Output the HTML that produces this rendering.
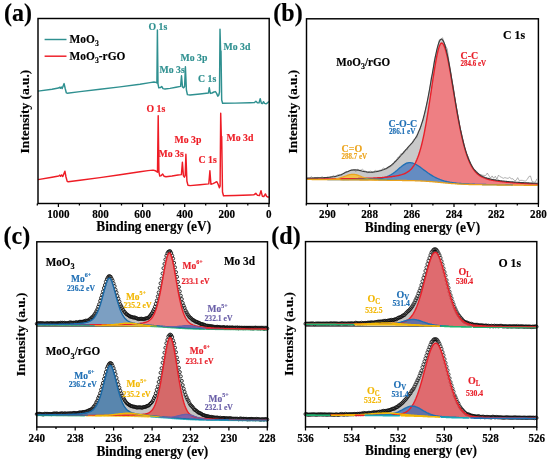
<!DOCTYPE html>
<html><head><meta charset="utf-8"><title>XPS spectra</title>
<style>
html,body{margin:0;padding:0;background:#fff}
svg{display:block}
svg text{font-family:"Liberation Serif", serif;font-weight:bold;stroke-width:0.15px}
.mk{fill:none;stroke:none;marker-start:url(#c);marker-mid:url(#c);marker-end:url(#c)}
.mk2{fill:none;stroke:none;marker-start:url(#c2);marker-mid:url(#c2);marker-end:url(#c2)}
</style></head><body>
<svg width="550" height="463" viewBox="0 0 550 463">
<defs><marker id="c" markerWidth="6" markerHeight="6" refX="3" refY="3" markerUnits="userSpaceOnUse" overflow="visible"><circle cx="3" cy="3" r="1.55" fill="none" stroke="#111" stroke-width="0.85"/></marker><marker id="c2" markerWidth="6" markerHeight="6" refX="3" refY="3" markerUnits="userSpaceOnUse" overflow="visible"><circle cx="3" cy="3" r="1.6" fill="none" stroke="#000" stroke-width="0.7"/></marker></defs>
<rect width="550" height="463" fill="#fff"/>
<polyline points="38.0,91.1 52.0,89.3 58.5,88.0 59.5,87.2 60.3,88.3 61.2,87.0 62.2,88.6 64.1,83.6 65.2,88.5 66.3,92.8 67.2,93.2 80.0,91.6 100.0,89.3 120.0,86.9 140.0,84.2 150.0,82.6 154.0,82.0 156.0,82.4 156.9,83.0 157.4,30.0 158.0,84.0 158.8,87.8 160.5,87.6 161.7,86.4 163.0,88.6 165.0,89.0 170.0,88.4 176.0,87.3 180.6,86.4 181.5,75.8 182.5,87.0 183.6,87.8 184.6,86.5 185.4,66.7 186.4,90.0 187.4,94.6 190.0,95.0 200.0,94.0 208.4,93.0 209.3,87.8 210.3,93.4 212.0,93.0 214.0,92.0 215.4,91.6 216.6,93.4 217.8,96.2 218.8,95.0 219.5,92.0 220.0,29.3 220.6,51.0 221.0,51.0 221.7,100.0 222.6,103.2 235.0,103.1 250.0,102.7 254.5,102.5 255.9,101.2 257.4,102.8 259.0,102.9 260.2,98.7 261.4,103.2 262.5,103.6 263.5,101.7 264.6,103.4 266.0,103.8 267.5,102.8 269.0,101.5" fill="none" stroke="#2f9090" stroke-width="1.45" stroke-linejoin="round"/>
<polyline points="38.0,179.6 52.0,177.2 58.7,176.0 59.8,175.2 60.6,176.3 61.6,174.9 62.8,176.5 64.9,171.2 66.0,177.0 67.2,181.4 68.2,181.8 80.0,180.2 100.0,177.6 120.0,174.7 140.0,171.7 148.0,170.6 153.0,170.1 155.5,170.8 157.5,172.2 158.2,115.8 158.9,172.0 159.8,176.0 161.3,175.6 162.7,174.0 164.0,176.2 166.0,176.8 172.0,176.0 178.0,175.0 181.4,174.6 182.4,162.2 183.4,175.6 184.4,177.2 185.2,175.5 185.9,154.3 186.9,181.0 187.9,185.2 190.0,185.6 200.0,184.8 208.8,183.9 209.9,170.7 210.9,184.3 213.0,183.6 215.5,182.3 216.9,181.8 218.2,184.5 219.4,187.8 220.1,186.0 220.7,113.2 221.3,136.4 221.7,136.4 222.5,192.0 223.5,195.8 235.0,195.5 250.0,195.0 253.8,194.8 255.8,193.3 257.5,195.4 259.5,195.5 261.0,190.7 262.3,196.2 263.8,196.6 265.4,193.9 266.6,196.4 268.0,197.2 269.0,196.8" fill="none" stroke="#ee1c25" stroke-width="1.45" stroke-linejoin="round"/>
<rect x="38.0" y="18.5" width="231.2" height="185.0" fill="none" stroke="#000" stroke-width="1.45"/>
<path d="M58.4 203.5v3.5M100.5 203.5v3.5M142.6 203.5v3.5M184.7 203.5v3.5M226.8 203.5v3.5M268.9 203.5v3.5M37.3 203.5v2.0M79.4 203.5v2.0M121.5 203.5v2.0M163.6 203.5v2.0M205.7 203.5v2.0M247.8 203.5v2.0" stroke="#000" stroke-width="1.25" fill="none"/>
<text transform="translate(58.4 218.0) scale(1 1.08)" font-size="11.1" fill="#000" stroke="#000" text-anchor="middle" >1000</text>
<text transform="translate(100.5 218.0) scale(1 1.08)" font-size="11.1" fill="#000" stroke="#000" text-anchor="middle" >800</text>
<text transform="translate(142.6 218.0) scale(1 1.08)" font-size="11.1" fill="#000" stroke="#000" text-anchor="middle" >600</text>
<text transform="translate(184.7 218.0) scale(1 1.08)" font-size="11.1" fill="#000" stroke="#000" text-anchor="middle" >400</text>
<text transform="translate(226.8 218.0) scale(1 1.08)" font-size="11.1" fill="#000" stroke="#000" text-anchor="middle" >200</text>
<text transform="translate(268.9 218.0) scale(1 1.08)" font-size="11.1" fill="#000" stroke="#000" text-anchor="middle" >0</text>
<text transform="translate(28.5 111.6) rotate(-90) scale(1.155 1)" font-size="11.6" stroke="#000" text-anchor="middle">Intensity (a.u.)</text>
<text transform="translate(153.7 231.4) scale(1 1.08)" font-size="13.35" fill="#000" stroke="#000" text-anchor="middle" >Binding energy (eV)</text>
<text transform="translate(4.0 21.2) scale(1 1.08)" font-size="24" fill="#000" stroke="#000" text-anchor="start" >(a)</text>
<path d="M44.6 39.5h21.9" stroke="#2f9090" stroke-width="1.45"/>
<path d="M44.6 56.2h21.9" stroke="#ee1c25" stroke-width="1.45"/>
<text transform="translate(69.6 42.8) scale(1 1.08)" font-size="11.4" fill="#000" stroke="#000" text-anchor="start" >MoO<tspan dy="3.3" font-size="7.8">3</tspan><tspan dy="-3.3" font-size="0.1">&#8203;</tspan></text>
<text transform="translate(69.6 59.5) scale(1 1.08)" font-size="11.4" fill="#000" stroke="#000" text-anchor="start" >MoO<tspan dy="3.3" font-size="7.8">3</tspan><tspan dy="-3.3" font-size="0.1">&#8203;</tspan>-rGO</text>
<text transform="translate(148.5 29.5) scale(1 1.08)" font-size="9.8" fill="#2f9090" stroke="#2f9090" text-anchor="start" >O 1s</text>
<text transform="translate(223.5 50.0) scale(1 1.08)" font-size="9.8" fill="#2f9090" stroke="#2f9090" text-anchor="start" >Mo 3d</text>
<text transform="translate(180.5 61.0) scale(1 1.08)" font-size="9.8" fill="#2f9090" stroke="#2f9090" text-anchor="start" >Mo 3p</text>
<text transform="translate(159.5 72.5) scale(1 1.08)" font-size="9.8" fill="#2f9090" stroke="#2f9090" text-anchor="start" >Mo 3s</text>
<text transform="translate(198.0 82.0) scale(1 1.08)" font-size="9.8" fill="#2f9090" stroke="#2f9090" text-anchor="start" >C 1s</text>
<text transform="translate(146.5 111.5) scale(1 1.08)" font-size="9.8" fill="#ee1c25" stroke="#ee1c25" text-anchor="start" >O 1s</text>
<text transform="translate(226.5 141.0) scale(1 1.08)" font-size="9.8" fill="#ee1c25" stroke="#ee1c25" text-anchor="start" >Mo 3d</text>
<text transform="translate(174.5 142.5) scale(1 1.08)" font-size="9.8" fill="#ee1c25" stroke="#ee1c25" text-anchor="start" >Mo 3p</text>
<text transform="translate(158.5 156.5) scale(1 1.08)" font-size="9.8" fill="#ee1c25" stroke="#ee1c25" text-anchor="start" >Mo 3s</text>
<text transform="translate(198.5 163.0) scale(1 1.08)" font-size="9.8" fill="#ee1c25" stroke="#ee1c25" text-anchor="start" >C 1s</text>
<polygon points="306.5,178.1 307.3,178.1 308.1,178.0 308.9,178.0 309.7,178.0 310.5,178.0 311.3,178.0 312.1,178.0 312.9,178.0 313.7,178.0 314.5,177.9 315.3,177.9 316.1,177.9 316.9,177.9 317.7,177.9 318.5,177.8 319.3,177.8 320.1,177.8 320.9,177.8 321.7,177.7 322.5,177.7 323.3,177.7 324.1,177.6 324.9,177.6 325.7,177.5 326.5,177.5 327.3,177.4 328.1,177.4 328.9,177.3 329.7,177.2 330.5,177.1 331.3,177.0 332.1,176.9 332.9,176.8 333.7,176.7 334.5,176.6 335.3,176.4 336.1,176.2 336.9,176.0 337.7,175.8 338.5,175.5 339.3,175.3 340.1,175.0 340.9,174.7 341.7,174.3 342.5,174.0 343.3,173.6 344.1,173.2 344.9,172.8 345.7,172.5 346.5,172.1 347.3,171.7 348.1,171.4 348.9,171.0 349.7,170.7 350.5,170.5 351.3,170.3 352.1,170.1 352.9,170.0 353.7,169.9 354.5,169.8 355.3,169.9 356.1,169.9 356.9,170.0 357.7,170.1 358.5,170.3 359.3,170.5 360.1,170.6 360.9,170.8 361.7,171.0 362.5,171.2 363.3,171.4 364.1,171.5 364.9,171.7 365.7,171.8 366.5,171.9 367.3,172.0 368.1,172.1 368.9,172.1 369.7,172.2 370.5,172.2 371.3,172.1 372.1,172.1 372.9,172.1 373.7,172.0 374.5,171.9 375.3,171.8 376.1,171.7 376.9,171.5 377.7,171.4 378.5,171.2 379.3,171.0 380.1,170.8 380.9,170.6 381.7,170.3 382.5,170.0 383.3,169.7 384.1,169.4 384.9,169.0 385.7,168.7 386.5,168.3 387.3,167.8 388.1,167.3 388.9,166.8 389.7,166.3 390.5,165.7 391.3,165.1 392.1,164.4 392.9,163.8 393.7,163.1 394.5,162.3 395.3,161.5 396.1,160.7 396.9,159.9 397.7,159.1 398.5,158.2 399.3,157.3 400.1,156.4 400.9,155.5 401.7,154.5 402.5,153.6 403.3,152.7 404.1,151.7 404.9,150.8 405.7,149.9 406.5,149.0 407.3,148.1 408.1,147.2 408.9,146.4 409.7,145.5 410.5,144.6 411.3,143.7 412.1,142.8 412.9,141.8 413.7,140.7 414.5,139.5 415.3,138.3 416.1,136.9 416.9,135.5 417.7,133.9 418.5,132.1 419.3,130.3 420.1,128.2 420.9,126.0 421.7,123.6 422.5,121.0 423.3,118.2 424.1,115.2 424.9,112.0 425.7,108.5 426.5,104.9 427.3,101.1 428.1,97.0 428.9,92.8 429.7,88.5 430.5,84.0 431.3,79.4 432.1,74.8 432.9,70.2 433.7,65.7 434.5,61.2 435.3,57.0 436.1,53.1 436.9,49.4 437.7,46.3 438.5,43.6 439.3,41.5 440.1,40.0 440.9,39.3 441.7,39.2 442.5,39.9 443.3,41.1 444.1,42.8 444.9,45.0 445.7,47.8 446.5,50.9 447.3,54.5 448.1,58.4 448.9,62.6 449.7,67.1 450.5,71.7 451.3,76.5 452.1,81.3 452.9,86.2 453.7,91.1 454.5,96.0 455.3,100.9 456.1,105.6 456.9,110.3 457.7,114.8 458.5,119.2 459.3,123.4 460.1,127.5 460.9,131.4 461.7,135.0 462.5,138.5 463.3,141.8 464.1,145.0 464.9,147.9 465.7,150.6 466.5,153.1 467.3,155.5 468.1,157.7 468.9,159.7 469.7,161.5 470.5,163.2 471.3,164.8 472.1,166.2 472.9,167.5 473.7,168.7 474.5,169.8 475.3,170.7 476.1,171.6 476.9,172.4 477.7,173.2 478.5,173.8 479.3,174.4 480.1,175.0 480.9,175.5 481.7,175.9 482.5,176.3 483.3,176.7 484.1,177.0 484.9,177.4 485.7,177.7 486.5,177.9 487.3,178.2 488.1,178.4 488.9,178.6 489.7,178.8 490.5,179.0 491.3,179.2 492.1,179.4 492.9,179.5 493.7,179.7 494.5,179.8 495.3,179.9 496.1,180.1 496.9,180.2 497.7,180.3 498.5,180.4 499.3,180.5 500.1,180.7 500.9,180.8 501.7,180.9 502.5,181.0 503.3,181.0 504.1,181.1 504.9,181.2 505.7,181.3 506.5,181.4 507.3,181.5 508.1,181.5 508.9,181.6 509.7,181.7 510.5,181.8 511.3,181.8 512.1,181.9 512.9,181.9 513.7,182.0 514.5,182.1 515.3,182.1 516.1,182.2 516.9,182.2 517.7,182.3 518.5,182.4 519.3,182.4 520.1,182.5 520.9,182.5 521.7,182.6 522.5,182.6 523.3,182.6 524.1,182.7 524.9,182.7 525.7,182.8 526.5,182.8 527.3,182.9 528.1,182.9 528.9,182.9 529.7,183.0 530.5,183.0 531.3,183.1 532.1,183.1 532.9,183.1 533.7,183.2 534.5,183.2 535.3,183.2 536.1,183.3 536.9,183.3 537.7,183.3 537.7,185.4 536.9,185.4 536.1,185.4 535.3,185.4 534.5,185.4 533.7,185.4 532.9,185.3 532.1,185.3 531.3,185.3 530.5,185.3 529.7,185.3 528.9,185.3 528.1,185.3 527.3,185.3 526.5,185.3 525.7,185.3 524.9,185.3 524.1,185.3 523.3,185.2 522.5,185.2 521.7,185.2 520.9,185.2 520.1,185.2 519.3,185.2 518.5,185.2 517.7,185.2 516.9,185.2 516.1,185.2 515.3,185.2 514.5,185.2 513.7,185.1 512.9,185.1 512.1,185.1 511.3,185.1 510.5,185.1 509.7,185.1 508.9,185.1 508.1,185.1 507.3,185.1 506.5,185.1 505.7,185.1 504.9,185.0 504.1,185.0 503.3,185.0 502.5,185.0 501.7,185.0 500.9,185.0 500.1,185.0 499.3,185.0 498.5,185.0 497.7,185.0 496.9,185.0 496.1,184.9 495.3,184.9 494.5,184.9 493.7,184.9 492.9,184.9 492.1,184.9 491.3,184.9 490.5,184.9 489.7,184.9 488.9,184.9 488.1,184.8 487.3,184.8 486.5,184.8 485.7,184.8 484.9,184.8 484.1,184.8 483.3,184.8 482.5,184.8 481.7,184.7 480.9,184.7 480.1,184.7 479.3,184.7 478.5,184.7 477.7,184.7 476.9,184.7 476.1,184.6 475.3,184.6 474.5,184.6 473.7,184.6 472.9,184.6 472.1,184.5 471.3,184.5 470.5,184.5 469.7,184.5 468.9,184.5 468.1,184.4 467.3,184.4 466.5,184.4 465.7,184.3 464.9,184.3 464.1,184.3 463.3,184.2 462.5,184.2 461.7,184.2 460.9,184.1 460.1,184.1 459.3,184.1 458.5,184.0 457.7,184.0 456.9,183.9 456.1,183.9 455.3,183.8 454.5,183.7 453.7,183.7 452.9,183.6 452.1,183.6 451.3,183.5 450.5,183.4 449.7,183.4 448.9,183.3 448.1,183.2 447.3,183.1 446.5,183.1 445.7,183.0 444.9,182.9 444.1,182.8 443.3,182.8 442.5,182.7 441.7,182.6 440.9,182.5 440.1,182.4 439.3,182.4 438.5,182.3 437.7,182.2 436.9,182.1 436.1,182.0 435.3,182.0 434.5,181.9 433.7,181.8 432.9,181.8 432.1,181.7 431.3,181.6 430.5,181.6 429.7,181.5 428.9,181.4 428.1,181.4 427.3,181.3 426.5,181.3 425.7,181.2 424.9,181.2 424.1,181.1 423.3,181.1 422.5,181.1 421.7,181.0 420.9,181.0 420.1,180.9 419.3,180.9 418.5,180.9 417.7,180.8 416.9,180.8 416.1,180.8 415.3,180.8 414.5,180.7 413.7,180.7 412.9,180.7 412.1,180.7 411.3,180.6 410.5,180.6 409.7,180.6 408.9,180.6 408.1,180.6 407.3,180.6 406.5,180.5 405.7,180.5 404.9,180.5 404.1,180.5 403.3,180.5 402.5,180.5 401.7,180.4 400.9,180.4 400.1,180.4 399.3,180.4 398.5,180.4 397.7,180.4 396.9,180.4 396.1,180.4 395.3,180.4 394.5,180.3 393.7,180.3 392.9,180.3 392.1,180.3 391.3,180.3 390.5,180.3 389.7,180.3 388.9,180.3 388.1,180.3 387.3,180.3 386.5,180.2 385.7,180.2 384.9,180.2 384.1,180.2 383.3,180.2 382.5,180.2 381.7,180.2 380.9,180.2 380.1,180.2 379.3,180.2 378.5,180.2 377.7,180.1 376.9,180.1 376.1,180.1 375.3,180.1 374.5,180.1 373.7,180.1 372.9,180.1 372.1,180.1 371.3,180.1 370.5,180.1 369.7,180.1 368.9,180.0 368.1,180.0 367.3,180.0 366.5,180.0 365.7,180.0 364.9,180.0 364.1,180.0 363.3,180.0 362.5,180.0 361.7,180.0 360.9,180.0 360.1,180.0 359.3,179.9 358.5,179.9 357.7,179.9 356.9,179.9 356.1,179.9 355.3,179.9 354.5,179.9 353.7,179.9 352.9,179.9 352.1,179.9 351.3,179.9 350.5,179.9 349.7,179.8 348.9,179.8 348.1,179.8 347.3,179.8 346.5,179.8 345.7,179.8 344.9,179.8 344.1,179.8 343.3,179.8 342.5,179.8 341.7,179.8 340.9,179.8 340.1,179.7 339.3,179.7 338.5,179.7 337.7,179.7 336.9,179.7 336.1,179.7 335.3,179.7 334.5,179.7 333.7,179.7 332.9,179.7 332.1,179.7 331.3,179.7 330.5,179.6 329.7,179.6 328.9,179.6 328.1,179.6 327.3,179.6 326.5,179.6 325.7,179.6 324.9,179.6 324.1,179.6 323.3,179.6 322.5,179.6 321.7,179.6 320.9,179.5 320.1,179.5 319.3,179.5 318.5,179.5 317.7,179.5 316.9,179.5 316.1,179.5 315.3,179.5 314.5,179.5 313.7,179.5 312.9,179.5 312.1,179.5 311.3,179.4 310.5,179.4 309.7,179.4 308.9,179.4 308.1,179.4 307.3,179.4 306.5,179.4" fill="#c9c9c9" stroke="none"/>
<polyline points="306.5,179.4 308.1,178.4 309.7,178.1 311.3,176.6 312.9,177.8 314.5,177.7 316.1,177.8 317.7,177.4 319.3,177.8 320.9,177.4 322.5,176.7 324.1,178.3 325.7,178.2 327.3,178.7 328.9,177.3 330.5,176.8 332.1,176.5 333.7,175.5 335.3,177.1 336.9,175.2 338.5,174.6 340.1,174.8 341.7,175.5 343.3,173.8 344.9,172.0 346.5,171.5 348.1,171.9 349.7,170.6 351.3,169.6 352.9,169.8 354.5,170.4 356.1,171.5 357.7,169.1 359.3,170.0 360.9,170.2 362.5,169.3 364.1,170.8 365.7,171.0 367.3,172.9 368.9,172.0 370.5,170.9 372.1,172.6 373.7,171.7 375.3,170.4 376.9,171.0 378.5,170.7 380.1,170.1 381.7,170.3 383.3,167.9 384.9,168.8 386.5,169.1 388.1,168.0 389.7,167.2 391.3,166.1 392.9,165.1 394.5,161.3 396.1,161.5 397.7,157.4 399.3,156.7 400.9,153.6 402.5,154.6 404.1,153.0 405.7,149.7 407.3,149.9 408.9,145.7 410.5,144.8 412.1,142.9 413.7,139.5 415.3,138.7 416.9,137.6 418.5,130.9 420.1,129.3 421.7,123.4 423.3,120.5 424.9,112.6 426.5,105.9 428.1,98.0 429.7,88.8 431.3,77.1 432.9,72.6 434.5,58.8 436.1,53.5 437.7,47.5 439.3,39.8 440.9,39.6 442.5,37.7 444.1,42.7 445.7,46.1 447.3,49.0 448.9,60.9 450.5,70.7 452.1,80.5 453.7,89.6 455.3,101.4 456.9,109.5 458.5,119.1 460.1,128.3 461.7,134.1 463.3,141.5 464.9,150.1 466.5,154.0 468.1,156.4 469.7,161.4 471.3,165.3 472.9,168.6 474.5,169.9 476.1,171.1 477.7,172.3 479.3,174.5 480.9,174.6 482.5,175.2 484.1,175.4 485.7,175.5 487.3,173.0 488.9,175.7 490.5,178.1 492.1,175.9 493.7,178.3 495.3,176.2 496.9,179.3 498.5,175.1 500.1,176.7 501.7,177.4 503.3,178.3 504.9,177.6 506.5,178.1 508.1,178.4 509.7,177.1 511.3,179.0 512.9,178.7 514.5,180.6 516.1,180.4 517.7,177.6 519.3,180.7 520.9,180.3 522.5,180.4 524.1,181.0 525.7,180.9 527.3,179.4 528.9,176.5 530.5,176.0 532.1,181.5 533.7,182.0 535.3,182.3 536.9,178.8" fill="none" stroke="#7d7d7d" stroke-width="0.6"/>
<polygon points="306.5,178.9 307.3,178.9 308.1,178.9 308.9,178.9 309.7,178.9 310.5,178.9 311.3,178.9 312.1,178.9 312.9,178.9 313.7,178.9 314.5,178.9 315.3,178.9 316.1,178.9 316.9,178.9 317.7,178.9 318.5,178.9 319.3,178.9 320.1,178.9 320.9,178.9 321.7,178.9 322.5,178.9 323.3,178.9 324.1,178.9 324.9,178.9 325.7,178.9 326.5,178.9 327.3,178.9 328.1,178.9 328.9,178.9 329.7,178.9 330.5,178.9 331.3,178.9 332.1,178.9 332.9,178.8 333.7,178.8 334.5,178.8 335.3,178.8 336.1,178.8 336.9,178.8 337.7,178.8 338.5,178.8 339.3,178.8 340.1,178.8 340.9,178.8 341.7,178.8 342.5,178.8 343.3,178.8 344.1,178.8 344.9,178.8 345.7,178.7 346.5,178.7 347.3,178.7 348.1,178.7 348.9,178.7 349.7,178.7 350.5,178.7 351.3,178.7 352.1,178.7 352.9,178.6 353.7,178.6 354.5,178.6 355.3,178.6 356.1,178.6 356.9,178.6 357.7,178.6 358.5,178.5 359.3,178.5 360.1,178.5 360.9,178.5 361.7,178.5 362.5,178.4 363.3,178.4 364.1,178.4 364.9,178.4 365.7,178.3 366.5,178.3 367.3,178.3 368.1,178.3 368.9,178.2 369.7,178.2 370.5,178.2 371.3,178.1 372.1,178.1 372.9,178.1 373.7,178.0 374.5,178.0 375.3,178.0 376.1,177.9 376.9,177.9 377.7,177.8 378.5,177.8 379.3,177.7 380.1,177.7 380.9,177.6 381.7,177.6 382.5,177.5 383.3,177.4 384.1,177.4 384.9,177.3 385.7,177.2 386.5,177.2 387.3,177.1 388.1,177.0 388.9,176.9 389.7,176.8 390.5,176.7 391.3,176.7 392.1,176.5 392.9,176.4 393.7,176.3 394.5,176.2 395.3,176.1 396.1,175.9 396.9,175.8 397.7,175.6 398.5,175.5 399.3,175.3 400.1,175.1 400.9,174.9 401.7,174.7 402.5,174.4 403.3,174.1 404.1,173.8 404.9,173.5 405.7,173.1 406.5,172.7 407.3,172.2 408.1,171.7 408.9,171.1 409.7,170.5 410.5,169.7 411.3,168.9 412.1,168.0 412.9,166.9 413.7,165.8 414.5,164.5 415.3,163.0 416.1,161.4 416.9,159.6 417.7,157.6 418.5,155.4 419.3,153.1 420.1,150.4 420.9,147.6 421.7,144.5 422.5,141.2 423.3,137.6 424.1,133.8 424.9,129.7 425.7,125.4 426.5,120.9 427.3,116.2 428.1,111.3 428.9,106.2 429.7,101.0 430.5,95.6 431.3,90.3 432.1,84.9 432.9,79.5 433.7,74.3 434.5,69.2 435.3,64.3 436.1,59.8 436.9,55.7 437.7,52.0 438.5,48.9 439.3,46.4 440.1,44.5 440.9,43.4 441.7,43.1 442.5,43.4 443.3,44.4 444.1,45.9 444.9,47.9 445.7,50.5 446.5,53.5 447.3,56.9 448.1,60.7 448.9,64.8 449.7,69.1 450.5,73.6 451.3,78.3 452.1,83.1 452.9,87.9 453.7,92.8 454.5,97.6 455.3,102.4 456.1,107.1 456.9,111.7 457.7,116.2 458.5,120.5 459.3,124.7 460.1,128.8 460.9,132.6 461.7,136.3 462.5,139.7 463.3,143.0 464.1,146.1 464.9,149.0 465.7,151.7 466.5,154.2 467.3,156.6 468.1,158.7 468.9,160.7 469.7,162.6 470.5,164.3 471.3,165.8 472.1,167.2 472.9,168.5 473.7,169.7 474.5,170.7 475.3,171.7 476.1,172.6 476.9,173.4 477.7,174.1 478.5,174.8 479.3,175.4 480.1,175.9 480.9,176.4 481.7,176.8 482.5,177.2 483.3,177.6 484.1,177.9 484.9,178.2 485.7,178.5 486.5,178.8 487.3,179.0 488.1,179.3 488.9,179.5 489.7,179.7 490.5,179.9 491.3,180.0 492.1,180.2 492.9,180.3 493.7,180.5 494.5,180.6 495.3,180.8 496.1,180.9 496.9,181.0 497.7,181.1 498.5,181.2 499.3,181.3 500.1,181.5 500.9,181.6 501.7,181.6 502.5,181.7 503.3,181.8 504.1,181.9 504.9,182.0 505.7,182.1 506.5,182.2 507.3,182.2 508.1,182.3 508.9,182.4 509.7,182.4 510.5,182.5 511.3,182.6 512.1,182.6 512.9,182.7 513.7,182.8 514.5,182.8 515.3,182.9 516.1,182.9 516.9,183.0 517.7,183.0 518.5,183.1 519.3,183.1 520.1,183.2 520.9,183.2 521.7,183.3 522.5,183.3 523.3,183.4 524.1,183.4 524.9,183.5 525.7,183.5 526.5,183.5 527.3,183.6 528.1,183.6 528.9,183.7 529.7,183.7 530.5,183.7 531.3,183.8 532.1,183.8 532.9,183.8 533.7,183.9 534.5,183.9 535.3,183.9 536.1,184.0 536.9,184.0 537.7,184.0 537.7,185.4 536.9,185.4 536.1,185.4 535.3,185.4 534.5,185.4 533.7,185.4 532.9,185.3 532.1,185.3 531.3,185.3 530.5,185.3 529.7,185.3 528.9,185.3 528.1,185.3 527.3,185.3 526.5,185.3 525.7,185.3 524.9,185.3 524.1,185.3 523.3,185.2 522.5,185.2 521.7,185.2 520.9,185.2 520.1,185.2 519.3,185.2 518.5,185.2 517.7,185.2 516.9,185.2 516.1,185.2 515.3,185.2 514.5,185.2 513.7,185.1 512.9,185.1 512.1,185.1 511.3,185.1 510.5,185.1 509.7,185.1 508.9,185.1 508.1,185.1 507.3,185.1 506.5,185.1 505.7,185.1 504.9,185.0 504.1,185.0 503.3,185.0 502.5,185.0 501.7,185.0 500.9,185.0 500.1,185.0 499.3,185.0 498.5,185.0 497.7,185.0 496.9,185.0 496.1,184.9 495.3,184.9 494.5,184.9 493.7,184.9 492.9,184.9 492.1,184.9 491.3,184.9 490.5,184.9 489.7,184.9 488.9,184.9 488.1,184.8 487.3,184.8 486.5,184.8 485.7,184.8 484.9,184.8 484.1,184.8 483.3,184.8 482.5,184.8 481.7,184.7 480.9,184.7 480.1,184.7 479.3,184.7 478.5,184.7 477.7,184.7 476.9,184.7 476.1,184.6 475.3,184.6 474.5,184.6 473.7,184.6 472.9,184.6 472.1,184.5 471.3,184.5 470.5,184.5 469.7,184.5 468.9,184.5 468.1,184.4 467.3,184.4 466.5,184.4 465.7,184.3 464.9,184.3 464.1,184.3 463.3,184.2 462.5,184.2 461.7,184.2 460.9,184.1 460.1,184.1 459.3,184.1 458.5,184.0 457.7,184.0 456.9,183.9 456.1,183.9 455.3,183.8 454.5,183.7 453.7,183.7 452.9,183.6 452.1,183.6 451.3,183.5 450.5,183.4 449.7,183.4 448.9,183.3 448.1,183.2 447.3,183.1 446.5,183.1 445.7,183.0 444.9,182.9 444.1,182.8 443.3,182.8 442.5,182.7 441.7,182.6 440.9,182.5 440.1,182.4 439.3,182.4 438.5,182.3 437.7,182.2 436.9,182.1 436.1,182.0 435.3,182.0 434.5,181.9 433.7,181.8 432.9,181.8 432.1,181.7 431.3,181.6 430.5,181.6 429.7,181.5 428.9,181.4 428.1,181.4 427.3,181.3 426.5,181.3 425.7,181.2 424.9,181.2 424.1,181.1 423.3,181.1 422.5,181.1 421.7,181.0 420.9,181.0 420.1,180.9 419.3,180.9 418.5,180.9 417.7,180.8 416.9,180.8 416.1,180.8 415.3,180.8 414.5,180.7 413.7,180.7 412.9,180.7 412.1,180.7 411.3,180.6 410.5,180.6 409.7,180.6 408.9,180.6 408.1,180.6 407.3,180.6 406.5,180.5 405.7,180.5 404.9,180.5 404.1,180.5 403.3,180.5 402.5,180.5 401.7,180.4 400.9,180.4 400.1,180.4 399.3,180.4 398.5,180.4 397.7,180.4 396.9,180.4 396.1,180.4 395.3,180.4 394.5,180.3 393.7,180.3 392.9,180.3 392.1,180.3 391.3,180.3 390.5,180.3 389.7,180.3 388.9,180.3 388.1,180.3 387.3,180.3 386.5,180.2 385.7,180.2 384.9,180.2 384.1,180.2 383.3,180.2 382.5,180.2 381.7,180.2 380.9,180.2 380.1,180.2 379.3,180.2 378.5,180.2 377.7,180.1 376.9,180.1 376.1,180.1 375.3,180.1 374.5,180.1 373.7,180.1 372.9,180.1 372.1,180.1 371.3,180.1 370.5,180.1 369.7,180.1 368.9,180.0 368.1,180.0 367.3,180.0 366.5,180.0 365.7,180.0 364.9,180.0 364.1,180.0 363.3,180.0 362.5,180.0 361.7,180.0 360.9,180.0 360.1,180.0 359.3,179.9 358.5,179.9 357.7,179.9 356.9,179.9 356.1,179.9 355.3,179.9 354.5,179.9 353.7,179.9 352.9,179.9 352.1,179.9 351.3,179.9 350.5,179.9 349.7,179.8 348.9,179.8 348.1,179.8 347.3,179.8 346.5,179.8 345.7,179.8 344.9,179.8 344.1,179.8 343.3,179.8 342.5,179.8 341.7,179.8 340.9,179.8 340.1,179.7 339.3,179.7 338.5,179.7 337.7,179.7 336.9,179.7 336.1,179.7 335.3,179.7 334.5,179.7 333.7,179.7 332.9,179.7 332.1,179.7 331.3,179.7 330.5,179.6 329.7,179.6 328.9,179.6 328.1,179.6 327.3,179.6 326.5,179.6 325.7,179.6 324.9,179.6 324.1,179.6 323.3,179.6 322.5,179.6 321.7,179.6 320.9,179.5 320.1,179.5 319.3,179.5 318.5,179.5 317.7,179.5 316.9,179.5 316.1,179.5 315.3,179.5 314.5,179.5 313.7,179.5 312.9,179.5 312.1,179.5 311.3,179.4 310.5,179.4 309.7,179.4 308.9,179.4 308.1,179.4 307.3,179.4 306.5,179.4" fill="#ee7f83" stroke="none"/>
<polygon points="327.3,179.5 328.1,179.5 328.9,179.5 329.7,179.5 330.5,179.5 331.3,179.5 332.1,179.5 332.9,179.5 333.7,179.5 334.5,179.5 335.3,179.5 336.1,179.5 336.9,179.5 337.7,179.5 338.5,179.5 339.3,179.5 340.1,179.5 340.9,179.5 341.7,179.5 342.5,179.5 343.3,179.6 344.1,179.6 344.9,179.6 345.7,179.6 346.5,179.6 347.3,179.6 348.1,179.6 348.9,179.6 349.7,179.6 350.5,179.6 351.3,179.6 352.1,179.6 352.9,179.6 353.7,179.6 354.5,179.6 355.3,179.6 356.1,179.6 356.9,179.6 357.7,179.6 358.5,179.6 359.3,179.6 360.1,179.6 360.9,179.6 361.7,179.5 362.5,179.5 363.3,179.5 364.1,179.5 364.9,179.5 365.7,179.5 366.5,179.5 367.3,179.5 368.1,179.5 368.9,179.4 369.7,179.4 370.5,179.4 371.3,179.4 372.1,179.3 372.9,179.3 373.7,179.3 374.5,179.2 375.3,179.2 376.1,179.1 376.9,179.0 377.7,178.9 378.5,178.8 379.3,178.7 380.1,178.6 380.9,178.5 381.7,178.3 382.5,178.1 383.3,177.9 384.1,177.7 384.9,177.5 385.7,177.2 386.5,176.9 387.3,176.6 388.1,176.2 388.9,175.9 389.7,175.4 390.5,175.0 391.3,174.5 392.1,174.0 392.9,173.5 393.7,172.9 394.5,172.3 395.3,171.7 396.1,171.0 396.9,170.4 397.7,169.7 398.5,169.0 399.3,168.3 400.1,167.6 400.9,167.0 401.7,166.3 402.5,165.7 403.3,165.1 404.1,164.6 404.9,164.1 405.7,163.6 406.5,163.2 407.3,163.0 408.1,162.8 408.9,162.6 409.7,162.6 410.5,162.7 411.3,162.8 412.1,162.9 412.9,163.2 413.7,163.4 414.5,163.8 415.3,164.1 416.1,164.5 416.9,165.0 417.7,165.5 418.5,166.0 419.3,166.5 420.1,167.1 420.9,167.7 421.7,168.3 422.5,168.9 423.3,169.5 424.1,170.1 424.9,170.6 425.7,171.2 426.5,171.8 427.3,172.4 428.1,173.0 428.9,173.5 429.7,174.1 430.5,174.6 431.3,175.1 432.1,175.6 432.9,176.1 433.7,176.5 434.5,177.0 435.3,177.4 436.1,177.8 436.9,178.2 437.7,178.5 438.5,178.9 439.3,179.2 440.1,179.5 440.9,179.8 441.7,180.1 442.5,180.4 443.3,180.6 444.1,180.9 444.9,181.1 445.7,181.3 446.5,181.5 447.3,181.7 448.1,181.8 448.9,182.0 449.7,182.2 450.5,182.3 451.3,182.4 452.1,182.6 452.9,182.7 453.7,182.8 454.5,182.9 455.3,183.0 456.1,183.1 456.9,183.2 457.7,183.3 458.5,183.3 459.3,183.4 460.1,183.5 460.9,183.5 461.7,183.6 462.5,183.7 463.3,183.7 464.1,183.8 464.9,183.8 465.7,183.9 466.5,183.9 467.3,183.9 468.1,184.0 468.9,184.0 469.7,184.1 470.5,184.1 471.3,184.1 472.1,184.2 472.9,184.2 473.7,184.2 474.5,184.2 475.3,184.3 476.1,184.3 476.9,184.3 477.7,184.3 478.5,184.4 479.3,184.4 480.1,184.4 480.9,184.4 481.7,184.4 482.5,184.5 483.3,184.5 484.1,184.5 484.9,184.5 485.7,184.5 486.5,184.6 487.3,184.6 488.1,184.6 488.9,184.6 489.7,184.6 490.5,184.6 491.3,184.6 492.1,184.7 492.9,184.7 493.7,184.7 494.5,184.7 495.3,184.7 496.1,184.7 496.9,184.7 497.7,184.8 498.5,184.8 499.3,184.8 500.1,184.8 500.9,184.8 501.7,184.8 502.5,184.8 503.3,184.8 504.1,184.9 504.9,184.9 505.7,184.9 506.5,184.9 507.3,184.9 508.1,184.9 508.9,184.9 509.7,184.9 510.5,184.9 511.3,185.0 512.1,185.0 512.9,185.0 512.9,185.1 512.1,185.1 511.3,185.1 510.5,185.1 509.7,185.1 508.9,185.1 508.1,185.1 507.3,185.1 506.5,185.1 505.7,185.1 504.9,185.0 504.1,185.0 503.3,185.0 502.5,185.0 501.7,185.0 500.9,185.0 500.1,185.0 499.3,185.0 498.5,185.0 497.7,185.0 496.9,185.0 496.1,184.9 495.3,184.9 494.5,184.9 493.7,184.9 492.9,184.9 492.1,184.9 491.3,184.9 490.5,184.9 489.7,184.9 488.9,184.9 488.1,184.8 487.3,184.8 486.5,184.8 485.7,184.8 484.9,184.8 484.1,184.8 483.3,184.8 482.5,184.8 481.7,184.7 480.9,184.7 480.1,184.7 479.3,184.7 478.5,184.7 477.7,184.7 476.9,184.7 476.1,184.6 475.3,184.6 474.5,184.6 473.7,184.6 472.9,184.6 472.1,184.5 471.3,184.5 470.5,184.5 469.7,184.5 468.9,184.5 468.1,184.4 467.3,184.4 466.5,184.4 465.7,184.3 464.9,184.3 464.1,184.3 463.3,184.2 462.5,184.2 461.7,184.2 460.9,184.1 460.1,184.1 459.3,184.1 458.5,184.0 457.7,184.0 456.9,183.9 456.1,183.9 455.3,183.8 454.5,183.7 453.7,183.7 452.9,183.6 452.1,183.6 451.3,183.5 450.5,183.4 449.7,183.4 448.9,183.3 448.1,183.2 447.3,183.1 446.5,183.1 445.7,183.0 444.9,182.9 444.1,182.8 443.3,182.8 442.5,182.7 441.7,182.6 440.9,182.5 440.1,182.4 439.3,182.4 438.5,182.3 437.7,182.2 436.9,182.1 436.1,182.0 435.3,182.0 434.5,181.9 433.7,181.8 432.9,181.8 432.1,181.7 431.3,181.6 430.5,181.6 429.7,181.5 428.9,181.4 428.1,181.4 427.3,181.3 426.5,181.3 425.7,181.2 424.9,181.2 424.1,181.1 423.3,181.1 422.5,181.1 421.7,181.0 420.9,181.0 420.1,180.9 419.3,180.9 418.5,180.9 417.7,180.8 416.9,180.8 416.1,180.8 415.3,180.8 414.5,180.7 413.7,180.7 412.9,180.7 412.1,180.7 411.3,180.6 410.5,180.6 409.7,180.6 408.9,180.6 408.1,180.6 407.3,180.6 406.5,180.5 405.7,180.5 404.9,180.5 404.1,180.5 403.3,180.5 402.5,180.5 401.7,180.4 400.9,180.4 400.1,180.4 399.3,180.4 398.5,180.4 397.7,180.4 396.9,180.4 396.1,180.4 395.3,180.4 394.5,180.3 393.7,180.3 392.9,180.3 392.1,180.3 391.3,180.3 390.5,180.3 389.7,180.3 388.9,180.3 388.1,180.3 387.3,180.3 386.5,180.2 385.7,180.2 384.9,180.2 384.1,180.2 383.3,180.2 382.5,180.2 381.7,180.2 380.9,180.2 380.1,180.2 379.3,180.2 378.5,180.2 377.7,180.1 376.9,180.1 376.1,180.1 375.3,180.1 374.5,180.1 373.7,180.1 372.9,180.1 372.1,180.1 371.3,180.1 370.5,180.1 369.7,180.1 368.9,180.0 368.1,180.0 367.3,180.0 366.5,180.0 365.7,180.0 364.9,180.0 364.1,180.0 363.3,180.0 362.5,180.0 361.7,180.0 360.9,180.0 360.1,180.0 359.3,179.9 358.5,179.9 357.7,179.9 356.9,179.9 356.1,179.9 355.3,179.9 354.5,179.9 353.7,179.9 352.9,179.9 352.1,179.9 351.3,179.9 350.5,179.9 349.7,179.8 348.9,179.8 348.1,179.8 347.3,179.8 346.5,179.8 345.7,179.8 344.9,179.8 344.1,179.8 343.3,179.8 342.5,179.8 341.7,179.8 340.9,179.8 340.1,179.7 339.3,179.7 338.5,179.7 337.7,179.7 336.9,179.7 336.1,179.7 335.3,179.7 334.5,179.7 333.7,179.7 332.9,179.7 332.1,179.7 331.3,179.7 330.5,179.6 329.7,179.6 328.9,179.6 328.1,179.6 327.3,179.6" fill="#648cc2" stroke="none"/>
<polygon points="328.9,179.5 329.7,179.4 330.5,179.4 331.3,179.4 332.1,179.3 332.9,179.3 333.7,179.2 334.5,179.1 335.3,179.0 336.1,178.9 336.9,178.7 337.7,178.6 338.5,178.4 339.3,178.2 340.1,177.9 340.9,177.7 341.7,177.4 342.5,177.2 343.3,176.9 344.1,176.6 344.9,176.3 345.7,176.0 346.5,175.7 347.3,175.4 348.1,175.1 348.9,174.9 349.7,174.7 350.5,174.5 351.3,174.4 352.1,174.3 352.9,174.3 353.7,174.3 354.5,174.4 355.3,174.5 356.1,174.7 356.9,174.9 357.7,175.1 358.5,175.4 359.3,175.7 360.1,176.0 360.9,176.3 361.7,176.7 362.5,177.0 363.3,177.3 364.1,177.6 364.9,177.9 365.7,178.2 366.5,178.4 367.3,178.6 368.1,178.8 368.9,179.0 369.7,179.2 370.5,179.3 371.3,179.5 372.1,179.6 372.9,179.7 373.7,179.7 374.5,179.8 375.3,179.9 376.1,179.9 376.9,180.0 377.7,180.0 377.7,180.1 376.9,180.1 376.1,180.1 375.3,180.1 374.5,180.1 373.7,180.1 372.9,180.1 372.1,180.1 371.3,180.1 370.5,180.1 369.7,180.1 368.9,180.0 368.1,180.0 367.3,180.0 366.5,180.0 365.7,180.0 364.9,180.0 364.1,180.0 363.3,180.0 362.5,180.0 361.7,180.0 360.9,180.0 360.1,180.0 359.3,179.9 358.5,179.9 357.7,179.9 356.9,179.9 356.1,179.9 355.3,179.9 354.5,179.9 353.7,179.9 352.9,179.9 352.1,179.9 351.3,179.9 350.5,179.9 349.7,179.8 348.9,179.8 348.1,179.8 347.3,179.8 346.5,179.8 345.7,179.8 344.9,179.8 344.1,179.8 343.3,179.8 342.5,179.8 341.7,179.8 340.9,179.8 340.1,179.7 339.3,179.7 338.5,179.7 337.7,179.7 336.9,179.7 336.1,179.7 335.3,179.7 334.5,179.7 333.7,179.7 332.9,179.7 332.1,179.7 331.3,179.7 330.5,179.6 329.7,179.6 328.9,179.6" fill="#f3c04a" stroke="none"/>
<polygon points="342.5,179.7 343.3,179.7 344.1,179.7 344.9,179.6 345.7,179.6 346.5,179.6 347.3,179.6 348.1,179.6 348.9,179.6 349.7,179.5 350.5,179.5 351.3,179.5 352.1,179.5 352.9,179.4 353.7,179.4 354.5,179.4 355.3,179.3 356.1,179.3 356.9,179.2 357.7,179.2 358.5,179.2 359.3,179.1 360.1,179.1 360.9,179.1 361.7,179.0 362.5,179.0 363.3,179.0 364.1,178.9 364.9,178.9 365.7,178.9 366.5,178.9 367.3,178.9 368.1,178.8 368.9,178.9 369.7,178.9 370.5,178.9 371.3,178.9 372.1,178.9 372.9,178.9 373.7,179.0 374.5,179.0 375.3,179.1 376.1,179.1 376.9,179.1 377.7,179.2 378.5,179.2 379.3,179.3 380.1,179.4 380.9,179.4 381.7,179.5 382.5,179.5 383.3,179.6 384.1,179.6 384.9,179.7 385.7,179.7 386.5,179.8 387.3,179.8 388.1,179.9 388.9,179.9 389.7,180.0 390.5,180.0 391.3,180.1 392.1,180.1 392.9,180.1 393.7,180.2 394.5,180.2 395.3,180.2 396.1,180.2 396.9,180.3 396.9,180.4 396.1,180.4 395.3,180.4 394.5,180.3 393.7,180.3 392.9,180.3 392.1,180.3 391.3,180.3 390.5,180.3 389.7,180.3 388.9,180.3 388.1,180.3 387.3,180.3 386.5,180.2 385.7,180.2 384.9,180.2 384.1,180.2 383.3,180.2 382.5,180.2 381.7,180.2 380.9,180.2 380.1,180.2 379.3,180.2 378.5,180.2 377.7,180.1 376.9,180.1 376.1,180.1 375.3,180.1 374.5,180.1 373.7,180.1 372.9,180.1 372.1,180.1 371.3,180.1 370.5,180.1 369.7,180.1 368.9,180.0 368.1,180.0 367.3,180.0 366.5,180.0 365.7,180.0 364.9,180.0 364.1,180.0 363.3,180.0 362.5,180.0 361.7,180.0 360.9,180.0 360.1,180.0 359.3,179.9 358.5,179.9 357.7,179.9 356.9,179.9 356.1,179.9 355.3,179.9 354.5,179.9 353.7,179.9 352.9,179.9 352.1,179.9 351.3,179.9 350.5,179.9 349.7,179.8 348.9,179.8 348.1,179.8 347.3,179.8 346.5,179.8 345.7,179.8 344.9,179.8 344.1,179.8 343.3,179.8 342.5,179.8" fill="#3aa39a" stroke="none"/>
<polyline points="327.3,179.5 328.1,179.5 328.9,179.5 329.7,179.5 330.5,179.5 331.3,179.5 332.1,179.5 332.9,179.5 333.7,179.5 334.5,179.5 335.3,179.5 336.1,179.5 336.9,179.5 337.7,179.5 338.5,179.5 339.3,179.5 340.1,179.5 340.9,179.5 341.7,179.5 342.5,179.5 343.3,179.6 344.1,179.6 344.9,179.6 345.7,179.6 346.5,179.6 347.3,179.6 348.1,179.6 348.9,179.6 349.7,179.6 350.5,179.6 351.3,179.6 352.1,179.6 352.9,179.6 353.7,179.6 354.5,179.6 355.3,179.6 356.1,179.6 356.9,179.6 357.7,179.6 358.5,179.6 359.3,179.6 360.1,179.6 360.9,179.6 361.7,179.5 362.5,179.5 363.3,179.5 364.1,179.5 364.9,179.5 365.7,179.5 366.5,179.5 367.3,179.5 368.1,179.5 368.9,179.4 369.7,179.4 370.5,179.4 371.3,179.4 372.1,179.3 372.9,179.3 373.7,179.3 374.5,179.2 375.3,179.2 376.1,179.1 376.9,179.0 377.7,178.9 378.5,178.8 379.3,178.7 380.1,178.6 380.9,178.5 381.7,178.3 382.5,178.1 383.3,177.9 384.1,177.7 384.9,177.5 385.7,177.2 386.5,176.9 387.3,176.6 388.1,176.2 388.9,175.9 389.7,175.4 390.5,175.0 391.3,174.5 392.1,174.0 392.9,173.5 393.7,172.9 394.5,172.3 395.3,171.7 396.1,171.0 396.9,170.4 397.7,169.7 398.5,169.0 399.3,168.3 400.1,167.6 400.9,167.0 401.7,166.3 402.5,165.7 403.3,165.1 404.1,164.6 404.9,164.1 405.7,163.6 406.5,163.2 407.3,163.0 408.1,162.8 408.9,162.6 409.7,162.6 410.5,162.7 411.3,162.8 412.1,162.9 412.9,163.2 413.7,163.4 414.5,163.8 415.3,164.1 416.1,164.5 416.9,165.0 417.7,165.5 418.5,166.0 419.3,166.5 420.1,167.1 420.9,167.7 421.7,168.3 422.5,168.9 423.3,169.5 424.1,170.1 424.9,170.6 425.7,171.2 426.5,171.8 427.3,172.4 428.1,173.0 428.9,173.5 429.7,174.1 430.5,174.6 431.3,175.1 432.1,175.6 432.9,176.1 433.7,176.5 434.5,177.0 435.3,177.4 436.1,177.8 436.9,178.2 437.7,178.5 438.5,178.9 439.3,179.2 440.1,179.5 440.9,179.8 441.7,180.1 442.5,180.4 443.3,180.6 444.1,180.9 444.9,181.1 445.7,181.3 446.5,181.5 447.3,181.7 448.1,181.8 448.9,182.0 449.7,182.2 450.5,182.3 451.3,182.4 452.1,182.6 452.9,182.7 453.7,182.8 454.5,182.9 455.3,183.0 456.1,183.1 456.9,183.2 457.7,183.3 458.5,183.3 459.3,183.4 460.1,183.5 460.9,183.5 461.7,183.6 462.5,183.7 463.3,183.7 464.1,183.8 464.9,183.8 465.7,183.9 466.5,183.9 467.3,183.9 468.1,184.0 468.9,184.0 469.7,184.1 470.5,184.1 471.3,184.1 472.1,184.2 472.9,184.2 473.7,184.2 474.5,184.2 475.3,184.3 476.1,184.3 476.9,184.3 477.7,184.3 478.5,184.4 479.3,184.4 480.1,184.4 480.9,184.4 481.7,184.4 482.5,184.5 483.3,184.5 484.1,184.5 484.9,184.5 485.7,184.5 486.5,184.6 487.3,184.6 488.1,184.6 488.9,184.6 489.7,184.6 490.5,184.6 491.3,184.6 492.1,184.7 492.9,184.7 493.7,184.7 494.5,184.7 495.3,184.7 496.1,184.7 496.9,184.7 497.7,184.8 498.5,184.8 499.3,184.8 500.1,184.8 500.9,184.8 501.7,184.8 502.5,184.8 503.3,184.8 504.1,184.9 504.9,184.9 505.7,184.9 506.5,184.9 507.3,184.9 508.1,184.9 508.9,184.9 509.7,184.9 510.5,184.9 511.3,185.0 512.1,185.0 512.9,185.0" fill="none" stroke="#1f6fb5" stroke-width="1.3"/>
<polyline points="306.5,178.9 307.3,178.9 308.1,178.9 308.9,178.9 309.7,178.9 310.5,178.9 311.3,178.9 312.1,178.9 312.9,178.9 313.7,178.9 314.5,178.9 315.3,178.9 316.1,178.9 316.9,178.9 317.7,178.9 318.5,178.9 319.3,178.9 320.1,178.9 320.9,178.9 321.7,178.9 322.5,178.9 323.3,178.9 324.1,178.9 324.9,178.9 325.7,178.9 326.5,178.9 327.3,178.9 328.1,178.9 328.9,178.9 329.7,178.9 330.5,178.9 331.3,178.9 332.1,178.9 332.9,178.8 333.7,178.8 334.5,178.8 335.3,178.8 336.1,178.8 336.9,178.8 337.7,178.8 338.5,178.8 339.3,178.8 340.1,178.8 340.9,178.8 341.7,178.8 342.5,178.8 343.3,178.8 344.1,178.8 344.9,178.8 345.7,178.7 346.5,178.7 347.3,178.7 348.1,178.7 348.9,178.7 349.7,178.7 350.5,178.7 351.3,178.7 352.1,178.7 352.9,178.6 353.7,178.6 354.5,178.6 355.3,178.6 356.1,178.6 356.9,178.6 357.7,178.6 358.5,178.5 359.3,178.5 360.1,178.5 360.9,178.5 361.7,178.5 362.5,178.4 363.3,178.4 364.1,178.4 364.9,178.4 365.7,178.3 366.5,178.3 367.3,178.3 368.1,178.3 368.9,178.2 369.7,178.2 370.5,178.2 371.3,178.1 372.1,178.1 372.9,178.1 373.7,178.0 374.5,178.0 375.3,178.0 376.1,177.9 376.9,177.9 377.7,177.8 378.5,177.8 379.3,177.7 380.1,177.7 380.9,177.6 381.7,177.6 382.5,177.5 383.3,177.4 384.1,177.4 384.9,177.3 385.7,177.2 386.5,177.2 387.3,177.1 388.1,177.0 388.9,176.9 389.7,176.8 390.5,176.7 391.3,176.7 392.1,176.5 392.9,176.4 393.7,176.3 394.5,176.2 395.3,176.1 396.1,175.9 396.9,175.8 397.7,175.6 398.5,175.5 399.3,175.3 400.1,175.1 400.9,174.9 401.7,174.7 402.5,174.4 403.3,174.1 404.1,173.8 404.9,173.5 405.7,173.1 406.5,172.7 407.3,172.2 408.1,171.7 408.9,171.1 409.7,170.5 410.5,169.7 411.3,168.9 412.1,168.0 412.9,166.9 413.7,165.8 414.5,164.5 415.3,163.0 416.1,161.4 416.9,159.6 417.7,157.6 418.5,155.4 419.3,153.1 420.1,150.4 420.9,147.6 421.7,144.5 422.5,141.2 423.3,137.6 424.1,133.8 424.9,129.7 425.7,125.4 426.5,120.9 427.3,116.2 428.1,111.3 428.9,106.2 429.7,101.0 430.5,95.6 431.3,90.3 432.1,84.9 432.9,79.5 433.7,74.3 434.5,69.2 435.3,64.3 436.1,59.8 436.9,55.7 437.7,52.0 438.5,48.9 439.3,46.4 440.1,44.5 440.9,43.4 441.7,43.1 442.5,43.4 443.3,44.4 444.1,45.9 444.9,47.9 445.7,50.5 446.5,53.5 447.3,56.9 448.1,60.7 448.9,64.8 449.7,69.1 450.5,73.6 451.3,78.3 452.1,83.1 452.9,87.9 453.7,92.8 454.5,97.6 455.3,102.4 456.1,107.1 456.9,111.7 457.7,116.2 458.5,120.5 459.3,124.7 460.1,128.8 460.9,132.6 461.7,136.3 462.5,139.7 463.3,143.0 464.1,146.1 464.9,149.0 465.7,151.7 466.5,154.2 467.3,156.6 468.1,158.7 468.9,160.7 469.7,162.6 470.5,164.3 471.3,165.8 472.1,167.2 472.9,168.5 473.7,169.7 474.5,170.7 475.3,171.7 476.1,172.6 476.9,173.4 477.7,174.1 478.5,174.8 479.3,175.4 480.1,175.9 480.9,176.4 481.7,176.8 482.5,177.2 483.3,177.6 484.1,177.9 484.9,178.2 485.7,178.5 486.5,178.8 487.3,179.0 488.1,179.3 488.9,179.5 489.7,179.7 490.5,179.9 491.3,180.0 492.1,180.2 492.9,180.3 493.7,180.5 494.5,180.6 495.3,180.8 496.1,180.9 496.9,181.0 497.7,181.1 498.5,181.2 499.3,181.3 500.1,181.5 500.9,181.6 501.7,181.6 502.5,181.7 503.3,181.8 504.1,181.9 504.9,182.0 505.7,182.1 506.5,182.2 507.3,182.2 508.1,182.3 508.9,182.4 509.7,182.4 510.5,182.5 511.3,182.6 512.1,182.6 512.9,182.7 513.7,182.8 514.5,182.8 515.3,182.9 516.1,182.9 516.9,183.0 517.7,183.0 518.5,183.1 519.3,183.1 520.1,183.2 520.9,183.2 521.7,183.3 522.5,183.3 523.3,183.4 524.1,183.4 524.9,183.5 525.7,183.5 526.5,183.5 527.3,183.6 528.1,183.6 528.9,183.7 529.7,183.7 530.5,183.7 531.3,183.8 532.1,183.8 532.9,183.8 533.7,183.9 534.5,183.9 535.3,183.9 536.1,184.0 536.9,184.0 537.7,184.0" fill="none" stroke="#e8202a" stroke-width="1.4"/>
<polyline points="328.9,179.5 329.7,179.4 330.5,179.4 331.3,179.4 332.1,179.3 332.9,179.3 333.7,179.2 334.5,179.1 335.3,179.0 336.1,178.9 336.9,178.7 337.7,178.6 338.5,178.4 339.3,178.2 340.1,177.9 340.9,177.7 341.7,177.4 342.5,177.2 343.3,176.9 344.1,176.6 344.9,176.3 345.7,176.0 346.5,175.7 347.3,175.4 348.1,175.1 348.9,174.9 349.7,174.7 350.5,174.5 351.3,174.4 352.1,174.3 352.9,174.3 353.7,174.3 354.5,174.4 355.3,174.5 356.1,174.7 356.9,174.9 357.7,175.1 358.5,175.4 359.3,175.7 360.1,176.0 360.9,176.3 361.7,176.7 362.5,177.0 363.3,177.3 364.1,177.6 364.9,177.9 365.7,178.2 366.5,178.4 367.3,178.6 368.1,178.8 368.9,179.0 369.7,179.2 370.5,179.3 371.3,179.5 372.1,179.6 372.9,179.7 373.7,179.7 374.5,179.8 375.3,179.9 376.1,179.9 376.9,180.0 377.7,180.0" fill="none" stroke="#eda51e" stroke-width="1.2"/>
<polyline points="342.5,179.7 343.3,179.7 344.1,179.7 344.9,179.6 345.7,179.6 346.5,179.6 347.3,179.6 348.1,179.6 348.9,179.6 349.7,179.5 350.5,179.5 351.3,179.5 352.1,179.5 352.9,179.4 353.7,179.4 354.5,179.4 355.3,179.3 356.1,179.3 356.9,179.2 357.7,179.2 358.5,179.2 359.3,179.1 360.1,179.1 360.9,179.1 361.7,179.0 362.5,179.0 363.3,179.0 364.1,178.9 364.9,178.9 365.7,178.9 366.5,178.9 367.3,178.9 368.1,178.8 368.9,178.9 369.7,178.9 370.5,178.9 371.3,178.9 372.1,178.9 372.9,178.9 373.7,179.0 374.5,179.0 375.3,179.1 376.1,179.1 376.9,179.1 377.7,179.2 378.5,179.2 379.3,179.3 380.1,179.4 380.9,179.4 381.7,179.5 382.5,179.5 383.3,179.6 384.1,179.6 384.9,179.7 385.7,179.7 386.5,179.8 387.3,179.8 388.1,179.9 388.9,179.9 389.7,180.0 390.5,180.0 391.3,180.1 392.1,180.1 392.9,180.1 393.7,180.2 394.5,180.2 395.3,180.2 396.1,180.2 396.9,180.3" fill="none" stroke="#1f9a94" stroke-width="1.0"/>
<polyline points="306.5,179.4 307.3,179.4 308.1,179.4 308.9,179.4 309.7,179.4 310.5,179.4 311.3,179.4 312.1,179.5 312.9,179.5 313.7,179.5 314.5,179.5 315.3,179.5 316.1,179.5 316.9,179.5 317.7,179.5 318.5,179.5 319.3,179.5 320.1,179.5 320.9,179.5 321.7,179.6 322.5,179.6 323.3,179.6 324.1,179.6 324.9,179.6 325.7,179.6 326.5,179.6 327.3,179.6 328.1,179.6 328.9,179.6 329.7,179.6 330.5,179.6 331.3,179.7 332.1,179.7 332.9,179.7 333.7,179.7 334.5,179.7 335.3,179.7 336.1,179.7 336.9,179.7 337.7,179.7 338.5,179.7 339.3,179.7 340.1,179.7 340.9,179.8 341.7,179.8 342.5,179.8 343.3,179.8 344.1,179.8 344.9,179.8 345.7,179.8 346.5,179.8 347.3,179.8 348.1,179.8 348.9,179.8 349.7,179.8 350.5,179.9 351.3,179.9 352.1,179.9 352.9,179.9 353.7,179.9 354.5,179.9 355.3,179.9 356.1,179.9 356.9,179.9 357.7,179.9 358.5,179.9 359.3,179.9 360.1,180.0 360.9,180.0 361.7,180.0 362.5,180.0 363.3,180.0 364.1,180.0 364.9,180.0 365.7,180.0 366.5,180.0 367.3,180.0 368.1,180.0 368.9,180.0 369.7,180.1 370.5,180.1 371.3,180.1 372.1,180.1 372.9,180.1 373.7,180.1 374.5,180.1 375.3,180.1 376.1,180.1 376.9,180.1 377.7,180.1 378.5,180.2 379.3,180.2 380.1,180.2 380.9,180.2 381.7,180.2 382.5,180.2 383.3,180.2 384.1,180.2 384.9,180.2 385.7,180.2 386.5,180.2 387.3,180.3 388.1,180.3 388.9,180.3 389.7,180.3 390.5,180.3 391.3,180.3 392.1,180.3 392.9,180.3 393.7,180.3 394.5,180.3 395.3,180.4 396.1,180.4 396.9,180.4 397.7,180.4 398.5,180.4 399.3,180.4 400.1,180.4 400.9,180.4 401.7,180.4 402.5,180.5 403.3,180.5 404.1,180.5 404.9,180.5 405.7,180.5 406.5,180.5 407.3,180.6 408.1,180.6 408.9,180.6 409.7,180.6 410.5,180.6 411.3,180.6 412.1,180.7 412.9,180.7 413.7,180.7 414.5,180.7 415.3,180.8 416.1,180.8 416.9,180.8 417.7,180.8 418.5,180.9 419.3,180.9 420.1,180.9 420.9,181.0 421.7,181.0 422.5,181.1 423.3,181.1 424.1,181.1 424.9,181.2 425.7,181.2 426.5,181.3 427.3,181.3 428.1,181.4 428.9,181.4 429.7,181.5 430.5,181.6 431.3,181.6 432.1,181.7 432.9,181.8 433.7,181.8 434.5,181.9 435.3,182.0 436.1,182.0 436.9,182.1 437.7,182.2 438.5,182.3 439.3,182.4 440.1,182.4 440.9,182.5 441.7,182.6 442.5,182.7 443.3,182.8 444.1,182.8 444.9,182.9 445.7,183.0 446.5,183.1 447.3,183.1 448.1,183.2 448.9,183.3 449.7,183.4 450.5,183.4 451.3,183.5 452.1,183.6 452.9,183.6 453.7,183.7 454.5,183.7 455.3,183.8 456.1,183.9 456.9,183.9 457.7,184.0 458.5,184.0 459.3,184.1 460.1,184.1 460.9,184.1 461.7,184.2 462.5,184.2 463.3,184.2 464.1,184.3 464.9,184.3 465.7,184.3 466.5,184.4 467.3,184.4 468.1,184.4 468.9,184.5 469.7,184.5 470.5,184.5 471.3,184.5 472.1,184.5 472.9,184.6 473.7,184.6 474.5,184.6 475.3,184.6 476.1,184.6 476.9,184.7 477.7,184.7 478.5,184.7 479.3,184.7 480.1,184.7 480.9,184.7 481.7,184.7 482.5,184.8 483.3,184.8 484.1,184.8 484.9,184.8 485.7,184.8 486.5,184.8 487.3,184.8 488.1,184.8 488.9,184.9 489.7,184.9 490.5,184.9 491.3,184.9 492.1,184.9 492.9,184.9 493.7,184.9 494.5,184.9 495.3,184.9 496.1,184.9 496.9,185.0 497.7,185.0 498.5,185.0 499.3,185.0 500.1,185.0 500.9,185.0 501.7,185.0 502.5,185.0 503.3,185.0 504.1,185.0 504.9,185.0 505.7,185.1 506.5,185.1 507.3,185.1 508.1,185.1 508.9,185.1 509.7,185.1 510.5,185.1 511.3,185.1 512.1,185.1 512.9,185.1 513.7,185.1 514.5,185.2 515.3,185.2 516.1,185.2 516.9,185.2 517.7,185.2 518.5,185.2 519.3,185.2 520.1,185.2 520.9,185.2 521.7,185.2 522.5,185.2 523.3,185.2 524.1,185.3 524.9,185.3 525.7,185.3 526.5,185.3 527.3,185.3 528.1,185.3 528.9,185.3 529.7,185.3 530.5,185.3 531.3,185.3 532.1,185.3 532.9,185.3 533.7,185.4 534.5,185.4 535.3,185.4 536.1,185.4 536.9,185.4 537.7,185.4" fill="none" stroke="#e9a21c" stroke-width="1.3"/>
<polyline points="306.5,178.1 307.3,178.1 308.1,178.0 308.9,178.0 309.7,178.0 310.5,178.0 311.3,178.0 312.1,178.0 312.9,178.0 313.7,178.0 314.5,177.9 315.3,177.9 316.1,177.9 316.9,177.9 317.7,177.9 318.5,177.8 319.3,177.8 320.1,177.8 320.9,177.8 321.7,177.7 322.5,177.7 323.3,177.7 324.1,177.6 324.9,177.6 325.7,177.5 326.5,177.5 327.3,177.4 328.1,177.4 328.9,177.3 329.7,177.2 330.5,177.1 331.3,177.0 332.1,176.9 332.9,176.8 333.7,176.7 334.5,176.6 335.3,176.4 336.1,176.2 336.9,176.0 337.7,175.8 338.5,175.5 339.3,175.3 340.1,175.0 340.9,174.7 341.7,174.3 342.5,174.0 343.3,173.6 344.1,173.2 344.9,172.8 345.7,172.5 346.5,172.1 347.3,171.7 348.1,171.4 348.9,171.0 349.7,170.7 350.5,170.5 351.3,170.3 352.1,170.1 352.9,170.0 353.7,169.9 354.5,169.8 355.3,169.9 356.1,169.9 356.9,170.0 357.7,170.1 358.5,170.3 359.3,170.5 360.1,170.6 360.9,170.8 361.7,171.0 362.5,171.2 363.3,171.4 364.1,171.5 364.9,171.7 365.7,171.8 366.5,171.9 367.3,172.0 368.1,172.1 368.9,172.1 369.7,172.2 370.5,172.2 371.3,172.1 372.1,172.1 372.9,172.1 373.7,172.0 374.5,171.9 375.3,171.8 376.1,171.7 376.9,171.5 377.7,171.4 378.5,171.2 379.3,171.0 380.1,170.8 380.9,170.6 381.7,170.3 382.5,170.0 383.3,169.7 384.1,169.4 384.9,169.0 385.7,168.7 386.5,168.3 387.3,167.8 388.1,167.3 388.9,166.8 389.7,166.3 390.5,165.7 391.3,165.1 392.1,164.4 392.9,163.8 393.7,163.1 394.5,162.3 395.3,161.5 396.1,160.7 396.9,159.9 397.7,159.1 398.5,158.2 399.3,157.3 400.1,156.4 400.9,155.5 401.7,154.5 402.5,153.6 403.3,152.7 404.1,151.7 404.9,150.8 405.7,149.9 406.5,149.0 407.3,148.1 408.1,147.2 408.9,146.4 409.7,145.5 410.5,144.6 411.3,143.7 412.1,142.8 412.9,141.8 413.7,140.7 414.5,139.5 415.3,138.3 416.1,136.9 416.9,135.5 417.7,133.9 418.5,132.1 419.3,130.3 420.1,128.2 420.9,126.0 421.7,123.6 422.5,121.0 423.3,118.2 424.1,115.2 424.9,112.0 425.7,108.5 426.5,104.9 427.3,101.1 428.1,97.0 428.9,92.8 429.7,88.5 430.5,84.0 431.3,79.4 432.1,74.8 432.9,70.2 433.7,65.7 434.5,61.2 435.3,57.0 436.1,53.1 436.9,49.4 437.7,46.3 438.5,43.6 439.3,41.5 440.1,40.0 440.9,39.3 441.7,39.2 442.5,39.9 443.3,41.1 444.1,42.8 444.9,45.0 445.7,47.8 446.5,50.9 447.3,54.5 448.1,58.4 448.9,62.6 449.7,67.1 450.5,71.7 451.3,76.5 452.1,81.3 452.9,86.2 453.7,91.1 454.5,96.0 455.3,100.9 456.1,105.6 456.9,110.3 457.7,114.8 458.5,119.2 459.3,123.4 460.1,127.5 460.9,131.4 461.7,135.0 462.5,138.5 463.3,141.8 464.1,145.0 464.9,147.9 465.7,150.6 466.5,153.1 467.3,155.5 468.1,157.7 468.9,159.7 469.7,161.5 470.5,163.2 471.3,164.8 472.1,166.2 472.9,167.5 473.7,168.7 474.5,169.8 475.3,170.7 476.1,171.6 476.9,172.4 477.7,173.2 478.5,173.8 479.3,174.4 480.1,175.0 480.9,175.5 481.7,175.9 482.5,176.3 483.3,176.7 484.1,177.0 484.9,177.4 485.7,177.7 486.5,177.9 487.3,178.2 488.1,178.4 488.9,178.6 489.7,178.8 490.5,179.0 491.3,179.2 492.1,179.4 492.9,179.5 493.7,179.7 494.5,179.8 495.3,179.9 496.1,180.1 496.9,180.2 497.7,180.3 498.5,180.4 499.3,180.5 500.1,180.7 500.9,180.8 501.7,180.9 502.5,181.0 503.3,181.0 504.1,181.1 504.9,181.2 505.7,181.3 506.5,181.4 507.3,181.5 508.1,181.5 508.9,181.6 509.7,181.7 510.5,181.8 511.3,181.8 512.1,181.9 512.9,181.9 513.7,182.0 514.5,182.1 515.3,182.1 516.1,182.2 516.9,182.2 517.7,182.3 518.5,182.4 519.3,182.4 520.1,182.5 520.9,182.5 521.7,182.6 522.5,182.6 523.3,182.6 524.1,182.7 524.9,182.7 525.7,182.8 526.5,182.8 527.3,182.9 528.1,182.9 528.9,182.9 529.7,183.0 530.5,183.0 531.3,183.1 532.1,183.1 532.9,183.1 533.7,183.2 534.5,183.2 535.3,183.2 536.1,183.3 536.9,183.3 537.7,183.3" fill="none" stroke="#3a3a3a" stroke-width="1.1"/>
<rect x="306.5" y="18.8" width="231.9" height="184.8" fill="none" stroke="#000" stroke-width="1.45"/>
<path d="M327.4 203.6v3.5M369.6 203.6v3.5M411.8 203.6v3.5M454.0 203.6v3.5M496.2 203.6v3.5M538.4 203.6v3.5M306.3 203.6v2.0M348.5 203.6v2.0M390.7 203.6v2.0M432.9 203.6v2.0M475.1 203.6v2.0M517.3 203.6v2.0" stroke="#000" stroke-width="1.25" fill="none"/>
<text transform="translate(327.4 217.5) scale(1 1.08)" font-size="11.1" fill="#000" stroke="#000" text-anchor="middle" >290</text>
<text transform="translate(369.6 217.5) scale(1 1.08)" font-size="11.1" fill="#000" stroke="#000" text-anchor="middle" >288</text>
<text transform="translate(411.8 217.5) scale(1 1.08)" font-size="11.1" fill="#000" stroke="#000" text-anchor="middle" >286</text>
<text transform="translate(454.0 217.5) scale(1 1.08)" font-size="11.1" fill="#000" stroke="#000" text-anchor="middle" >284</text>
<text transform="translate(496.2 217.5) scale(1 1.08)" font-size="11.1" fill="#000" stroke="#000" text-anchor="middle" >282</text>
<text transform="translate(538.4 217.5) scale(1 1.08)" font-size="11.1" fill="#000" stroke="#000" text-anchor="middle" >280</text>
<text transform="translate(296.6 111.6) rotate(-90) scale(1.155 1)" font-size="11.6" stroke="#000" text-anchor="middle">Intensity (a.u.)</text>
<text transform="translate(422.5 231.5) scale(1 1.08)" font-size="13.4" fill="#000" stroke="#000" text-anchor="middle" >Binding energy (eV)</text>
<text transform="translate(273.3 21.2) scale(1 1.08)" font-size="24" fill="#000" stroke="#000" text-anchor="start" >(b)</text>
<text transform="translate(503.0 38.8) scale(1 1.08)" font-size="11.9" fill="#000" stroke="#000" text-anchor="start" >C 1s</text>
<text transform="translate(336.3 65.8) scale(1 1.08)" font-size="11.1" fill="#000" stroke="#000" text-anchor="start" >MoO<tspan dy="3.0" font-size="8.0">3</tspan><tspan dy="-3.0" font-size="0.1">&#8203;</tspan>/rGO</text>
<text transform="translate(460.5 58.5) scale(1 1.08)" font-size="10" fill="#e8202a" stroke="#e8202a" text-anchor="start" >C-C</text>
<text transform="translate(460.5 65.5) scale(1 1.08)" font-size="7.0" fill="#e8202a" stroke="#e8202a" text-anchor="start" >284.6 eV</text>
<text transform="translate(388.5 126.5) scale(1 1.08)" font-size="10" fill="#1f6fb5" stroke="#1f6fb5" text-anchor="start" >C-O-C</text>
<text transform="translate(389.0 133.5) scale(1 1.08)" font-size="7.2" fill="#1f6fb5" stroke="#1f6fb5" text-anchor="start" >286.1 eV</text>
<text transform="translate(341.5 151.5) scale(1 1.08)" font-size="10" fill="#eda51e" stroke="#eda51e" text-anchor="start" >C=O</text>
<text transform="translate(341.5 158.5) scale(1 1.08)" font-size="7.0" fill="#eda51e" stroke="#eda51e" text-anchor="start" >288.7 eV</text>
<path d="M36.8 326.3H267.5" stroke="#222" stroke-width="0.8"/>
<polygon points="36.8,323.5 37.6,323.4 38.4,323.4 39.2,323.4 40.0,323.4 40.8,323.4 41.6,323.4 42.4,323.4 43.2,323.4 44.0,323.4 44.8,323.4 45.6,323.4 46.4,323.4 47.2,323.4 48.0,323.4 48.8,323.4 49.6,323.4 50.4,323.4 51.2,323.3 52.0,323.3 52.8,323.3 53.6,323.3 54.4,323.3 55.2,323.3 56.0,323.3 56.8,323.3 57.6,323.3 58.4,323.2 59.2,323.2 60.0,323.2 60.8,323.2 61.6,323.2 62.4,323.1 63.2,323.1 64.0,323.1 64.8,323.1 65.6,323.0 66.4,323.0 67.2,323.0 68.0,323.0 68.8,322.9 69.6,322.9 70.4,322.8 71.2,322.8 72.0,322.8 72.8,322.7 73.6,322.7 74.4,322.6 75.2,322.6 76.0,322.5 76.8,322.4 77.6,322.4 78.4,322.3 79.2,322.2 80.0,322.1 80.8,322.0 81.6,321.9 82.4,321.8 83.2,321.6 84.0,321.5 84.8,321.3 85.6,321.1 86.4,320.9 87.2,320.6 88.0,320.3 88.8,319.9 89.6,319.5 90.4,319.0 91.2,318.4 92.0,317.6 92.8,316.8 93.6,315.8 94.4,314.7 95.2,313.4 96.0,311.9 96.8,310.3 97.6,308.4 98.4,306.4 99.2,304.1 100.0,301.7 100.8,299.2 101.6,296.5 102.4,293.6 103.2,290.8 104.0,288.0 104.8,285.2 105.6,282.7 106.4,280.4 107.2,278.5 108.0,277.1 108.8,276.3 109.6,276.1 110.4,276.5 111.2,277.5 112.0,279.0 112.8,280.9 113.6,283.2 114.4,285.7 115.2,288.4 116.0,291.1 116.8,293.7 117.6,296.3 118.4,298.8 119.2,301.2 120.0,303.3 120.8,305.3 121.6,307.1 122.4,308.7 123.2,310.1 124.0,311.3 124.8,312.4 125.6,313.3 126.4,314.1 127.2,314.8 128.0,315.3 128.8,315.8 129.6,316.2 130.4,316.6 131.2,316.9 132.0,317.2 132.8,317.4 133.6,317.6 134.4,317.8 135.2,318.0 136.0,318.2 136.8,318.4 137.6,318.5 138.4,318.6 139.2,318.7 140.0,318.8 140.8,318.9 141.6,318.9 142.4,319.0 143.2,319.0 144.0,318.9 144.8,318.8 145.6,318.6 146.4,318.3 147.2,318.0 148.0,317.6 148.8,317.0 149.6,316.3 150.4,315.4 151.2,314.4 152.0,313.1 152.8,311.7 153.6,309.9 154.4,308.0 155.2,305.7 156.0,303.2 156.8,300.4 157.6,297.3 158.4,293.9 159.2,290.3 160.0,286.5 160.8,282.5 161.6,278.4 162.4,274.3 163.2,270.2 164.0,266.2 164.8,262.5 165.6,259.1 166.4,256.1 167.2,253.7 168.0,252.0 168.8,251.0 169.6,250.8 170.4,251.4 171.2,252.8 172.0,254.9 172.8,257.6 173.6,260.7 174.4,264.3 175.2,268.2 176.0,272.2 176.8,276.3 177.6,280.4 178.4,284.4 179.2,288.2 180.0,291.9 180.8,295.3 181.6,298.5 182.4,301.5 183.2,304.1 184.0,306.5 184.8,308.6 185.6,310.5 186.4,312.1 187.2,313.6 188.0,314.8 188.8,315.9 189.6,316.9 190.4,317.7 191.2,318.5 192.0,319.1 192.8,319.7 193.6,320.3 194.4,320.8 195.2,321.2 196.0,321.7 196.8,322.1 197.6,322.4 198.4,322.8 199.2,323.2 200.0,323.5 200.8,323.8 201.6,324.1 202.4,324.4 203.2,324.6 204.0,324.9 204.8,325.1 205.6,325.3 206.4,325.5 207.2,325.7 208.0,325.9 208.8,326.0 209.6,326.2 210.4,326.3 211.2,326.4 212.0,326.5 212.8,326.6 213.6,326.7 214.4,326.8 215.2,326.9 216.0,326.9 216.8,327.0 217.6,327.1 218.4,327.1 219.2,327.2 220.0,327.2 220.8,327.3 221.6,327.3 222.4,327.4 223.2,327.4 224.0,327.4 224.8,327.5 225.6,327.5 226.4,327.5 227.2,327.6 228.0,327.6 228.8,327.6 229.6,327.6 230.4,327.7 231.2,327.7 232.0,327.7 232.8,327.7 233.6,327.8 234.4,327.8 235.2,327.8 236.0,327.8 236.8,327.9 237.6,327.9 238.4,327.9 239.2,327.9 240.0,327.9 240.8,327.9 241.6,328.0 242.4,328.0 243.2,328.0 244.0,328.0 244.8,328.0 245.6,328.0 246.4,328.1 247.2,328.1 248.0,328.1 248.8,328.1 249.6,328.1 250.4,328.1 251.2,328.2 252.0,328.2 252.8,328.2 253.6,328.2 254.4,328.2 255.2,328.2 256.0,328.2 256.8,328.2 257.6,328.3 258.4,328.3 259.2,328.3 260.0,328.3 260.8,328.3 261.6,328.3 262.4,328.3 263.2,328.3 264.0,328.3 264.8,328.4 265.6,328.4 266.4,328.4 267.2,328.4 267.2,329.6 266.4,329.6 265.6,329.6 264.8,329.6 264.0,329.6 263.2,329.6 262.4,329.6 261.6,329.6 260.8,329.5 260.0,329.5 259.2,329.5 258.4,329.5 257.6,329.5 256.8,329.5 256.0,329.5 255.2,329.5 254.4,329.5 253.6,329.5 252.8,329.5 252.0,329.5 251.2,329.5 250.4,329.5 249.6,329.5 248.8,329.5 248.0,329.5 247.2,329.4 246.4,329.4 245.6,329.4 244.8,329.4 244.0,329.4 243.2,329.4 242.4,329.4 241.6,329.4 240.8,329.4 240.0,329.4 239.2,329.4 238.4,329.4 237.6,329.4 236.8,329.4 236.0,329.4 235.2,329.4 234.4,329.3 233.6,329.3 232.8,329.3 232.0,329.3 231.2,329.3 230.4,329.3 229.6,329.3 228.8,329.3 228.0,329.3 227.2,329.3 226.4,329.3 225.6,329.3 224.8,329.3 224.0,329.3 223.2,329.2 222.4,329.2 221.6,329.2 220.8,329.2 220.0,329.2 219.2,329.2 218.4,329.2 217.6,329.2 216.8,329.2 216.0,329.2 215.2,329.2 214.4,329.1 213.6,329.1 212.8,329.1 212.0,329.1 211.2,329.1 210.4,329.1 209.6,329.1 208.8,329.1 208.0,329.0 207.2,329.0 206.4,329.0 205.6,329.0 204.8,329.0 204.0,329.0 203.2,329.0 202.4,328.9 201.6,328.9 200.8,328.9 200.0,328.9 199.2,328.9 198.4,328.8 197.6,328.8 196.8,328.8 196.0,328.8 195.2,328.7 194.4,328.7 193.6,328.7 192.8,328.7 192.0,328.6 191.2,328.6 190.4,328.6 189.6,328.5 188.8,328.5 188.0,328.5 187.2,328.4 186.4,328.4 185.6,328.4 184.8,328.3 184.0,328.3 183.2,328.2 182.4,328.2 181.6,328.1 180.8,328.1 180.0,328.1 179.2,328.0 178.4,328.0 177.6,327.9 176.8,327.8 176.0,327.8 175.2,327.7 174.4,327.7 173.6,327.6 172.8,327.6 172.0,327.5 171.2,327.5 170.4,327.4 169.6,327.3 168.8,327.3 168.0,327.2 167.2,327.2 166.4,327.1 165.6,327.1 164.8,327.0 164.0,326.9 163.2,326.9 162.4,326.8 161.6,326.8 160.8,326.7 160.0,326.7 159.2,326.6 158.4,326.6 157.6,326.5 156.8,326.5 156.0,326.4 155.2,326.4 154.4,326.4 153.6,326.3 152.8,326.3 152.0,326.2 151.2,326.2 150.4,326.2 149.6,326.1 148.8,326.1 148.0,326.1 147.2,326.0 146.4,326.0 145.6,326.0 144.8,325.9 144.0,325.9 143.2,325.9 142.4,325.9 141.6,325.8 140.8,325.8 140.0,325.8 139.2,325.8 138.4,325.8 137.6,325.7 136.8,325.7 136.0,325.7 135.2,325.7 134.4,325.7 133.6,325.7 132.8,325.6 132.0,325.6 131.2,325.6 130.4,325.6 129.6,325.6 128.8,325.6 128.0,325.6 127.2,325.5 126.4,325.5 125.6,325.5 124.8,325.5 124.0,325.5 123.2,325.5 122.4,325.5 121.6,325.5 120.8,325.5 120.0,325.5 119.2,325.4 118.4,325.4 117.6,325.4 116.8,325.4 116.0,325.4 115.2,325.4 114.4,325.4 113.6,325.4 112.8,325.4 112.0,325.4 111.2,325.4 110.4,325.4 109.6,325.4 108.8,325.3 108.0,325.3 107.2,325.3 106.4,325.3 105.6,325.3 104.8,325.3 104.0,325.3 103.2,325.3 102.4,325.3 101.6,325.3 100.8,325.3 100.0,325.3 99.2,325.3 98.4,325.3 97.6,325.3 96.8,325.2 96.0,325.2 95.2,325.2 94.4,325.2 93.6,325.2 92.8,325.2 92.0,325.2 91.2,325.2 90.4,325.2 89.6,325.2 88.8,325.2 88.0,325.2 87.2,325.2 86.4,325.2 85.6,325.2 84.8,325.2 84.0,325.1 83.2,325.1 82.4,325.1 81.6,325.1 80.8,325.1 80.0,325.1 79.2,325.1 78.4,325.1 77.6,325.1 76.8,325.1 76.0,325.1 75.2,325.1 74.4,325.1 73.6,325.1 72.8,325.1 72.0,325.1 71.2,325.1 70.4,325.0 69.6,325.0 68.8,325.0 68.0,325.0 67.2,325.0 66.4,325.0 65.6,325.0 64.8,325.0 64.0,325.0 63.2,325.0 62.4,325.0 61.6,325.0 60.8,325.0 60.0,325.0 59.2,325.0 58.4,325.0 57.6,325.0 56.8,324.9 56.0,324.9 55.2,324.9 54.4,324.9 53.6,324.9 52.8,324.9 52.0,324.9 51.2,324.9 50.4,324.9 49.6,324.9 48.8,324.9 48.0,324.9 47.2,324.9 46.4,324.9 45.6,324.9 44.8,324.9 44.0,324.9 43.2,324.8 42.4,324.8 41.6,324.8 40.8,324.8 40.0,324.8 39.2,324.8 38.4,324.8 37.6,324.8 36.8,324.8" fill="#c4c4c4" stroke="none"/>
<polyline class="mk" points="36.8,323.8 37.8,323.2 38.7,323.3 39.7,323.2 40.6,323.2 41.6,323.1 42.6,323.5 43.5,323.2 44.5,323.7 45.4,323.6 46.4,323.2 47.4,323.2 48.3,323.3 49.3,323.7 50.2,323.2 51.2,323.1 52.2,323.3 53.1,323.4 54.1,323.2 55.0,323.6 56.0,323.3 57.0,323.4 57.9,323.1 58.9,323.2 59.8,323.2 60.8,322.7 61.8,323.2 62.7,322.8 63.7,323.1 64.6,322.8 65.6,323.4 66.6,323.1 67.5,323.1 68.5,323.1 69.4,322.6 70.4,322.4 71.4,322.7 72.3,322.9 73.3,322.7 74.2,322.8 75.2,322.7 76.2,322.2 77.1,322.5 78.1,322.7 79.0,322.1 80.0,321.7 81.0,321.9 81.9,321.8 82.9,321.8 83.8,321.3 84.8,321.3 85.8,320.6 86.7,320.9 87.7,320.7 88.6,320.3 89.6,319.2 90.6,318.9 91.5,317.5 92.5,317.2 93.4,316.0 94.4,314.5 95.4,313.2 96.3,311.3 97.3,309.4 98.2,306.8 99.2,304.2 100.2,300.8 101.1,297.8 102.1,294.7 103.0,291.4 104.0,288.0 105.0,285.0 105.9,281.6 106.9,279.2 107.8,277.5 108.8,276.2 109.8,276.3 110.7,276.8 111.7,278.7 112.6,280.5 113.6,283.4 114.6,286.2 115.5,289.7 116.5,292.4 117.4,295.9 118.4,298.7 119.4,301.6 120.3,304.4 121.3,306.2 122.2,308.1 123.2,309.9 124.2,311.6 125.1,312.4 126.1,313.8 127.0,314.4 128.0,315.1 129.0,315.8 129.9,316.5 130.9,316.7 131.8,317.0 132.8,317.4 133.8,317.6 134.7,317.4 135.7,318.0 136.6,318.3 137.6,318.7 138.6,319.1 139.5,318.9 140.5,318.9 141.4,318.7 142.4,319.0 143.4,319.1 144.3,319.1 145.3,318.5 146.2,318.4 147.2,318.2 148.2,317.8 149.1,316.8 150.1,315.7 151.0,314.4 152.0,313.1 153.0,311.2 153.9,309.3 154.9,306.8 155.8,303.8 156.8,300.6 157.8,296.5 158.7,292.5 159.7,287.9 160.6,283.3 161.6,278.7 162.6,273.5 163.5,268.2 164.5,263.9 165.4,259.6 166.4,255.8 167.4,253.2 168.3,251.8 169.3,251.3 170.2,251.2 171.2,253.0 172.2,255.7 173.1,258.6 174.1,262.9 175.0,267.4 176.0,272.2 177.0,276.8 177.9,281.9 178.9,286.9 179.8,291.4 180.8,295.7 181.8,299.1 182.7,302.9 183.7,305.7 184.6,307.9 185.6,310.6 186.6,312.3 187.5,314.2 188.5,315.5 189.4,316.9 190.4,317.8 191.4,318.5 192.3,319.6 193.3,320.1 194.2,320.6 195.2,321.5 196.2,321.7 197.1,322.1 198.1,322.6 199.0,322.8 200.0,323.4 201.0,324.2 201.9,324.0 202.9,324.5 203.8,324.6 204.8,325.0 205.8,325.7 206.7,325.8 207.7,325.7 208.6,326.0 209.6,326.0 210.6,326.2 211.5,326.3 212.5,326.4 213.4,326.8 214.4,326.9 215.4,327.0 216.3,326.9 217.3,326.8 218.2,327.1 219.2,327.0 220.2,327.4 221.1,327.4 222.1,327.5 223.0,327.3 224.0,327.1 225.0,327.7 225.9,327.8 226.9,327.3 227.8,327.6 228.8,327.9 229.8,327.4 230.7,328.0 231.7,327.6 232.6,327.5 233.6,328.0 234.6,327.9 235.5,327.7 236.5,328.0 237.4,327.5 238.4,328.3 239.4,327.8 240.3,328.0 241.3,327.9 242.2,328.1 243.2,328.2 244.2,327.9 245.1,328.2 246.1,328.0 247.0,327.9 248.0,328.0 249.0,327.9 249.9,328.0 250.9,328.3 251.8,328.1 252.8,328.4 253.8,328.3 254.7,328.0 255.7,327.8 256.6,328.1 257.6,328.3 258.6,328.3 259.5,328.1 260.5,328.5 261.4,328.0 262.4,328.1 263.4,328.4 264.3,328.8 265.3,328.4 266.2,328.2 267.2,328.5"/>
<polygon points="36.8,324.7 37.6,324.7 38.4,324.7 39.2,324.7 40.0,324.7 40.8,324.7 41.6,324.7 42.4,324.7 43.2,324.7 44.0,324.7 44.8,324.7 45.6,324.7 46.4,324.7 47.2,324.7 48.0,324.7 48.8,324.7 49.6,324.7 50.4,324.7 51.2,324.7 52.0,324.8 52.8,324.8 53.6,324.8 54.4,324.8 55.2,324.8 56.0,324.8 56.8,324.8 57.6,324.8 58.4,324.8 59.2,324.8 60.0,324.8 60.8,324.8 61.6,324.8 62.4,324.8 63.2,324.8 64.0,324.8 64.8,324.8 65.6,324.8 66.4,324.8 67.2,324.8 68.0,324.8 68.8,324.8 69.6,324.8 70.4,324.8 71.2,324.8 72.0,324.8 72.8,324.8 73.6,324.8 74.4,324.8 75.2,324.8 76.0,324.8 76.8,324.8 77.6,324.8 78.4,324.8 79.2,324.8 80.0,324.8 80.8,324.8 81.6,324.8 82.4,324.8 83.2,324.8 84.0,324.8 84.8,324.8 85.6,324.8 86.4,324.8 87.2,324.8 88.0,324.8 88.8,324.8 89.6,324.8 90.4,324.8 91.2,324.8 92.0,324.8 92.8,324.8 93.6,324.8 94.4,324.8 95.2,324.8 96.0,324.8 96.8,324.8 97.6,324.8 98.4,324.8 99.2,324.8 100.0,324.8 100.8,324.8 101.6,324.8 102.4,324.8 103.2,324.8 104.0,324.8 104.8,324.8 105.6,324.8 106.4,324.8 107.2,324.8 108.0,324.8 108.8,324.8 109.6,324.7 110.4,324.7 111.2,324.7 112.0,324.7 112.8,324.7 113.6,324.7 114.4,324.7 115.2,324.7 116.0,324.7 116.8,324.6 117.6,324.6 118.4,324.6 119.2,324.6 120.0,324.6 120.8,324.6 121.6,324.5 122.4,324.5 123.2,324.5 124.0,324.5 124.8,324.4 125.6,324.4 126.4,324.4 127.2,324.4 128.0,324.3 128.8,324.3 129.6,324.3 130.4,324.2 131.2,324.2 132.0,324.1 132.8,324.1 133.6,324.0 134.4,324.0 135.2,323.9 136.0,323.9 136.8,323.8 137.6,323.7 138.4,323.6 139.2,323.5 140.0,323.4 140.8,323.3 141.6,323.2 142.4,323.1 143.2,322.9 144.0,322.7 144.8,322.5 145.6,322.3 146.4,322.0 147.2,321.7 148.0,321.3 148.8,320.8 149.6,320.3 150.4,319.6 151.2,318.8 152.0,317.8 152.8,316.6 153.6,315.2 154.4,313.6 155.2,311.6 156.0,309.4 156.8,306.9 157.6,304.1 158.4,300.9 159.2,297.4 160.0,293.6 160.8,289.5 161.6,285.2 162.4,280.7 163.2,276.1 164.0,271.6 164.8,267.2 165.6,263.1 166.4,259.5 167.2,256.5 168.0,254.3 168.8,253.1 169.6,252.9 170.4,253.7 171.2,255.5 172.0,258.3 172.8,261.7 173.6,265.7 174.4,270.1 175.2,274.6 176.0,279.3 176.8,284.0 177.6,288.5 178.4,292.8 179.2,296.9 180.0,300.6 180.8,304.1 181.6,307.2 182.4,310.0 183.2,312.4 184.0,314.5 184.8,316.4 185.6,318.0 186.4,319.4 187.2,320.5 188.0,321.5 188.8,322.3 189.6,323.0 190.4,323.6 191.2,324.1 192.0,324.5 192.8,324.9 193.6,325.2 194.4,325.4 195.2,325.7 196.0,325.9 196.8,326.1 197.6,326.3 198.4,326.4 199.2,326.6 200.0,326.7 200.8,326.8 201.6,326.9 202.4,327.0 203.2,327.1 204.0,327.2 204.8,327.3 205.6,327.4 206.4,327.5 207.2,327.6 208.0,327.6 208.8,327.7 209.6,327.8 210.4,327.8 211.2,327.9 212.0,327.9 212.8,328.0 213.6,328.0 214.4,328.1 215.2,328.1 216.0,328.2 216.8,328.2 217.6,328.3 218.4,328.3 219.2,328.3 220.0,328.4 220.8,328.4 221.6,328.4 222.4,328.5 223.2,328.5 224.0,328.5 224.8,328.6 225.6,328.6 226.4,328.6 227.2,328.6 228.0,328.7 228.8,328.7 229.6,328.7 230.4,328.7 231.2,328.8 232.0,328.8 232.8,328.8 233.6,328.8 234.4,328.8 235.2,328.9 236.0,328.9 236.8,328.9 237.6,328.9 238.4,328.9 239.2,328.9 240.0,329.0 240.8,329.0 241.6,329.0 242.4,329.0 243.2,329.0 244.0,329.0 244.8,329.0 245.6,329.1 246.4,329.1 247.2,329.1 248.0,329.1 248.8,329.1 249.6,329.1 250.4,329.1 251.2,329.2 252.0,329.2 252.8,329.2 253.6,329.2 254.4,329.2 255.2,329.2 256.0,329.2 256.8,329.2 257.6,329.2 258.4,329.3 259.2,329.3 260.0,329.3 260.8,329.3 261.6,329.3 262.4,329.3 263.2,329.3 264.0,329.3 264.8,329.3 265.6,329.3 266.4,329.4 267.2,329.4 267.2,329.6 266.4,329.6 265.6,329.6 264.8,329.6 264.0,329.6 263.2,329.6 262.4,329.6 261.6,329.6 260.8,329.5 260.0,329.5 259.2,329.5 258.4,329.5 257.6,329.5 256.8,329.5 256.0,329.5 255.2,329.5 254.4,329.5 253.6,329.5 252.8,329.5 252.0,329.5 251.2,329.5 250.4,329.5 249.6,329.5 248.8,329.5 248.0,329.5 247.2,329.4 246.4,329.4 245.6,329.4 244.8,329.4 244.0,329.4 243.2,329.4 242.4,329.4 241.6,329.4 240.8,329.4 240.0,329.4 239.2,329.4 238.4,329.4 237.6,329.4 236.8,329.4 236.0,329.4 235.2,329.4 234.4,329.3 233.6,329.3 232.8,329.3 232.0,329.3 231.2,329.3 230.4,329.3 229.6,329.3 228.8,329.3 228.0,329.3 227.2,329.3 226.4,329.3 225.6,329.3 224.8,329.3 224.0,329.3 223.2,329.2 222.4,329.2 221.6,329.2 220.8,329.2 220.0,329.2 219.2,329.2 218.4,329.2 217.6,329.2 216.8,329.2 216.0,329.2 215.2,329.2 214.4,329.1 213.6,329.1 212.8,329.1 212.0,329.1 211.2,329.1 210.4,329.1 209.6,329.1 208.8,329.1 208.0,329.0 207.2,329.0 206.4,329.0 205.6,329.0 204.8,329.0 204.0,329.0 203.2,329.0 202.4,328.9 201.6,328.9 200.8,328.9 200.0,328.9 199.2,328.9 198.4,328.8 197.6,328.8 196.8,328.8 196.0,328.8 195.2,328.7 194.4,328.7 193.6,328.7 192.8,328.7 192.0,328.6 191.2,328.6 190.4,328.6 189.6,328.5 188.8,328.5 188.0,328.5 187.2,328.4 186.4,328.4 185.6,328.4 184.8,328.3 184.0,328.3 183.2,328.2 182.4,328.2 181.6,328.1 180.8,328.1 180.0,328.1 179.2,328.0 178.4,328.0 177.6,327.9 176.8,327.8 176.0,327.8 175.2,327.7 174.4,327.7 173.6,327.6 172.8,327.6 172.0,327.5 171.2,327.5 170.4,327.4 169.6,327.3 168.8,327.3 168.0,327.2 167.2,327.2 166.4,327.1 165.6,327.1 164.8,327.0 164.0,326.9 163.2,326.9 162.4,326.8 161.6,326.8 160.8,326.7 160.0,326.7 159.2,326.6 158.4,326.6 157.6,326.5 156.8,326.5 156.0,326.4 155.2,326.4 154.4,326.4 153.6,326.3 152.8,326.3 152.0,326.2 151.2,326.2 150.4,326.2 149.6,326.1 148.8,326.1 148.0,326.1 147.2,326.0 146.4,326.0 145.6,326.0 144.8,325.9 144.0,325.9 143.2,325.9 142.4,325.9 141.6,325.8 140.8,325.8 140.0,325.8 139.2,325.8 138.4,325.8 137.6,325.7 136.8,325.7 136.0,325.7 135.2,325.7 134.4,325.7 133.6,325.7 132.8,325.6 132.0,325.6 131.2,325.6 130.4,325.6 129.6,325.6 128.8,325.6 128.0,325.6 127.2,325.5 126.4,325.5 125.6,325.5 124.8,325.5 124.0,325.5 123.2,325.5 122.4,325.5 121.6,325.5 120.8,325.5 120.0,325.5 119.2,325.4 118.4,325.4 117.6,325.4 116.8,325.4 116.0,325.4 115.2,325.4 114.4,325.4 113.6,325.4 112.8,325.4 112.0,325.4 111.2,325.4 110.4,325.4 109.6,325.4 108.8,325.3 108.0,325.3 107.2,325.3 106.4,325.3 105.6,325.3 104.8,325.3 104.0,325.3 103.2,325.3 102.4,325.3 101.6,325.3 100.8,325.3 100.0,325.3 99.2,325.3 98.4,325.3 97.6,325.3 96.8,325.2 96.0,325.2 95.2,325.2 94.4,325.2 93.6,325.2 92.8,325.2 92.0,325.2 91.2,325.2 90.4,325.2 89.6,325.2 88.8,325.2 88.0,325.2 87.2,325.2 86.4,325.2 85.6,325.2 84.8,325.2 84.0,325.1 83.2,325.1 82.4,325.1 81.6,325.1 80.8,325.1 80.0,325.1 79.2,325.1 78.4,325.1 77.6,325.1 76.8,325.1 76.0,325.1 75.2,325.1 74.4,325.1 73.6,325.1 72.8,325.1 72.0,325.1 71.2,325.1 70.4,325.0 69.6,325.0 68.8,325.0 68.0,325.0 67.2,325.0 66.4,325.0 65.6,325.0 64.8,325.0 64.0,325.0 63.2,325.0 62.4,325.0 61.6,325.0 60.8,325.0 60.0,325.0 59.2,325.0 58.4,325.0 57.6,325.0 56.8,324.9 56.0,324.9 55.2,324.9 54.4,324.9 53.6,324.9 52.8,324.9 52.0,324.9 51.2,324.9 50.4,324.9 49.6,324.9 48.8,324.9 48.0,324.9 47.2,324.9 46.4,324.9 45.6,324.9 44.8,324.9 44.0,324.9 43.2,324.8 42.4,324.8 41.6,324.8 40.8,324.8 40.0,324.8 39.2,324.8 38.4,324.8 37.6,324.8 36.8,324.8" fill="#f27272" fill-opacity="0.8" stroke="none"/>
<polygon points="36.8,324.5 37.6,324.5 38.4,324.5 39.2,324.5 40.0,324.5 40.8,324.5 41.6,324.5 42.4,324.5 43.2,324.5 44.0,324.5 44.8,324.5 45.6,324.5 46.4,324.5 47.2,324.5 48.0,324.5 48.8,324.5 49.6,324.5 50.4,324.5 51.2,324.4 52.0,324.4 52.8,324.4 53.6,324.4 54.4,324.4 55.2,324.4 56.0,324.4 56.8,324.4 57.6,324.4 58.4,324.4 59.2,324.3 60.0,324.3 60.8,324.3 61.6,324.3 62.4,324.3 63.2,324.3 64.0,324.3 64.8,324.2 65.6,324.2 66.4,324.2 67.2,324.2 68.0,324.1 68.8,324.1 69.6,324.1 70.4,324.0 71.2,324.0 72.0,324.0 72.8,323.9 73.6,323.9 74.4,323.8 75.2,323.8 76.0,323.7 76.8,323.7 77.6,323.6 78.4,323.6 79.2,323.5 80.0,323.4 80.8,323.3 81.6,323.2 82.4,323.1 83.2,323.0 84.0,322.9 84.8,322.7 85.6,322.6 86.4,322.4 87.2,322.2 88.0,321.9 88.8,321.6 89.6,321.3 90.4,320.9 91.2,320.4 92.0,319.9 92.8,319.2 93.6,318.4 94.4,317.5 95.2,316.4 96.0,315.1 96.8,313.6 97.6,311.9 98.4,310.0 99.2,307.9 100.0,305.5 100.8,303.0 101.6,300.2 102.4,297.3 103.2,294.3 104.0,291.3 104.8,288.3 105.6,285.5 106.4,282.9 107.2,280.8 108.0,279.2 108.8,278.3 109.6,278.1 110.4,278.6 111.2,279.9 112.0,281.8 112.8,284.2 113.6,286.9 114.4,289.9 115.2,292.9 116.0,296.0 116.8,298.9 117.6,301.8 118.4,304.4 119.2,306.9 120.0,309.2 120.8,311.2 121.6,313.0 122.4,314.6 123.2,316.0 124.0,317.2 124.8,318.2 125.6,319.1 126.4,319.9 127.2,320.5 128.0,321.0 128.8,321.5 129.6,321.9 130.4,322.2 131.2,322.5 132.0,322.8 132.8,323.0 133.6,323.2 134.4,323.3 135.2,323.5 136.0,323.6 136.8,323.8 137.6,323.9 138.4,324.0 139.2,324.1 140.0,324.2 140.8,324.3 141.6,324.4 142.4,324.5 143.2,324.6 144.0,324.7 144.8,324.7 145.6,324.8 146.4,324.9 147.2,325.0 148.0,325.0 148.8,325.1 149.6,325.2 150.4,325.3 151.2,325.3 152.0,325.4 152.8,325.5 153.6,325.5 154.4,325.6 155.2,325.7 156.0,325.7 156.8,325.8 157.6,325.9 158.4,325.9 159.2,326.0 160.0,326.1 160.8,326.1 161.6,326.2 162.4,326.3 163.2,326.4 164.0,326.4 164.8,326.5 165.6,326.6 166.4,326.6 167.2,326.7 168.0,326.8 168.8,326.8 169.6,326.9 170.4,327.0 171.2,327.0 172.0,327.1 172.8,327.2 173.6,327.3 174.4,327.3 175.2,327.4 176.0,327.4 176.8,327.5 177.6,327.6 178.4,327.6 179.2,327.7 180.0,327.7 180.8,327.8 181.6,327.8 182.4,327.9 183.2,327.9 184.0,328.0 184.8,328.0 185.6,328.1 186.4,328.1 187.2,328.2 188.0,328.2 188.8,328.3 189.6,328.3 190.4,328.3 191.2,328.4 192.0,328.4 192.8,328.4 193.6,328.5 194.4,328.5 195.2,328.5 196.0,328.6 196.8,328.6 197.6,328.6 198.4,328.6 199.2,328.7 200.0,328.7 200.8,328.7 201.6,328.7 202.4,328.8 203.2,328.8 204.0,328.8 204.8,328.8 205.6,328.8 206.4,328.9 207.2,328.9 208.0,328.9 208.8,328.9 209.6,328.9 210.4,328.9 211.2,328.9 212.0,329.0 212.8,329.0 213.6,329.0 214.4,329.0 215.2,329.0 216.0,329.0 216.8,329.0 217.6,329.0 218.4,329.1 219.2,329.1 220.0,329.1 220.8,329.1 221.6,329.1 222.4,329.1 223.2,329.1 224.0,329.1 224.0,329.3 223.2,329.2 222.4,329.2 221.6,329.2 220.8,329.2 220.0,329.2 219.2,329.2 218.4,329.2 217.6,329.2 216.8,329.2 216.0,329.2 215.2,329.2 214.4,329.1 213.6,329.1 212.8,329.1 212.0,329.1 211.2,329.1 210.4,329.1 209.6,329.1 208.8,329.1 208.0,329.0 207.2,329.0 206.4,329.0 205.6,329.0 204.8,329.0 204.0,329.0 203.2,329.0 202.4,328.9 201.6,328.9 200.8,328.9 200.0,328.9 199.2,328.9 198.4,328.8 197.6,328.8 196.8,328.8 196.0,328.8 195.2,328.7 194.4,328.7 193.6,328.7 192.8,328.7 192.0,328.6 191.2,328.6 190.4,328.6 189.6,328.5 188.8,328.5 188.0,328.5 187.2,328.4 186.4,328.4 185.6,328.4 184.8,328.3 184.0,328.3 183.2,328.2 182.4,328.2 181.6,328.1 180.8,328.1 180.0,328.1 179.2,328.0 178.4,328.0 177.6,327.9 176.8,327.8 176.0,327.8 175.2,327.7 174.4,327.7 173.6,327.6 172.8,327.6 172.0,327.5 171.2,327.5 170.4,327.4 169.6,327.3 168.8,327.3 168.0,327.2 167.2,327.2 166.4,327.1 165.6,327.1 164.8,327.0 164.0,326.9 163.2,326.9 162.4,326.8 161.6,326.8 160.8,326.7 160.0,326.7 159.2,326.6 158.4,326.6 157.6,326.5 156.8,326.5 156.0,326.4 155.2,326.4 154.4,326.4 153.6,326.3 152.8,326.3 152.0,326.2 151.2,326.2 150.4,326.2 149.6,326.1 148.8,326.1 148.0,326.1 147.2,326.0 146.4,326.0 145.6,326.0 144.8,325.9 144.0,325.9 143.2,325.9 142.4,325.9 141.6,325.8 140.8,325.8 140.0,325.8 139.2,325.8 138.4,325.8 137.6,325.7 136.8,325.7 136.0,325.7 135.2,325.7 134.4,325.7 133.6,325.7 132.8,325.6 132.0,325.6 131.2,325.6 130.4,325.6 129.6,325.6 128.8,325.6 128.0,325.6 127.2,325.5 126.4,325.5 125.6,325.5 124.8,325.5 124.0,325.5 123.2,325.5 122.4,325.5 121.6,325.5 120.8,325.5 120.0,325.5 119.2,325.4 118.4,325.4 117.6,325.4 116.8,325.4 116.0,325.4 115.2,325.4 114.4,325.4 113.6,325.4 112.8,325.4 112.0,325.4 111.2,325.4 110.4,325.4 109.6,325.4 108.8,325.3 108.0,325.3 107.2,325.3 106.4,325.3 105.6,325.3 104.8,325.3 104.0,325.3 103.2,325.3 102.4,325.3 101.6,325.3 100.8,325.3 100.0,325.3 99.2,325.3 98.4,325.3 97.6,325.3 96.8,325.2 96.0,325.2 95.2,325.2 94.4,325.2 93.6,325.2 92.8,325.2 92.0,325.2 91.2,325.2 90.4,325.2 89.6,325.2 88.8,325.2 88.0,325.2 87.2,325.2 86.4,325.2 85.6,325.2 84.8,325.2 84.0,325.1 83.2,325.1 82.4,325.1 81.6,325.1 80.8,325.1 80.0,325.1 79.2,325.1 78.4,325.1 77.6,325.1 76.8,325.1 76.0,325.1 75.2,325.1 74.4,325.1 73.6,325.1 72.8,325.1 72.0,325.1 71.2,325.1 70.4,325.0 69.6,325.0 68.8,325.0 68.0,325.0 67.2,325.0 66.4,325.0 65.6,325.0 64.8,325.0 64.0,325.0 63.2,325.0 62.4,325.0 61.6,325.0 60.8,325.0 60.0,325.0 59.2,325.0 58.4,325.0 57.6,325.0 56.8,324.9 56.0,324.9 55.2,324.9 54.4,324.9 53.6,324.9 52.8,324.9 52.0,324.9 51.2,324.9 50.4,324.9 49.6,324.9 48.8,324.9 48.0,324.9 47.2,324.9 46.4,324.9 45.6,324.9 44.8,324.9 44.0,324.9 43.2,324.8 42.4,324.8 41.6,324.8 40.8,324.8 40.0,324.8 39.2,324.8 38.4,324.8 37.6,324.8 36.8,324.8" fill="#6a96c2" fill-opacity="0.8" stroke="none"/>
<polygon points="101.6,325.2 102.4,325.1 103.2,325.1 104.0,325.1 104.8,325.1 105.6,325.1 106.4,325.1 107.2,325.0 108.0,325.0 108.8,325.0 109.6,324.9 110.4,324.9 111.2,324.8 112.0,324.7 112.8,324.7 113.6,324.6 114.4,324.5 115.2,324.4 116.0,324.3 116.8,324.2 117.6,324.2 118.4,324.1 119.2,324.0 120.0,323.8 120.8,323.8 121.6,323.7 122.4,323.6 123.2,323.5 124.0,323.4 124.8,323.3 125.6,323.3 126.4,323.2 127.2,323.2 128.0,323.2 128.8,323.2 129.6,323.2 130.4,323.2 131.2,323.3 132.0,323.3 132.8,323.4 133.6,323.5 134.4,323.6 135.2,323.7 136.0,323.8 136.8,324.0 137.6,324.1 138.4,324.2 139.2,324.3 140.0,324.5 140.8,324.6 141.6,324.7 142.4,324.8 143.2,325.0 144.0,325.1 144.8,325.2 145.6,325.3 146.4,325.4 147.2,325.5 148.0,325.6 148.8,325.7 149.6,325.8 150.4,325.8 151.2,325.9 152.0,326.0 152.8,326.0 153.6,326.1 154.4,326.2 155.2,326.2 156.0,326.3 156.8,326.4 156.8,326.5 156.0,326.4 155.2,326.4 154.4,326.4 153.6,326.3 152.8,326.3 152.0,326.2 151.2,326.2 150.4,326.2 149.6,326.1 148.8,326.1 148.0,326.1 147.2,326.0 146.4,326.0 145.6,326.0 144.8,325.9 144.0,325.9 143.2,325.9 142.4,325.9 141.6,325.8 140.8,325.8 140.0,325.8 139.2,325.8 138.4,325.8 137.6,325.7 136.8,325.7 136.0,325.7 135.2,325.7 134.4,325.7 133.6,325.7 132.8,325.6 132.0,325.6 131.2,325.6 130.4,325.6 129.6,325.6 128.8,325.6 128.0,325.6 127.2,325.5 126.4,325.5 125.6,325.5 124.8,325.5 124.0,325.5 123.2,325.5 122.4,325.5 121.6,325.5 120.8,325.5 120.0,325.5 119.2,325.4 118.4,325.4 117.6,325.4 116.8,325.4 116.0,325.4 115.2,325.4 114.4,325.4 113.6,325.4 112.8,325.4 112.0,325.4 111.2,325.4 110.4,325.4 109.6,325.4 108.8,325.3 108.0,325.3 107.2,325.3 106.4,325.3 105.6,325.3 104.8,325.3 104.0,325.3 103.2,325.3 102.4,325.3 101.6,325.3" fill="#ffd12b" fill-opacity="0.8" stroke="none"/>
<polygon points="162.4,326.7 163.2,326.7 164.0,326.8 164.8,326.8 165.6,326.8 166.4,326.9 167.2,326.9 168.0,326.9 168.8,326.9 169.6,326.9 170.4,326.9 171.2,326.9 172.0,326.9 172.8,326.8 173.6,326.8 174.4,326.8 175.2,326.7 176.0,326.6 176.8,326.6 177.6,326.5 178.4,326.4 179.2,326.3 180.0,326.2 180.8,326.1 181.6,326.1 182.4,326.0 183.2,325.9 184.0,325.8 184.8,325.8 185.6,325.7 186.4,325.7 187.2,325.7 188.0,325.7 188.8,325.7 189.6,325.8 190.4,325.8 191.2,325.9 192.0,326.0 192.8,326.2 193.6,326.3 194.4,326.4 195.2,326.6 196.0,326.8 196.8,326.9 197.6,327.1 198.4,327.2 199.2,327.4 200.0,327.6 200.8,327.7 201.6,327.8 202.4,328.0 203.2,328.1 204.0,328.2 204.8,328.3 205.6,328.4 206.4,328.5 207.2,328.6 208.0,328.7 208.8,328.7 209.6,328.8 210.4,328.8 211.2,328.9 212.0,328.9 212.8,328.9 213.6,329.0 214.4,329.0 214.4,329.1 213.6,329.1 212.8,329.1 212.0,329.1 211.2,329.1 210.4,329.1 209.6,329.1 208.8,329.1 208.0,329.0 207.2,329.0 206.4,329.0 205.6,329.0 204.8,329.0 204.0,329.0 203.2,329.0 202.4,328.9 201.6,328.9 200.8,328.9 200.0,328.9 199.2,328.9 198.4,328.8 197.6,328.8 196.8,328.8 196.0,328.8 195.2,328.7 194.4,328.7 193.6,328.7 192.8,328.7 192.0,328.6 191.2,328.6 190.4,328.6 189.6,328.5 188.8,328.5 188.0,328.5 187.2,328.4 186.4,328.4 185.6,328.4 184.8,328.3 184.0,328.3 183.2,328.2 182.4,328.2 181.6,328.1 180.8,328.1 180.0,328.1 179.2,328.0 178.4,328.0 177.6,327.9 176.8,327.8 176.0,327.8 175.2,327.7 174.4,327.7 173.6,327.6 172.8,327.6 172.0,327.5 171.2,327.5 170.4,327.4 169.6,327.3 168.8,327.3 168.0,327.2 167.2,327.2 166.4,327.1 165.6,327.1 164.8,327.0 164.0,326.9 163.2,326.9 162.4,326.8" fill="#705eb4" fill-opacity="0.8" stroke="none"/>
<polyline points="36.8,324.7 37.6,324.7 38.4,324.7 39.2,324.7 40.0,324.7 40.8,324.7 41.6,324.7 42.4,324.7 43.2,324.7 44.0,324.7 44.8,324.7 45.6,324.7 46.4,324.7 47.2,324.7 48.0,324.7 48.8,324.7 49.6,324.7 50.4,324.7 51.2,324.7 52.0,324.8 52.8,324.8 53.6,324.8 54.4,324.8 55.2,324.8 56.0,324.8 56.8,324.8 57.6,324.8 58.4,324.8 59.2,324.8 60.0,324.8 60.8,324.8 61.6,324.8 62.4,324.8 63.2,324.8 64.0,324.8 64.8,324.8 65.6,324.8 66.4,324.8 67.2,324.8 68.0,324.8 68.8,324.8 69.6,324.8 70.4,324.8 71.2,324.8 72.0,324.8 72.8,324.8 73.6,324.8 74.4,324.8 75.2,324.8 76.0,324.8 76.8,324.8 77.6,324.8 78.4,324.8 79.2,324.8 80.0,324.8 80.8,324.8 81.6,324.8 82.4,324.8 83.2,324.8 84.0,324.8 84.8,324.8 85.6,324.8 86.4,324.8 87.2,324.8 88.0,324.8 88.8,324.8 89.6,324.8 90.4,324.8 91.2,324.8 92.0,324.8 92.8,324.8 93.6,324.8 94.4,324.8 95.2,324.8 96.0,324.8 96.8,324.8 97.6,324.8 98.4,324.8 99.2,324.8 100.0,324.8 100.8,324.8 101.6,324.8 102.4,324.8 103.2,324.8 104.0,324.8 104.8,324.8 105.6,324.8 106.4,324.8 107.2,324.8 108.0,324.8 108.8,324.8 109.6,324.7 110.4,324.7 111.2,324.7 112.0,324.7 112.8,324.7 113.6,324.7 114.4,324.7 115.2,324.7 116.0,324.7 116.8,324.6 117.6,324.6 118.4,324.6 119.2,324.6 120.0,324.6 120.8,324.6 121.6,324.5 122.4,324.5 123.2,324.5 124.0,324.5 124.8,324.4 125.6,324.4 126.4,324.4 127.2,324.4 128.0,324.3 128.8,324.3 129.6,324.3 130.4,324.2 131.2,324.2 132.0,324.1 132.8,324.1 133.6,324.0 134.4,324.0 135.2,323.9 136.0,323.9 136.8,323.8 137.6,323.7 138.4,323.6 139.2,323.5 140.0,323.4 140.8,323.3 141.6,323.2 142.4,323.1 143.2,322.9 144.0,322.7 144.8,322.5 145.6,322.3 146.4,322.0 147.2,321.7 148.0,321.3 148.8,320.8 149.6,320.3 150.4,319.6 151.2,318.8 152.0,317.8 152.8,316.6 153.6,315.2 154.4,313.6 155.2,311.6 156.0,309.4 156.8,306.9 157.6,304.1 158.4,300.9 159.2,297.4 160.0,293.6 160.8,289.5 161.6,285.2 162.4,280.7 163.2,276.1 164.0,271.6 164.8,267.2 165.6,263.1 166.4,259.5 167.2,256.5 168.0,254.3 168.8,253.1 169.6,252.9 170.4,253.7 171.2,255.5 172.0,258.3 172.8,261.7 173.6,265.7 174.4,270.1 175.2,274.6 176.0,279.3 176.8,284.0 177.6,288.5 178.4,292.8 179.2,296.9 180.0,300.6 180.8,304.1 181.6,307.2 182.4,310.0 183.2,312.4 184.0,314.5 184.8,316.4 185.6,318.0 186.4,319.4 187.2,320.5 188.0,321.5 188.8,322.3 189.6,323.0 190.4,323.6 191.2,324.1 192.0,324.5 192.8,324.9 193.6,325.2 194.4,325.4 195.2,325.7 196.0,325.9 196.8,326.1 197.6,326.3 198.4,326.4 199.2,326.6 200.0,326.7 200.8,326.8 201.6,326.9 202.4,327.0 203.2,327.1 204.0,327.2 204.8,327.3 205.6,327.4 206.4,327.5 207.2,327.6 208.0,327.6 208.8,327.7 209.6,327.8 210.4,327.8 211.2,327.9 212.0,327.9 212.8,328.0 213.6,328.0 214.4,328.1 215.2,328.1 216.0,328.2 216.8,328.2 217.6,328.3 218.4,328.3 219.2,328.3 220.0,328.4 220.8,328.4 221.6,328.4 222.4,328.5 223.2,328.5 224.0,328.5 224.8,328.6 225.6,328.6 226.4,328.6 227.2,328.6 228.0,328.7 228.8,328.7 229.6,328.7 230.4,328.7 231.2,328.8 232.0,328.8 232.8,328.8 233.6,328.8 234.4,328.8 235.2,328.9 236.0,328.9 236.8,328.9 237.6,328.9 238.4,328.9 239.2,328.9 240.0,329.0 240.8,329.0 241.6,329.0 242.4,329.0 243.2,329.0 244.0,329.0 244.8,329.0 245.6,329.1 246.4,329.1 247.2,329.1 248.0,329.1 248.8,329.1 249.6,329.1 250.4,329.1 251.2,329.2 252.0,329.2 252.8,329.2 253.6,329.2 254.4,329.2 255.2,329.2 256.0,329.2 256.8,329.2 257.6,329.2 258.4,329.3 259.2,329.3 260.0,329.3 260.8,329.3 261.6,329.3 262.4,329.3 263.2,329.3 264.0,329.3 264.8,329.3 265.6,329.3 266.4,329.4 267.2,329.4" fill="none" stroke="#e8202a" stroke-width="1.4"/>
<polyline points="36.8,324.5 37.6,324.5 38.4,324.5 39.2,324.5 40.0,324.5 40.8,324.5 41.6,324.5 42.4,324.5 43.2,324.5 44.0,324.5 44.8,324.5 45.6,324.5 46.4,324.5 47.2,324.5 48.0,324.5 48.8,324.5 49.6,324.5 50.4,324.5 51.2,324.4 52.0,324.4 52.8,324.4 53.6,324.4 54.4,324.4 55.2,324.4 56.0,324.4 56.8,324.4 57.6,324.4 58.4,324.4 59.2,324.3 60.0,324.3 60.8,324.3 61.6,324.3 62.4,324.3 63.2,324.3 64.0,324.3 64.8,324.2 65.6,324.2 66.4,324.2 67.2,324.2 68.0,324.1 68.8,324.1 69.6,324.1 70.4,324.0 71.2,324.0 72.0,324.0 72.8,323.9 73.6,323.9 74.4,323.8 75.2,323.8 76.0,323.7 76.8,323.7 77.6,323.6 78.4,323.6 79.2,323.5 80.0,323.4 80.8,323.3 81.6,323.2 82.4,323.1 83.2,323.0 84.0,322.9 84.8,322.7 85.6,322.6 86.4,322.4 87.2,322.2 88.0,321.9 88.8,321.6 89.6,321.3 90.4,320.9 91.2,320.4 92.0,319.9 92.8,319.2 93.6,318.4 94.4,317.5 95.2,316.4 96.0,315.1 96.8,313.6 97.6,311.9 98.4,310.0 99.2,307.9 100.0,305.5 100.8,303.0 101.6,300.2 102.4,297.3 103.2,294.3 104.0,291.3 104.8,288.3 105.6,285.5 106.4,282.9 107.2,280.8 108.0,279.2 108.8,278.3 109.6,278.1 110.4,278.6 111.2,279.9 112.0,281.8 112.8,284.2 113.6,286.9 114.4,289.9 115.2,292.9 116.0,296.0 116.8,298.9 117.6,301.8 118.4,304.4 119.2,306.9 120.0,309.2 120.8,311.2 121.6,313.0 122.4,314.6 123.2,316.0 124.0,317.2 124.8,318.2 125.6,319.1 126.4,319.9 127.2,320.5 128.0,321.0 128.8,321.5 129.6,321.9 130.4,322.2 131.2,322.5 132.0,322.8 132.8,323.0 133.6,323.2 134.4,323.3 135.2,323.5 136.0,323.6 136.8,323.8 137.6,323.9 138.4,324.0 139.2,324.1 140.0,324.2 140.8,324.3 141.6,324.4 142.4,324.5 143.2,324.6 144.0,324.7 144.8,324.7 145.6,324.8 146.4,324.9 147.2,325.0 148.0,325.0 148.8,325.1 149.6,325.2 150.4,325.3 151.2,325.3 152.0,325.4 152.8,325.5 153.6,325.5 154.4,325.6 155.2,325.7 156.0,325.7 156.8,325.8 157.6,325.9 158.4,325.9 159.2,326.0 160.0,326.1 160.8,326.1 161.6,326.2 162.4,326.3 163.2,326.4 164.0,326.4 164.8,326.5 165.6,326.6 166.4,326.6 167.2,326.7 168.0,326.8 168.8,326.8 169.6,326.9 170.4,327.0 171.2,327.0 172.0,327.1 172.8,327.2 173.6,327.3 174.4,327.3 175.2,327.4 176.0,327.4 176.8,327.5 177.6,327.6 178.4,327.6 179.2,327.7 180.0,327.7 180.8,327.8 181.6,327.8 182.4,327.9 183.2,327.9 184.0,328.0 184.8,328.0 185.6,328.1 186.4,328.1 187.2,328.2 188.0,328.2 188.8,328.3 189.6,328.3 190.4,328.3 191.2,328.4 192.0,328.4 192.8,328.4 193.6,328.5 194.4,328.5 195.2,328.5 196.0,328.6 196.8,328.6 197.6,328.6 198.4,328.6 199.2,328.7 200.0,328.7 200.8,328.7 201.6,328.7 202.4,328.8 203.2,328.8 204.0,328.8 204.8,328.8 205.6,328.8 206.4,328.9 207.2,328.9 208.0,328.9 208.8,328.9 209.6,328.9 210.4,328.9 211.2,328.9 212.0,329.0 212.8,329.0 213.6,329.0 214.4,329.0 215.2,329.0 216.0,329.0 216.8,329.0 217.6,329.0 218.4,329.1 219.2,329.1 220.0,329.1 220.8,329.1 221.6,329.1 222.4,329.1 223.2,329.1 224.0,329.1" fill="none" stroke="#1a6aa8" stroke-width="1.4"/>
<polyline points="101.6,325.2 102.4,325.1 103.2,325.1 104.0,325.1 104.8,325.1 105.6,325.1 106.4,325.1 107.2,325.0 108.0,325.0 108.8,325.0 109.6,324.9 110.4,324.9 111.2,324.8 112.0,324.7 112.8,324.7 113.6,324.6 114.4,324.5 115.2,324.4 116.0,324.3 116.8,324.2 117.6,324.2 118.4,324.1 119.2,324.0 120.0,323.8 120.8,323.8 121.6,323.7 122.4,323.6 123.2,323.5 124.0,323.4 124.8,323.3 125.6,323.3 126.4,323.2 127.2,323.2 128.0,323.2 128.8,323.2 129.6,323.2 130.4,323.2 131.2,323.3 132.0,323.3 132.8,323.4 133.6,323.5 134.4,323.6 135.2,323.7 136.0,323.8 136.8,324.0 137.6,324.1 138.4,324.2 139.2,324.3 140.0,324.5 140.8,324.6 141.6,324.7 142.4,324.8 143.2,325.0 144.0,325.1 144.8,325.2 145.6,325.3 146.4,325.4 147.2,325.5 148.0,325.6 148.8,325.7 149.6,325.8 150.4,325.8 151.2,325.9 152.0,326.0 152.8,326.0 153.6,326.1 154.4,326.2 155.2,326.2 156.0,326.3 156.8,326.4" fill="none" stroke="#f2b705" stroke-width="1.4"/>
<polyline points="162.4,326.7 163.2,326.7 164.0,326.8 164.8,326.8 165.6,326.8 166.4,326.9 167.2,326.9 168.0,326.9 168.8,326.9 169.6,326.9 170.4,326.9 171.2,326.9 172.0,326.9 172.8,326.8 173.6,326.8 174.4,326.8 175.2,326.7 176.0,326.6 176.8,326.6 177.6,326.5 178.4,326.4 179.2,326.3 180.0,326.2 180.8,326.1 181.6,326.1 182.4,326.0 183.2,325.9 184.0,325.8 184.8,325.8 185.6,325.7 186.4,325.7 187.2,325.7 188.0,325.7 188.8,325.7 189.6,325.8 190.4,325.8 191.2,325.9 192.0,326.0 192.8,326.2 193.6,326.3 194.4,326.4 195.2,326.6 196.0,326.8 196.8,326.9 197.6,327.1 198.4,327.2 199.2,327.4 200.0,327.6 200.8,327.7 201.6,327.8 202.4,328.0 203.2,328.1 204.0,328.2 204.8,328.3 205.6,328.4 206.4,328.5 207.2,328.6 208.0,328.7 208.8,328.7 209.6,328.8 210.4,328.8 211.2,328.9 212.0,328.9 212.8,328.9 213.6,329.0 214.4,329.0" fill="none" stroke="#6a5fa8" stroke-width="1.4"/>
<polyline points="36.8,325.2 37.6,325.2 38.4,325.2 39.2,325.2 40.0,325.2 40.8,325.2 41.6,325.2 42.4,325.2 43.2,325.2 44.0,325.3 44.8,325.3 45.6,325.3 46.4,325.3 47.2,325.3 48.0,325.3 48.8,325.3 49.6,325.3 50.4,325.3 51.2,325.3 52.0,325.3 52.8,325.3 53.6,325.3 54.4,325.3 55.2,325.3 56.0,325.3 56.8,325.3 57.6,325.4 58.4,325.4 59.2,325.4 60.0,325.4 60.8,325.4 61.6,325.4 62.4,325.4 63.2,325.4 64.0,325.4 64.8,325.4 65.6,325.4 66.4,325.4 67.2,325.4 68.0,325.4 68.8,325.4 69.6,325.4 70.4,325.4 71.2,325.5 72.0,325.5 72.8,325.5 73.6,325.5 74.4,325.5 75.2,325.5 76.0,325.5 76.8,325.5 77.6,325.5 78.4,325.5 79.2,325.5 80.0,325.5 80.8,325.5 81.6,325.5 82.4,325.5 83.2,325.5 84.0,325.5 84.8,325.6 85.6,325.6 86.4,325.6 87.2,325.6 88.0,325.6 88.8,325.6 89.6,325.6 90.4,325.6 91.2,325.6 92.0,325.6 92.8,325.6 93.6,325.6 94.4,325.6" fill="none" stroke="#1fb36f" stroke-width="1.0"/>
<polyline points="95.2,325.6 96.0,325.6 96.8,325.6 97.6,325.7 98.4,325.7 99.2,325.7 100.0,325.7 100.8,325.7 101.6,325.7 102.4,325.7 103.2,325.7 104.0,325.7 104.8,325.7 105.6,325.7 106.4,325.7 107.2,325.7 108.0,325.7 108.8,325.7 109.6,325.8 110.4,325.8 111.2,325.8 112.0,325.8 112.8,325.8 113.6,325.8 114.4,325.8 115.2,325.8 116.0,325.8 116.8,325.8 117.6,325.8 118.4,325.8 119.2,325.8 120.0,325.9 120.8,325.9 121.6,325.9 122.4,325.9 123.2,325.9 124.0,325.9 124.8,325.9 125.6,325.9 126.4,325.9 127.2,325.9 128.0,326.0 128.8,326.0 129.6,326.0 130.4,326.0 131.2,326.0 132.0,326.0 132.8,326.0 133.6,326.1 134.4,326.1 135.2,326.1 136.0,326.1 136.8,326.1 137.6,326.1 138.4,326.2 139.2,326.2 140.0,326.2 140.8,326.2 141.6,326.2 142.4,326.3 143.2,326.3 144.0,326.3 144.8,326.3 145.6,326.4 146.4,326.4 147.2,326.4 148.0,326.5 148.8,326.5 149.6,326.5" fill="none" stroke="#f2b705" stroke-width="1.0"/>
<polyline points="150.4,326.6 151.2,326.6 152.0,326.6 152.8,326.7 153.6,326.7 154.4,326.8 155.2,326.8 156.0,326.8 156.8,326.9 157.6,326.9 158.4,327.0 159.2,327.0 160.0,327.1 160.8,327.1 161.6,327.2 162.4,327.2 163.2,327.3 164.0,327.3 164.8,327.4 165.6,327.5 166.4,327.5 167.2,327.6 168.0,327.6 168.8,327.7 169.6,327.7 170.4,327.8 171.2,327.9 172.0,327.9 172.8,328.0 173.6,328.0 174.4,328.1 175.2,328.1 176.0,328.2 176.8,328.2 177.6,328.3 178.4,328.4 179.2,328.4 180.0,328.5 180.8,328.5 181.6,328.5 182.4,328.6 183.2,328.6 184.0,328.7 184.8,328.7 185.6,328.8 186.4,328.8 187.2,328.8 188.0,328.9 188.8,328.9 189.6,328.9 190.4,329.0 191.2,329.0 192.0,329.0 192.8,329.1 193.6,329.1 194.4,329.1 195.2,329.1 196.0,329.2 196.8,329.2 197.6,329.2 198.4,329.2 199.2,329.3 200.0,329.3 200.8,329.3 201.6,329.3 202.4,329.3 203.2,329.4 204.0,329.4 204.8,329.4" fill="none" stroke="#1fb36f" stroke-width="1.0"/>
<polyline points="205.6,329.4 206.4,329.4 207.2,329.4 208.0,329.4 208.8,329.5 209.6,329.5 210.4,329.5 211.2,329.5 212.0,329.5 212.8,329.5 213.6,329.5 214.4,329.5 215.2,329.6 216.0,329.6 216.8,329.6 217.6,329.6 218.4,329.6 219.2,329.6 220.0,329.6 220.8,329.6 221.6,329.6 222.4,329.6 223.2,329.6 224.0,329.7 224.8,329.7 225.6,329.7 226.4,329.7 227.2,329.7 228.0,329.7 228.8,329.7 229.6,329.7 230.4,329.7 231.2,329.7 232.0,329.7 232.8,329.7 233.6,329.7 234.4,329.7 235.2,329.8 236.0,329.8 236.8,329.8 237.6,329.8 238.4,329.8 239.2,329.8 240.0,329.8 240.8,329.8 241.6,329.8 242.4,329.8 243.2,329.8 244.0,329.8 244.8,329.8 245.6,329.8 246.4,329.8 247.2,329.8 248.0,329.9 248.8,329.9 249.6,329.9 250.4,329.9 251.2,329.9 252.0,329.9 252.8,329.9 253.6,329.9 254.4,329.9 255.2,329.9 256.0,329.9 256.8,329.9 257.6,329.9 258.4,329.9 259.2,329.9 260.0,329.9 260.8,329.9 261.6,330.0 262.4,330.0 263.2,330.0 264.0,330.0 264.8,330.0 265.6,330.0 266.4,330.0 267.2,330.0" fill="none" stroke="#1fb36f" stroke-width="1.0"/>
<polyline points="36.8,324.3 37.6,324.3 38.4,324.3 39.2,324.3 40.0,324.3 40.8,324.3 41.6,324.3 42.4,324.3 43.2,324.3 44.0,324.4 44.8,324.4 45.6,324.4 46.4,324.4 47.2,324.4 48.0,324.4 48.8,324.4 49.6,324.4 50.4,324.4 51.2,324.4 52.0,324.4 52.8,324.4 53.6,324.4 54.4,324.4 55.2,324.4 56.0,324.4 56.8,324.4 57.6,324.5 58.4,324.5 59.2,324.5 60.0,324.5 60.8,324.5 61.6,324.5 62.4,324.5 63.2,324.5 64.0,324.5 64.8,324.5 65.6,324.5 66.4,324.5 67.2,324.5 68.0,324.5 68.8,324.5 69.6,324.5 70.4,324.5 71.2,324.6 72.0,324.6 72.8,324.6 73.6,324.6 74.4,324.6 75.2,324.6 76.0,324.6 76.8,324.6 77.6,324.6 78.4,324.6 79.2,324.6 80.0,324.6 80.8,324.6 81.6,324.6 82.4,324.6 83.2,324.6 84.0,324.6 84.8,324.7 85.6,324.7 86.4,324.7 87.2,324.7 88.0,324.7 88.8,324.7 89.6,324.7" fill="none" stroke="#1f6fb5" stroke-width="1.0"/>
<polyline points="205.6,328.5 206.4,328.5 207.2,328.5 208.0,328.5 208.8,328.6 209.6,328.6 210.4,328.6 211.2,328.6 212.0,328.6 212.8,328.6 213.6,328.6 214.4,328.6 215.2,328.7 216.0,328.7 216.8,328.7 217.6,328.7 218.4,328.7 219.2,328.7 220.0,328.7 220.8,328.7 221.6,328.7 222.4,328.7 223.2,328.7 224.0,328.8 224.8,328.8 225.6,328.8 226.4,328.8 227.2,328.8 228.0,328.8 228.8,328.8 229.6,328.8 230.4,328.8 231.2,328.8 232.0,328.8 232.8,328.8 233.6,328.8 234.4,328.8 235.2,328.9 236.0,328.9 236.8,328.9 237.6,328.9 238.4,328.9 239.2,328.9 240.0,328.9 240.8,328.9 241.6,328.9 242.4,328.9 243.2,328.9 244.0,328.9 244.8,328.9 245.6,328.9 246.4,328.9 247.2,328.9 248.0,329.0 248.8,329.0 249.6,329.0 250.4,329.0 251.2,329.0 252.0,329.0 252.8,329.0 253.6,329.0 254.4,329.0 255.2,329.0 256.0,329.0 256.8,329.0 257.6,329.0 258.4,329.0 259.2,329.0 260.0,329.0 260.8,329.0 261.6,329.1 262.4,329.1 263.2,329.1 264.0,329.1 264.8,329.1 265.6,329.1 266.4,329.1 267.2,329.1" fill="none" stroke="#e8202a" stroke-width="1.0"/>
<polygon points="36.8,414.0 37.6,414.0 38.4,414.0 39.2,414.0 40.0,414.0 40.8,414.0 41.6,414.0 42.4,414.0 43.2,414.0 44.0,414.0 44.8,414.0 45.6,414.0 46.4,413.9 47.2,413.9 48.0,413.9 48.8,413.9 49.6,413.9 50.4,413.9 51.2,413.9 52.0,413.9 52.8,413.9 53.6,413.9 54.4,413.9 55.2,413.8 56.0,413.8 56.8,413.8 57.6,413.8 58.4,413.8 59.2,413.8 60.0,413.7 60.8,413.7 61.6,413.7 62.4,413.7 63.2,413.7 64.0,413.6 64.8,413.6 65.6,413.6 66.4,413.6 67.2,413.5 68.0,413.5 68.8,413.5 69.6,413.4 70.4,413.4 71.2,413.3 72.0,413.3 72.8,413.2 73.6,413.2 74.4,413.1 75.2,413.1 76.0,413.0 76.8,413.0 77.6,412.9 78.4,412.8 79.2,412.7 80.0,412.6 80.8,412.5 81.6,412.4 82.4,412.3 83.2,412.2 84.0,412.0 84.8,411.9 85.6,411.7 86.4,411.5 87.2,411.2 88.0,410.9 88.8,410.6 89.6,410.2 90.4,409.7 91.2,409.1 92.0,408.5 92.8,407.7 93.6,406.8 94.4,405.8 95.2,404.6 96.0,403.2 96.8,401.6 97.6,399.8 98.4,397.8 99.2,395.6 100.0,393.2 100.8,390.6 101.6,387.9 102.4,385.0 103.2,381.9 104.0,378.9 104.8,375.8 105.6,372.9 106.4,370.1 107.2,367.7 108.0,365.7 108.8,364.1 109.6,363.2 110.4,362.9 111.2,363.3 112.0,364.4 112.8,366.0 113.6,368.0 114.4,370.5 115.2,373.1 116.0,375.9 116.8,378.8 117.6,381.6 118.4,384.4 119.2,387.1 120.0,389.6 120.8,391.9 121.6,394.0 122.4,395.9 123.2,397.6 124.0,399.1 124.8,400.5 125.6,401.6 126.4,402.6 127.2,403.4 128.0,404.1 128.8,404.7 129.6,405.2 130.4,405.6 131.2,406.0 132.0,406.3 132.8,406.5 133.6,406.7 134.4,406.9 135.2,407.0 136.0,407.2 136.8,407.3 137.6,407.4 138.4,407.4 139.2,407.5 140.0,407.5 140.8,407.5 141.6,407.5 142.4,407.4 143.2,407.3 144.0,407.2 144.8,407.1 145.6,406.9 146.4,406.6 147.2,406.2 148.0,405.8 148.8,405.3 149.6,404.6 150.4,403.9 151.2,402.9 152.0,401.8 152.8,400.4 153.6,398.9 154.4,397.0 155.2,394.9 156.0,392.6 156.8,389.9 157.6,386.9 158.4,383.7 159.2,380.1 160.0,376.3 160.8,372.3 161.6,368.1 162.4,363.8 163.2,359.4 164.0,355.1 164.8,350.9 165.6,346.9 166.4,343.3 167.2,340.2 168.0,337.7 168.8,335.8 169.6,334.7 170.4,334.5 171.2,335.1 172.0,336.4 172.8,338.6 173.6,341.3 174.4,344.6 175.2,348.3 176.0,352.2 176.8,356.4 177.6,360.6 178.4,364.9 179.2,369.0 180.0,373.0 180.8,376.9 181.6,380.5 182.4,383.8 183.2,387.0 184.0,389.8 184.8,392.4 185.6,394.7 186.4,396.8 187.2,398.7 188.0,400.4 188.8,401.9 189.6,403.3 190.4,404.6 191.2,405.7 192.0,406.7 192.8,407.6 193.6,408.5 194.4,409.3 195.2,410.0 196.0,410.7 196.8,411.3 197.6,411.9 198.4,412.4 199.2,412.9 200.0,413.4 200.8,413.8 201.6,414.2 202.4,414.6 203.2,414.9 204.0,415.2 204.8,415.5 205.6,415.7 206.4,416.0 207.2,416.2 208.0,416.4 208.8,416.6 209.6,416.7 210.4,416.9 211.2,417.0 212.0,417.1 212.8,417.3 213.6,417.4 214.4,417.5 215.2,417.6 216.0,417.6 216.8,417.7 217.6,417.8 218.4,417.9 219.2,417.9 220.0,418.0 220.8,418.0 221.6,418.1 222.4,418.1 223.2,418.2 224.0,418.2 224.8,418.3 225.6,418.3 226.4,418.4 227.2,418.4 228.0,418.4 228.8,418.5 229.6,418.5 230.4,418.5 231.2,418.6 232.0,418.6 232.8,418.6 233.6,418.7 234.4,418.7 235.2,418.7 236.0,418.7 236.8,418.8 237.6,418.8 238.4,418.8 239.2,418.8 240.0,418.9 240.8,418.9 241.6,418.9 242.4,418.9 243.2,419.0 244.0,419.0 244.8,419.0 245.6,419.0 246.4,419.0 247.2,419.0 248.0,419.1 248.8,419.1 249.6,419.1 250.4,419.1 251.2,419.1 252.0,419.2 252.8,419.2 253.6,419.2 254.4,419.2 255.2,419.2 256.0,419.2 256.8,419.2 257.6,419.3 258.4,419.3 259.2,419.3 260.0,419.3 260.8,419.3 261.6,419.3 262.4,419.3 263.2,419.4 264.0,419.4 264.8,419.4 265.6,419.4 266.4,419.4 267.2,419.4 267.2,420.5 266.4,420.5 265.6,420.5 264.8,420.5 264.0,420.5 263.2,420.5 262.4,420.5 261.6,420.5 260.8,420.4 260.0,420.4 259.2,420.4 258.4,420.4 257.6,420.4 256.8,420.4 256.0,420.4 255.2,420.4 254.4,420.4 253.6,420.4 252.8,420.4 252.0,420.4 251.2,420.4 250.4,420.4 249.6,420.4 248.8,420.3 248.0,420.3 247.2,420.3 246.4,420.3 245.6,420.3 244.8,420.3 244.0,420.3 243.2,420.3 242.4,420.3 241.6,420.3 240.8,420.3 240.0,420.3 239.2,420.3 238.4,420.3 237.6,420.2 236.8,420.2 236.0,420.2 235.2,420.2 234.4,420.2 233.6,420.2 232.8,420.2 232.0,420.2 231.2,420.2 230.4,420.2 229.6,420.2 228.8,420.2 228.0,420.2 227.2,420.1 226.4,420.1 225.6,420.1 224.8,420.1 224.0,420.1 223.2,420.1 222.4,420.1 221.6,420.1 220.8,420.1 220.0,420.1 219.2,420.1 218.4,420.0 217.6,420.0 216.8,420.0 216.0,420.0 215.2,420.0 214.4,420.0 213.6,420.0 212.8,420.0 212.0,420.0 211.2,419.9 210.4,419.9 209.6,419.9 208.8,419.9 208.0,419.9 207.2,419.9 206.4,419.9 205.6,419.8 204.8,419.8 204.0,419.8 203.2,419.8 202.4,419.8 201.6,419.8 200.8,419.7 200.0,419.7 199.2,419.7 198.4,419.7 197.6,419.6 196.8,419.6 196.0,419.6 195.2,419.6 194.4,419.5 193.6,419.5 192.8,419.5 192.0,419.4 191.2,419.4 190.4,419.4 189.6,419.3 188.8,419.3 188.0,419.3 187.2,419.2 186.4,419.2 185.6,419.1 184.8,419.1 184.0,419.0 183.2,419.0 182.4,418.9 181.6,418.9 180.8,418.8 180.0,418.8 179.2,418.7 178.4,418.7 177.6,418.6 176.8,418.6 176.0,418.5 175.2,418.4 174.4,418.4 173.6,418.3 172.8,418.3 172.0,418.2 171.2,418.1 170.4,418.1 169.6,418.0 168.8,417.9 168.0,417.9 167.2,417.8 166.4,417.8 165.6,417.7 164.8,417.6 164.0,417.6 163.2,417.5 162.4,417.4 161.6,417.4 160.8,417.3 160.0,417.3 159.2,417.2 158.4,417.2 157.6,417.1 156.8,417.1 156.0,417.0 155.2,417.0 154.4,416.9 153.6,416.9 152.8,416.8 152.0,416.8 151.2,416.7 150.4,416.7 149.6,416.7 148.8,416.6 148.0,416.6 147.2,416.6 146.4,416.5 145.6,416.5 144.8,416.5 144.0,416.4 143.2,416.4 142.4,416.4 141.6,416.4 140.8,416.3 140.0,416.3 139.2,416.3 138.4,416.3 137.6,416.2 136.8,416.2 136.0,416.2 135.2,416.2 134.4,416.2 133.6,416.1 132.8,416.1 132.0,416.1 131.2,416.1 130.4,416.1 129.6,416.1 128.8,416.1 128.0,416.0 127.2,416.0 126.4,416.0 125.6,416.0 124.8,416.0 124.0,416.0 123.2,416.0 122.4,416.0 121.6,415.9 120.8,415.9 120.0,415.9 119.2,415.9 118.4,415.9 117.6,415.9 116.8,415.9 116.0,415.9 115.2,415.9 114.4,415.9 113.6,415.9 112.8,415.8 112.0,415.8 111.2,415.8 110.4,415.8 109.6,415.8 108.8,415.8 108.0,415.8 107.2,415.8 106.4,415.8 105.6,415.8 104.8,415.8 104.0,415.8 103.2,415.7 102.4,415.7 101.6,415.7 100.8,415.7 100.0,415.7 99.2,415.7 98.4,415.7 97.6,415.7 96.8,415.7 96.0,415.7 95.2,415.7 94.4,415.7 93.6,415.7 92.8,415.7 92.0,415.6 91.2,415.6 90.4,415.6 89.6,415.6 88.8,415.6 88.0,415.6 87.2,415.6 86.4,415.6 85.6,415.6 84.8,415.6 84.0,415.6 83.2,415.6 82.4,415.6 81.6,415.6 80.8,415.6 80.0,415.5 79.2,415.5 78.4,415.5 77.6,415.5 76.8,415.5 76.0,415.5 75.2,415.5 74.4,415.5 73.6,415.5 72.8,415.5 72.0,415.5 71.2,415.5 70.4,415.5 69.6,415.5 68.8,415.5 68.0,415.5 67.2,415.4 66.4,415.4 65.6,415.4 64.8,415.4 64.0,415.4 63.2,415.4 62.4,415.4 61.6,415.4 60.8,415.4 60.0,415.4 59.2,415.4 58.4,415.4 57.6,415.4 56.8,415.4 56.0,415.4 55.2,415.3 54.4,415.3 53.6,415.3 52.8,415.3 52.0,415.3 51.2,415.3 50.4,415.3 49.6,415.3 48.8,415.3 48.0,415.3 47.2,415.3 46.4,415.3 45.6,415.3 44.8,415.3 44.0,415.3 43.2,415.3 42.4,415.2 41.6,415.2 40.8,415.2 40.0,415.2 39.2,415.2 38.4,415.2 37.6,415.2 36.8,415.2" fill="#c4c4c4" stroke="none"/>
<polyline class="mk" points="36.8,414.1 37.8,414.2 38.7,413.9 39.7,413.8 40.6,414.0 41.6,414.1 42.6,414.3 43.5,414.4 44.5,413.8 45.4,413.9 46.4,413.9 47.4,413.9 48.3,414.0 49.3,414.0 50.2,414.0 51.2,414.2 52.2,413.9 53.1,413.7 54.1,413.5 55.0,413.6 56.0,413.6 57.0,413.4 57.9,413.9 58.9,413.8 59.8,413.7 60.8,413.5 61.8,413.4 62.7,413.5 63.7,414.0 64.6,413.2 65.6,413.6 66.6,413.7 67.5,413.5 68.5,413.4 69.4,413.6 70.4,413.2 71.4,413.4 72.3,413.6 73.3,413.0 74.2,413.0 75.2,413.1 76.2,413.2 77.1,413.2 78.1,413.0 79.0,412.6 80.0,412.4 81.0,412.6 81.9,412.5 82.9,412.0 83.8,412.1 84.8,411.9 85.8,411.8 86.7,411.2 87.7,411.1 88.6,410.4 89.6,410.1 90.6,409.6 91.5,409.2 92.5,408.7 93.4,407.0 94.4,405.9 95.4,404.5 96.3,402.3 97.3,400.7 98.2,398.0 99.2,396.0 100.2,393.0 101.1,389.6 102.1,386.0 103.0,382.9 104.0,378.9 105.0,375.3 105.9,371.9 106.9,368.3 107.8,366.2 108.8,364.3 109.8,363.2 110.7,363.1 111.7,363.8 112.6,365.8 113.6,368.1 114.6,371.0 115.5,374.1 116.5,377.8 117.4,381.3 118.4,384.5 119.4,387.7 120.3,390.8 121.3,393.5 122.2,395.6 123.2,397.6 124.2,399.3 125.1,400.9 126.1,402.3 127.0,403.4 128.0,404.0 129.0,404.9 129.9,405.2 130.9,406.1 131.8,406.1 132.8,406.6 133.8,406.6 134.7,406.9 135.7,407.0 136.6,407.6 137.6,407.4 138.6,407.4 139.5,407.3 140.5,407.4 141.4,407.6 142.4,407.8 143.4,407.0 144.3,407.0 145.3,406.9 146.2,406.5 147.2,405.9 148.2,405.7 149.1,405.2 150.1,403.9 151.0,403.1 152.0,402.0 153.0,400.3 153.9,398.1 154.9,396.2 155.8,393.2 156.8,389.7 157.8,386.5 158.7,382.0 159.7,378.0 160.6,372.8 161.6,368.2 162.6,362.8 163.5,357.9 164.5,352.7 165.4,347.8 166.4,343.3 167.4,339.9 168.3,336.6 169.3,335.3 170.2,334.6 171.2,335.2 172.2,337.0 173.1,340.4 174.1,343.3 175.0,347.7 176.0,352.3 177.0,357.6 177.9,361.9 178.9,367.7 179.8,372.1 180.8,376.4 181.8,380.9 182.7,385.1 183.7,388.7 184.6,391.9 185.6,394.9 186.6,397.2 187.5,399.4 188.5,400.9 189.4,403.1 190.4,404.8 191.4,405.8 192.3,406.7 193.3,407.9 194.2,409.5 195.2,409.9 196.2,410.7 197.1,411.4 198.1,412.4 199.0,412.7 200.0,413.2 201.0,413.6 201.9,414.3 202.9,415.0 203.8,415.1 204.8,415.7 205.8,415.8 206.7,416.1 207.7,416.3 208.6,416.5 209.6,416.9 210.6,417.0 211.5,416.9 212.5,417.2 213.4,417.3 214.4,417.6 215.4,417.6 216.3,417.8 217.3,417.5 218.2,417.9 219.2,418.2 220.2,417.7 221.1,418.4 222.1,418.2 223.0,418.1 224.0,417.9 225.0,418.5 225.9,418.2 226.9,418.3 227.8,418.5 228.8,418.3 229.8,418.3 230.7,418.3 231.7,418.6 232.6,418.8 233.6,418.7 234.6,418.8 235.5,418.7 236.5,418.8 237.4,418.7 238.4,419.2 239.4,418.9 240.3,418.5 241.3,418.7 242.2,419.2 243.2,418.7 244.2,418.9 245.1,419.1 246.1,418.8 247.0,419.3 248.0,419.4 249.0,418.9 249.9,419.3 250.9,419.0 251.8,418.9 252.8,419.2 253.8,419.2 254.7,419.1 255.7,419.4 256.6,418.9 257.6,419.1 258.6,419.1 259.5,419.4 260.5,419.5 261.4,419.5 262.4,419.1 263.4,419.4 264.3,419.5 265.3,419.1 266.2,419.2 267.2,419.5"/>
<polygon points="55.2,415.2 56.0,415.2 56.8,415.2 57.6,415.2 58.4,415.2 59.2,415.3 60.0,415.3 60.8,415.3 61.6,415.3 62.4,415.3 63.2,415.3 64.0,415.3 64.8,415.3 65.6,415.3 66.4,415.3 67.2,415.3 68.0,415.3 68.8,415.3 69.6,415.3 70.4,415.3 71.2,415.3 72.0,415.3 72.8,415.3 73.6,415.3 74.4,415.3 75.2,415.3 76.0,415.3 76.8,415.3 77.6,415.3 78.4,415.3 79.2,415.4 80.0,415.4 80.8,415.4 81.6,415.4 82.4,415.4 83.2,415.4 84.0,415.4 84.8,415.4 85.6,415.4 86.4,415.4 87.2,415.4 88.0,415.4 88.8,415.4 89.6,415.4 90.4,415.4 91.2,415.4 92.0,415.4 92.8,415.4 93.6,415.4 94.4,415.4 95.2,415.4 96.0,415.4 96.8,415.4 97.6,415.4 98.4,415.4 99.2,415.4 100.0,415.4 100.8,415.4 101.6,415.4 102.4,415.4 103.2,415.4 104.0,415.4 104.8,415.4 105.6,415.4 106.4,415.4 107.2,415.4 108.0,415.4 108.8,415.4 109.6,415.4 110.4,415.4 111.2,415.4 112.0,415.4 112.8,415.4 113.6,415.4 114.4,415.4 115.2,415.3 116.0,415.3 116.8,415.3 117.6,415.3 118.4,415.3 119.2,415.3 120.0,415.3 120.8,415.3 121.6,415.3 122.4,415.3 123.2,415.3 124.0,415.3 124.8,415.2 125.6,415.2 126.4,415.2 127.2,415.2 128.0,415.2 128.8,415.2 129.6,415.1 130.4,415.1 131.2,415.1 132.0,415.1 132.8,415.0 133.6,415.0 134.4,415.0 135.2,414.9 136.0,414.9 136.8,414.9 137.6,414.8 138.4,414.8 139.2,414.7 140.0,414.7 140.8,414.6 141.6,414.5 142.4,414.4 143.2,414.3 144.0,414.2 144.8,414.1 145.6,413.9 146.4,413.7 147.2,413.5 148.0,413.2 148.8,412.8 149.6,412.3 150.4,411.8 151.2,411.1 152.0,410.2 152.8,409.1 153.6,407.8 154.4,406.3 155.2,404.5 156.0,402.3 156.8,399.8 157.6,396.9 158.4,393.7 159.2,390.1 160.0,386.1 160.8,381.8 161.6,377.1 162.4,372.3 163.2,367.3 164.0,362.3 164.8,357.3 165.6,352.6 166.4,348.2 167.2,344.4 168.0,341.3 168.8,339.1 169.6,337.8 170.4,337.6 171.2,338.5 172.0,340.4 172.8,343.2 173.6,346.8 174.4,351.0 175.2,355.7 176.0,360.7 176.8,365.8 177.6,371.0 178.4,376.0 179.2,380.9 180.0,385.4 180.8,389.7 181.6,393.6 182.4,397.2 183.2,400.3 184.0,403.1 184.8,405.5 185.6,407.6 186.4,409.4 187.2,410.9 188.0,412.1 188.8,413.2 189.6,414.0 190.4,414.8 191.2,415.3 192.0,415.8 192.8,416.2 193.6,416.6 194.4,416.9 195.2,417.1 196.0,417.3 196.8,417.5 197.6,417.6 198.4,417.8 199.2,417.9 200.0,418.0 200.8,418.1 201.6,418.2 202.4,418.3 203.2,418.4 204.0,418.5 204.8,418.6 205.6,418.6 206.4,418.7 207.2,418.8 208.0,418.8 208.8,418.9 209.6,418.9 210.4,419.0 211.2,419.0 212.0,419.1 212.8,419.1 213.6,419.2 214.4,419.2 215.2,419.2 216.0,419.3 216.8,419.3 217.6,419.3 218.4,419.4 219.2,419.4 220.0,419.4 220.8,419.5 221.6,419.5 222.4,419.5 223.2,419.5 224.0,419.6 224.8,419.6 225.6,419.6 226.4,419.6 227.2,419.7 228.0,419.7 228.8,419.7 229.6,419.7 230.4,419.7 231.2,419.8 232.0,419.8 232.8,419.8 233.6,419.8 234.4,419.8 235.2,419.9 236.0,419.9 236.8,419.9 237.6,419.9 238.4,419.9 239.2,419.9 240.0,419.9 240.8,420.0 241.6,420.0 242.4,420.0 243.2,420.0 244.0,420.0 244.8,420.0 245.6,420.0 246.4,420.1 247.2,420.1 248.0,420.1 248.8,420.1 249.6,420.1 250.4,420.1 251.2,420.1 252.0,420.1 252.8,420.1 253.6,420.2 254.4,420.2 255.2,420.2 256.0,420.2 256.8,420.2 257.6,420.2 258.4,420.2 259.2,420.2 260.0,420.2 260.8,420.3 261.6,420.3 262.4,420.3 263.2,420.3 264.0,420.3 264.8,420.3 265.6,420.3 266.4,420.3 267.2,420.3 267.2,420.5 266.4,420.5 265.6,420.5 264.8,420.5 264.0,420.5 263.2,420.5 262.4,420.5 261.6,420.5 260.8,420.4 260.0,420.4 259.2,420.4 258.4,420.4 257.6,420.4 256.8,420.4 256.0,420.4 255.2,420.4 254.4,420.4 253.6,420.4 252.8,420.4 252.0,420.4 251.2,420.4 250.4,420.4 249.6,420.4 248.8,420.3 248.0,420.3 247.2,420.3 246.4,420.3 245.6,420.3 244.8,420.3 244.0,420.3 243.2,420.3 242.4,420.3 241.6,420.3 240.8,420.3 240.0,420.3 239.2,420.3 238.4,420.3 237.6,420.2 236.8,420.2 236.0,420.2 235.2,420.2 234.4,420.2 233.6,420.2 232.8,420.2 232.0,420.2 231.2,420.2 230.4,420.2 229.6,420.2 228.8,420.2 228.0,420.2 227.2,420.1 226.4,420.1 225.6,420.1 224.8,420.1 224.0,420.1 223.2,420.1 222.4,420.1 221.6,420.1 220.8,420.1 220.0,420.1 219.2,420.1 218.4,420.0 217.6,420.0 216.8,420.0 216.0,420.0 215.2,420.0 214.4,420.0 213.6,420.0 212.8,420.0 212.0,420.0 211.2,419.9 210.4,419.9 209.6,419.9 208.8,419.9 208.0,419.9 207.2,419.9 206.4,419.9 205.6,419.8 204.8,419.8 204.0,419.8 203.2,419.8 202.4,419.8 201.6,419.8 200.8,419.7 200.0,419.7 199.2,419.7 198.4,419.7 197.6,419.6 196.8,419.6 196.0,419.6 195.2,419.6 194.4,419.5 193.6,419.5 192.8,419.5 192.0,419.4 191.2,419.4 190.4,419.4 189.6,419.3 188.8,419.3 188.0,419.3 187.2,419.2 186.4,419.2 185.6,419.1 184.8,419.1 184.0,419.0 183.2,419.0 182.4,418.9 181.6,418.9 180.8,418.8 180.0,418.8 179.2,418.7 178.4,418.7 177.6,418.6 176.8,418.6 176.0,418.5 175.2,418.4 174.4,418.4 173.6,418.3 172.8,418.3 172.0,418.2 171.2,418.1 170.4,418.1 169.6,418.0 168.8,417.9 168.0,417.9 167.2,417.8 166.4,417.8 165.6,417.7 164.8,417.6 164.0,417.6 163.2,417.5 162.4,417.4 161.6,417.4 160.8,417.3 160.0,417.3 159.2,417.2 158.4,417.2 157.6,417.1 156.8,417.1 156.0,417.0 155.2,417.0 154.4,416.9 153.6,416.9 152.8,416.8 152.0,416.8 151.2,416.7 150.4,416.7 149.6,416.7 148.8,416.6 148.0,416.6 147.2,416.6 146.4,416.5 145.6,416.5 144.8,416.5 144.0,416.4 143.2,416.4 142.4,416.4 141.6,416.4 140.8,416.3 140.0,416.3 139.2,416.3 138.4,416.3 137.6,416.2 136.8,416.2 136.0,416.2 135.2,416.2 134.4,416.2 133.6,416.1 132.8,416.1 132.0,416.1 131.2,416.1 130.4,416.1 129.6,416.1 128.8,416.1 128.0,416.0 127.2,416.0 126.4,416.0 125.6,416.0 124.8,416.0 124.0,416.0 123.2,416.0 122.4,416.0 121.6,415.9 120.8,415.9 120.0,415.9 119.2,415.9 118.4,415.9 117.6,415.9 116.8,415.9 116.0,415.9 115.2,415.9 114.4,415.9 113.6,415.9 112.8,415.8 112.0,415.8 111.2,415.8 110.4,415.8 109.6,415.8 108.8,415.8 108.0,415.8 107.2,415.8 106.4,415.8 105.6,415.8 104.8,415.8 104.0,415.8 103.2,415.7 102.4,415.7 101.6,415.7 100.8,415.7 100.0,415.7 99.2,415.7 98.4,415.7 97.6,415.7 96.8,415.7 96.0,415.7 95.2,415.7 94.4,415.7 93.6,415.7 92.8,415.7 92.0,415.6 91.2,415.6 90.4,415.6 89.6,415.6 88.8,415.6 88.0,415.6 87.2,415.6 86.4,415.6 85.6,415.6 84.8,415.6 84.0,415.6 83.2,415.6 82.4,415.6 81.6,415.6 80.8,415.6 80.0,415.5 79.2,415.5 78.4,415.5 77.6,415.5 76.8,415.5 76.0,415.5 75.2,415.5 74.4,415.5 73.6,415.5 72.8,415.5 72.0,415.5 71.2,415.5 70.4,415.5 69.6,415.5 68.8,415.5 68.0,415.5 67.2,415.4 66.4,415.4 65.6,415.4 64.8,415.4 64.0,415.4 63.2,415.4 62.4,415.4 61.6,415.4 60.8,415.4 60.0,415.4 59.2,415.4 58.4,415.4 57.6,415.4 56.8,415.4 56.0,415.4 55.2,415.3" fill="#da5252" fill-opacity="0.8" stroke="none"/>
<polygon points="36.8,414.9 37.6,414.9 38.4,414.9 39.2,414.9 40.0,414.9 40.8,414.9 41.6,414.9 42.4,414.9 43.2,414.9 44.0,414.9 44.8,414.9 45.6,414.9 46.4,414.9 47.2,414.9 48.0,414.9 48.8,414.9 49.6,414.8 50.4,414.8 51.2,414.8 52.0,414.8 52.8,414.8 53.6,414.8 54.4,414.8 55.2,414.8 56.0,414.8 56.8,414.8 57.6,414.8 58.4,414.8 59.2,414.7 60.0,414.7 60.8,414.7 61.6,414.7 62.4,414.7 63.2,414.7 64.0,414.6 64.8,414.6 65.6,414.6 66.4,414.6 67.2,414.6 68.0,414.5 68.8,414.5 69.6,414.5 70.4,414.4 71.2,414.4 72.0,414.4 72.8,414.3 73.6,414.3 74.4,414.2 75.2,414.2 76.0,414.1 76.8,414.1 77.6,414.0 78.4,414.0 79.2,413.9 80.0,413.8 80.8,413.7 81.6,413.6 82.4,413.5 83.2,413.4 84.0,413.3 84.8,413.2 85.6,413.0 86.4,412.8 87.2,412.7 88.0,412.4 88.8,412.2 89.6,411.9 90.4,411.5 91.2,411.1 92.0,410.6 92.8,410.0 93.6,409.2 94.4,408.4 95.2,407.4 96.0,406.2 96.8,404.8 97.6,403.3 98.4,401.5 99.2,399.4 100.0,397.2 100.8,394.7 101.6,391.9 102.4,389.0 103.2,385.9 104.0,382.7 104.8,379.5 105.6,376.3 106.4,373.2 107.2,370.5 108.0,368.2 108.8,366.5 109.6,365.5 110.4,365.3 111.2,366.0 112.0,367.3 112.8,369.3 113.6,371.9 114.4,374.8 115.2,377.9 116.0,381.2 116.8,384.4 117.6,387.6 118.4,390.7 119.2,393.5 120.0,396.1 120.8,398.6 121.6,400.7 122.4,402.7 123.2,404.4 124.0,405.8 124.8,407.1 125.6,408.2 126.4,409.2 127.2,410.0 128.0,410.7 128.8,411.2 129.6,411.7 130.4,412.1 131.2,412.5 132.0,412.8 132.8,413.1 133.6,413.3 134.4,413.5 135.2,413.7 136.0,413.9 136.8,414.0 137.6,414.2 138.4,414.3 139.2,414.4 140.0,414.5 140.8,414.6 141.6,414.7 142.4,414.8 143.2,414.9 144.0,415.0 144.8,415.1 145.6,415.2 146.4,415.3 147.2,415.4 148.0,415.5 148.8,415.5 149.6,415.6 150.4,415.7 151.2,415.8 152.0,415.8 152.8,415.9 153.6,416.0 154.4,416.1 155.2,416.2 156.0,416.2 156.8,416.3 157.6,416.4 158.4,416.5 159.2,416.5 160.0,416.6 160.8,416.7 161.6,416.8 162.4,416.8 163.2,416.9 164.0,417.0 164.8,417.1 165.6,417.1 166.4,417.2 167.2,417.3 168.0,417.4 168.8,417.5 169.6,417.5 170.4,417.6 171.2,417.7 172.0,417.8 172.8,417.8 173.6,417.9 174.4,418.0 175.2,418.1 176.0,418.1 176.8,418.2 177.6,418.3 178.4,418.3 179.2,418.4 180.0,418.4 180.8,418.5 181.6,418.6 182.4,418.6 183.2,418.7 184.0,418.7 184.8,418.8 185.6,418.8 186.4,418.9 187.2,418.9 188.0,419.0 188.8,419.0 189.6,419.1 190.4,419.1 191.2,419.2 192.0,419.2 192.8,419.2 193.6,419.3 194.4,419.3 195.2,419.3 196.0,419.4 196.8,419.4 197.6,419.4 198.4,419.4 199.2,419.5 200.0,419.5 200.8,419.5 201.6,419.5 202.4,419.6 203.2,419.6 204.0,419.6 204.8,419.6 205.6,419.7 206.4,419.7 207.2,419.7 208.0,419.7 208.8,419.7 209.6,419.7 210.4,419.8 211.2,419.8 212.0,419.8 212.8,419.8 213.6,419.8 214.4,419.8 215.2,419.9 216.0,419.9 216.8,419.9 217.6,419.9 218.4,419.9 219.2,419.9 220.0,419.9 220.8,419.9 221.6,420.0 222.4,420.0 223.2,420.0 224.0,420.0 224.8,420.0 225.6,420.0 226.4,420.0 227.2,420.0 228.0,420.0 228.8,420.0 228.8,420.2 228.0,420.2 227.2,420.1 226.4,420.1 225.6,420.1 224.8,420.1 224.0,420.1 223.2,420.1 222.4,420.1 221.6,420.1 220.8,420.1 220.0,420.1 219.2,420.1 218.4,420.0 217.6,420.0 216.8,420.0 216.0,420.0 215.2,420.0 214.4,420.0 213.6,420.0 212.8,420.0 212.0,420.0 211.2,419.9 210.4,419.9 209.6,419.9 208.8,419.9 208.0,419.9 207.2,419.9 206.4,419.9 205.6,419.8 204.8,419.8 204.0,419.8 203.2,419.8 202.4,419.8 201.6,419.8 200.8,419.7 200.0,419.7 199.2,419.7 198.4,419.7 197.6,419.6 196.8,419.6 196.0,419.6 195.2,419.6 194.4,419.5 193.6,419.5 192.8,419.5 192.0,419.4 191.2,419.4 190.4,419.4 189.6,419.3 188.8,419.3 188.0,419.3 187.2,419.2 186.4,419.2 185.6,419.1 184.8,419.1 184.0,419.0 183.2,419.0 182.4,418.9 181.6,418.9 180.8,418.8 180.0,418.8 179.2,418.7 178.4,418.7 177.6,418.6 176.8,418.6 176.0,418.5 175.2,418.4 174.4,418.4 173.6,418.3 172.8,418.3 172.0,418.2 171.2,418.1 170.4,418.1 169.6,418.0 168.8,417.9 168.0,417.9 167.2,417.8 166.4,417.8 165.6,417.7 164.8,417.6 164.0,417.6 163.2,417.5 162.4,417.4 161.6,417.4 160.8,417.3 160.0,417.3 159.2,417.2 158.4,417.2 157.6,417.1 156.8,417.1 156.0,417.0 155.2,417.0 154.4,416.9 153.6,416.9 152.8,416.8 152.0,416.8 151.2,416.7 150.4,416.7 149.6,416.7 148.8,416.6 148.0,416.6 147.2,416.6 146.4,416.5 145.6,416.5 144.8,416.5 144.0,416.4 143.2,416.4 142.4,416.4 141.6,416.4 140.8,416.3 140.0,416.3 139.2,416.3 138.4,416.3 137.6,416.2 136.8,416.2 136.0,416.2 135.2,416.2 134.4,416.2 133.6,416.1 132.8,416.1 132.0,416.1 131.2,416.1 130.4,416.1 129.6,416.1 128.8,416.1 128.0,416.0 127.2,416.0 126.4,416.0 125.6,416.0 124.8,416.0 124.0,416.0 123.2,416.0 122.4,416.0 121.6,415.9 120.8,415.9 120.0,415.9 119.2,415.9 118.4,415.9 117.6,415.9 116.8,415.9 116.0,415.9 115.2,415.9 114.4,415.9 113.6,415.9 112.8,415.8 112.0,415.8 111.2,415.8 110.4,415.8 109.6,415.8 108.8,415.8 108.0,415.8 107.2,415.8 106.4,415.8 105.6,415.8 104.8,415.8 104.0,415.8 103.2,415.7 102.4,415.7 101.6,415.7 100.8,415.7 100.0,415.7 99.2,415.7 98.4,415.7 97.6,415.7 96.8,415.7 96.0,415.7 95.2,415.7 94.4,415.7 93.6,415.7 92.8,415.7 92.0,415.6 91.2,415.6 90.4,415.6 89.6,415.6 88.8,415.6 88.0,415.6 87.2,415.6 86.4,415.6 85.6,415.6 84.8,415.6 84.0,415.6 83.2,415.6 82.4,415.6 81.6,415.6 80.8,415.6 80.0,415.5 79.2,415.5 78.4,415.5 77.6,415.5 76.8,415.5 76.0,415.5 75.2,415.5 74.4,415.5 73.6,415.5 72.8,415.5 72.0,415.5 71.2,415.5 70.4,415.5 69.6,415.5 68.8,415.5 68.0,415.5 67.2,415.4 66.4,415.4 65.6,415.4 64.8,415.4 64.0,415.4 63.2,415.4 62.4,415.4 61.6,415.4 60.8,415.4 60.0,415.4 59.2,415.4 58.4,415.4 57.6,415.4 56.8,415.4 56.0,415.4 55.2,415.3 54.4,415.3 53.6,415.3 52.8,415.3 52.0,415.3 51.2,415.3 50.4,415.3 49.6,415.3 48.8,415.3 48.0,415.3 47.2,415.3 46.4,415.3 45.6,415.3 44.8,415.3 44.0,415.3 43.2,415.3 42.4,415.2 41.6,415.2 40.8,415.2 40.0,415.2 39.2,415.2 38.4,415.2 37.6,415.2 36.8,415.2" fill="#3f77a9" fill-opacity="0.8" stroke="none"/>
<polygon points="95.2,415.6 96.0,415.6 96.8,415.5 97.6,415.5 98.4,415.5 99.2,415.5 100.0,415.5 100.8,415.5 101.6,415.5 102.4,415.4 103.2,415.4 104.0,415.4 104.8,415.3 105.6,415.3 106.4,415.3 107.2,415.2 108.0,415.2 108.8,415.1 109.6,415.0 110.4,415.0 111.2,414.9 112.0,414.8 112.8,414.7 113.6,414.6 114.4,414.5 115.2,414.4 116.0,414.3 116.8,414.2 117.6,414.1 118.4,414.0 119.2,413.9 120.0,413.8 120.8,413.8 121.6,413.7 122.4,413.6 123.2,413.5 124.0,413.4 124.8,413.4 125.6,413.3 126.4,413.3 127.2,413.3 128.0,413.3 128.8,413.3 129.6,413.3 130.4,413.3 131.2,413.3 132.0,413.4 132.8,413.5 133.6,413.6 134.4,413.7 135.2,413.8 136.0,413.9 136.8,414.0 137.6,414.1 138.4,414.2 139.2,414.4 140.0,414.5 140.8,414.6 141.6,414.8 142.4,414.9 143.2,415.0 144.0,415.2 144.8,415.3 145.6,415.4 146.4,415.5 147.2,415.7 148.0,415.8 148.8,415.9 149.6,416.0 150.4,416.1 151.2,416.2 152.0,416.3 152.8,416.4 153.6,416.5 154.4,416.6 155.2,416.6 156.0,416.7 156.8,416.8 157.6,416.9 158.4,417.0 159.2,417.0 160.0,417.1 160.8,417.2 161.6,417.2 162.4,417.3 162.4,417.4 161.6,417.4 160.8,417.3 160.0,417.3 159.2,417.2 158.4,417.2 157.6,417.1 156.8,417.1 156.0,417.0 155.2,417.0 154.4,416.9 153.6,416.9 152.8,416.8 152.0,416.8 151.2,416.7 150.4,416.7 149.6,416.7 148.8,416.6 148.0,416.6 147.2,416.6 146.4,416.5 145.6,416.5 144.8,416.5 144.0,416.4 143.2,416.4 142.4,416.4 141.6,416.4 140.8,416.3 140.0,416.3 139.2,416.3 138.4,416.3 137.6,416.2 136.8,416.2 136.0,416.2 135.2,416.2 134.4,416.2 133.6,416.1 132.8,416.1 132.0,416.1 131.2,416.1 130.4,416.1 129.6,416.1 128.8,416.1 128.0,416.0 127.2,416.0 126.4,416.0 125.6,416.0 124.8,416.0 124.0,416.0 123.2,416.0 122.4,416.0 121.6,415.9 120.8,415.9 120.0,415.9 119.2,415.9 118.4,415.9 117.6,415.9 116.8,415.9 116.0,415.9 115.2,415.9 114.4,415.9 113.6,415.9 112.8,415.8 112.0,415.8 111.2,415.8 110.4,415.8 109.6,415.8 108.8,415.8 108.0,415.8 107.2,415.8 106.4,415.8 105.6,415.8 104.8,415.8 104.0,415.8 103.2,415.7 102.4,415.7 101.6,415.7 100.8,415.7 100.0,415.7 99.2,415.7 98.4,415.7 97.6,415.7 96.8,415.7 96.0,415.7 95.2,415.7" fill="#ffd12b" fill-opacity="0.8" stroke="none"/>
<polygon points="159.2,417.1 160.0,417.1 160.8,417.2 161.6,417.2 162.4,417.3 163.2,417.3 164.0,417.3 164.8,417.3 165.6,417.4 166.4,417.4 167.2,417.4 168.0,417.4 168.8,417.3 169.6,417.3 170.4,417.2 171.2,417.2 172.0,417.1 172.8,417.0 173.6,416.9 174.4,416.7 175.2,416.6 176.0,416.4 176.8,416.2 177.6,416.0 178.4,415.8 179.2,415.6 180.0,415.4 180.8,415.2 181.6,415.0 182.4,414.8 183.2,414.7 184.0,414.6 184.8,414.5 185.6,414.4 186.4,414.4 187.2,414.4 188.0,414.5 188.8,414.6 189.6,414.8 190.4,415.0 191.2,415.2 192.0,415.4 192.8,415.7 193.6,416.0 194.4,416.3 195.2,416.6 196.0,416.9 196.8,417.2 197.6,417.4 198.4,417.7 199.2,417.9 200.0,418.2 200.8,418.4 201.6,418.6 202.4,418.7 203.2,418.9 204.0,419.0 204.8,419.2 205.6,419.3 206.4,419.4 207.2,419.5 208.0,419.5 208.8,419.6 209.6,419.6 210.4,419.7 211.2,419.7 212.0,419.8 212.8,419.8 213.6,419.8 214.4,419.9 215.2,419.9 215.2,420.0 214.4,420.0 213.6,420.0 212.8,420.0 212.0,420.0 211.2,419.9 210.4,419.9 209.6,419.9 208.8,419.9 208.0,419.9 207.2,419.9 206.4,419.9 205.6,419.8 204.8,419.8 204.0,419.8 203.2,419.8 202.4,419.8 201.6,419.8 200.8,419.7 200.0,419.7 199.2,419.7 198.4,419.7 197.6,419.6 196.8,419.6 196.0,419.6 195.2,419.6 194.4,419.5 193.6,419.5 192.8,419.5 192.0,419.4 191.2,419.4 190.4,419.4 189.6,419.3 188.8,419.3 188.0,419.3 187.2,419.2 186.4,419.2 185.6,419.1 184.8,419.1 184.0,419.0 183.2,419.0 182.4,418.9 181.6,418.9 180.8,418.8 180.0,418.8 179.2,418.7 178.4,418.7 177.6,418.6 176.8,418.6 176.0,418.5 175.2,418.4 174.4,418.4 173.6,418.3 172.8,418.3 172.0,418.2 171.2,418.1 170.4,418.1 169.6,418.0 168.8,417.9 168.0,417.9 167.2,417.8 166.4,417.8 165.6,417.7 164.8,417.6 164.0,417.6 163.2,417.5 162.4,417.4 161.6,417.4 160.8,417.3 160.0,417.3 159.2,417.2" fill="#705eb4" fill-opacity="0.8" stroke="none"/>
<polyline points="55.2,415.2 56.0,415.2 56.8,415.2 57.6,415.2 58.4,415.2 59.2,415.3 60.0,415.3 60.8,415.3 61.6,415.3 62.4,415.3 63.2,415.3 64.0,415.3 64.8,415.3 65.6,415.3 66.4,415.3 67.2,415.3 68.0,415.3 68.8,415.3 69.6,415.3 70.4,415.3 71.2,415.3 72.0,415.3 72.8,415.3 73.6,415.3 74.4,415.3 75.2,415.3 76.0,415.3 76.8,415.3 77.6,415.3 78.4,415.3 79.2,415.4 80.0,415.4 80.8,415.4 81.6,415.4 82.4,415.4 83.2,415.4 84.0,415.4 84.8,415.4 85.6,415.4 86.4,415.4 87.2,415.4 88.0,415.4 88.8,415.4 89.6,415.4 90.4,415.4 91.2,415.4 92.0,415.4 92.8,415.4 93.6,415.4 94.4,415.4 95.2,415.4 96.0,415.4 96.8,415.4 97.6,415.4 98.4,415.4 99.2,415.4 100.0,415.4 100.8,415.4 101.6,415.4 102.4,415.4 103.2,415.4 104.0,415.4 104.8,415.4 105.6,415.4 106.4,415.4 107.2,415.4 108.0,415.4 108.8,415.4 109.6,415.4 110.4,415.4 111.2,415.4 112.0,415.4 112.8,415.4 113.6,415.4 114.4,415.4 115.2,415.3 116.0,415.3 116.8,415.3 117.6,415.3 118.4,415.3 119.2,415.3 120.0,415.3 120.8,415.3 121.6,415.3 122.4,415.3 123.2,415.3 124.0,415.3 124.8,415.2 125.6,415.2 126.4,415.2 127.2,415.2 128.0,415.2 128.8,415.2 129.6,415.1 130.4,415.1 131.2,415.1 132.0,415.1 132.8,415.0 133.6,415.0 134.4,415.0 135.2,414.9 136.0,414.9 136.8,414.9 137.6,414.8 138.4,414.8 139.2,414.7 140.0,414.7 140.8,414.6 141.6,414.5 142.4,414.4 143.2,414.3 144.0,414.2 144.8,414.1 145.6,413.9 146.4,413.7 147.2,413.5 148.0,413.2 148.8,412.8 149.6,412.3 150.4,411.8 151.2,411.1 152.0,410.2 152.8,409.1 153.6,407.8 154.4,406.3 155.2,404.5 156.0,402.3 156.8,399.8 157.6,396.9 158.4,393.7 159.2,390.1 160.0,386.1 160.8,381.8 161.6,377.1 162.4,372.3 163.2,367.3 164.0,362.3 164.8,357.3 165.6,352.6 166.4,348.2 167.2,344.4 168.0,341.3 168.8,339.1 169.6,337.8 170.4,337.6 171.2,338.5 172.0,340.4 172.8,343.2 173.6,346.8 174.4,351.0 175.2,355.7 176.0,360.7 176.8,365.8 177.6,371.0 178.4,376.0 179.2,380.9 180.0,385.4 180.8,389.7 181.6,393.6 182.4,397.2 183.2,400.3 184.0,403.1 184.8,405.5 185.6,407.6 186.4,409.4 187.2,410.9 188.0,412.1 188.8,413.2 189.6,414.0 190.4,414.8 191.2,415.3 192.0,415.8 192.8,416.2 193.6,416.6 194.4,416.9 195.2,417.1 196.0,417.3 196.8,417.5 197.6,417.6 198.4,417.8 199.2,417.9 200.0,418.0 200.8,418.1 201.6,418.2 202.4,418.3 203.2,418.4 204.0,418.5 204.8,418.6 205.6,418.6 206.4,418.7 207.2,418.8 208.0,418.8 208.8,418.9 209.6,418.9 210.4,419.0 211.2,419.0 212.0,419.1 212.8,419.1 213.6,419.2 214.4,419.2 215.2,419.2 216.0,419.3 216.8,419.3 217.6,419.3 218.4,419.4 219.2,419.4 220.0,419.4 220.8,419.5 221.6,419.5 222.4,419.5 223.2,419.5 224.0,419.6 224.8,419.6 225.6,419.6 226.4,419.6 227.2,419.7 228.0,419.7 228.8,419.7 229.6,419.7 230.4,419.7 231.2,419.8 232.0,419.8 232.8,419.8 233.6,419.8 234.4,419.8 235.2,419.9 236.0,419.9 236.8,419.9 237.6,419.9 238.4,419.9 239.2,419.9 240.0,419.9 240.8,420.0 241.6,420.0 242.4,420.0 243.2,420.0 244.0,420.0 244.8,420.0 245.6,420.0 246.4,420.1 247.2,420.1 248.0,420.1 248.8,420.1 249.6,420.1 250.4,420.1 251.2,420.1 252.0,420.1 252.8,420.1 253.6,420.2 254.4,420.2 255.2,420.2 256.0,420.2 256.8,420.2 257.6,420.2 258.4,420.2 259.2,420.2 260.0,420.2 260.8,420.3 261.6,420.3 262.4,420.3 263.2,420.3 264.0,420.3 264.8,420.3 265.6,420.3 266.4,420.3 267.2,420.3" fill="none" stroke="#e8202a" stroke-width="1.4"/>
<polyline points="36.8,414.9 37.6,414.9 38.4,414.9 39.2,414.9 40.0,414.9 40.8,414.9 41.6,414.9 42.4,414.9 43.2,414.9 44.0,414.9 44.8,414.9 45.6,414.9 46.4,414.9 47.2,414.9 48.0,414.9 48.8,414.9 49.6,414.8 50.4,414.8 51.2,414.8 52.0,414.8 52.8,414.8 53.6,414.8 54.4,414.8 55.2,414.8 56.0,414.8 56.8,414.8 57.6,414.8 58.4,414.8 59.2,414.7 60.0,414.7 60.8,414.7 61.6,414.7 62.4,414.7 63.2,414.7 64.0,414.6 64.8,414.6 65.6,414.6 66.4,414.6 67.2,414.6 68.0,414.5 68.8,414.5 69.6,414.5 70.4,414.4 71.2,414.4 72.0,414.4 72.8,414.3 73.6,414.3 74.4,414.2 75.2,414.2 76.0,414.1 76.8,414.1 77.6,414.0 78.4,414.0 79.2,413.9 80.0,413.8 80.8,413.7 81.6,413.6 82.4,413.5 83.2,413.4 84.0,413.3 84.8,413.2 85.6,413.0 86.4,412.8 87.2,412.7 88.0,412.4 88.8,412.2 89.6,411.9 90.4,411.5 91.2,411.1 92.0,410.6 92.8,410.0 93.6,409.2 94.4,408.4 95.2,407.4 96.0,406.2 96.8,404.8 97.6,403.3 98.4,401.5 99.2,399.4 100.0,397.2 100.8,394.7 101.6,391.9 102.4,389.0 103.2,385.9 104.0,382.7 104.8,379.5 105.6,376.3 106.4,373.2 107.2,370.5 108.0,368.2 108.8,366.5 109.6,365.5 110.4,365.3 111.2,366.0 112.0,367.3 112.8,369.3 113.6,371.9 114.4,374.8 115.2,377.9 116.0,381.2 116.8,384.4 117.6,387.6 118.4,390.7 119.2,393.5 120.0,396.1 120.8,398.6 121.6,400.7 122.4,402.7 123.2,404.4 124.0,405.8 124.8,407.1 125.6,408.2 126.4,409.2 127.2,410.0 128.0,410.7 128.8,411.2 129.6,411.7 130.4,412.1 131.2,412.5 132.0,412.8 132.8,413.1 133.6,413.3 134.4,413.5 135.2,413.7 136.0,413.9 136.8,414.0 137.6,414.2 138.4,414.3 139.2,414.4 140.0,414.5 140.8,414.6 141.6,414.7 142.4,414.8 143.2,414.9 144.0,415.0 144.8,415.1 145.6,415.2 146.4,415.3 147.2,415.4 148.0,415.5 148.8,415.5 149.6,415.6 150.4,415.7 151.2,415.8 152.0,415.8 152.8,415.9 153.6,416.0 154.4,416.1 155.2,416.2 156.0,416.2 156.8,416.3 157.6,416.4 158.4,416.5 159.2,416.5 160.0,416.6 160.8,416.7 161.6,416.8 162.4,416.8 163.2,416.9 164.0,417.0 164.8,417.1 165.6,417.1 166.4,417.2 167.2,417.3 168.0,417.4 168.8,417.5 169.6,417.5 170.4,417.6 171.2,417.7 172.0,417.8 172.8,417.8 173.6,417.9 174.4,418.0 175.2,418.1 176.0,418.1 176.8,418.2 177.6,418.3 178.4,418.3 179.2,418.4 180.0,418.4 180.8,418.5 181.6,418.6 182.4,418.6 183.2,418.7 184.0,418.7 184.8,418.8 185.6,418.8 186.4,418.9 187.2,418.9 188.0,419.0 188.8,419.0 189.6,419.1 190.4,419.1 191.2,419.2 192.0,419.2 192.8,419.2 193.6,419.3 194.4,419.3 195.2,419.3 196.0,419.4 196.8,419.4 197.6,419.4 198.4,419.4 199.2,419.5 200.0,419.5 200.8,419.5 201.6,419.5 202.4,419.6 203.2,419.6 204.0,419.6 204.8,419.6 205.6,419.7 206.4,419.7 207.2,419.7 208.0,419.7 208.8,419.7 209.6,419.7 210.4,419.8 211.2,419.8 212.0,419.8 212.8,419.8 213.6,419.8 214.4,419.8 215.2,419.9 216.0,419.9 216.8,419.9 217.6,419.9 218.4,419.9 219.2,419.9 220.0,419.9 220.8,419.9 221.6,420.0 222.4,420.0 223.2,420.0 224.0,420.0 224.8,420.0 225.6,420.0 226.4,420.0 227.2,420.0 228.0,420.0 228.8,420.0" fill="none" stroke="#1a6aa8" stroke-width="1.4"/>
<polyline points="95.2,415.6 96.0,415.6 96.8,415.5 97.6,415.5 98.4,415.5 99.2,415.5 100.0,415.5 100.8,415.5 101.6,415.5 102.4,415.4 103.2,415.4 104.0,415.4 104.8,415.3 105.6,415.3 106.4,415.3 107.2,415.2 108.0,415.2 108.8,415.1 109.6,415.0 110.4,415.0 111.2,414.9 112.0,414.8 112.8,414.7 113.6,414.6 114.4,414.5 115.2,414.4 116.0,414.3 116.8,414.2 117.6,414.1 118.4,414.0 119.2,413.9 120.0,413.8 120.8,413.8 121.6,413.7 122.4,413.6 123.2,413.5 124.0,413.4 124.8,413.4 125.6,413.3 126.4,413.3 127.2,413.3 128.0,413.3 128.8,413.3 129.6,413.3 130.4,413.3 131.2,413.3 132.0,413.4 132.8,413.5 133.6,413.6 134.4,413.7 135.2,413.8 136.0,413.9 136.8,414.0 137.6,414.1 138.4,414.2 139.2,414.4 140.0,414.5 140.8,414.6 141.6,414.8 142.4,414.9 143.2,415.0 144.0,415.2 144.8,415.3 145.6,415.4 146.4,415.5 147.2,415.7 148.0,415.8 148.8,415.9 149.6,416.0 150.4,416.1 151.2,416.2 152.0,416.3 152.8,416.4 153.6,416.5 154.4,416.6 155.2,416.6 156.0,416.7 156.8,416.8 157.6,416.9 158.4,417.0 159.2,417.0 160.0,417.1 160.8,417.2 161.6,417.2 162.4,417.3" fill="none" stroke="#f2b705" stroke-width="1.4"/>
<polyline points="159.2,417.1 160.0,417.1 160.8,417.2 161.6,417.2 162.4,417.3 163.2,417.3 164.0,417.3 164.8,417.3 165.6,417.4 166.4,417.4 167.2,417.4 168.0,417.4 168.8,417.3 169.6,417.3 170.4,417.2 171.2,417.2 172.0,417.1 172.8,417.0 173.6,416.9 174.4,416.7 175.2,416.6 176.0,416.4 176.8,416.2 177.6,416.0 178.4,415.8 179.2,415.6 180.0,415.4 180.8,415.2 181.6,415.0 182.4,414.8 183.2,414.7 184.0,414.6 184.8,414.5 185.6,414.4 186.4,414.4 187.2,414.4 188.0,414.5 188.8,414.6 189.6,414.8 190.4,415.0 191.2,415.2 192.0,415.4 192.8,415.7 193.6,416.0 194.4,416.3 195.2,416.6 196.0,416.9 196.8,417.2 197.6,417.4 198.4,417.7 199.2,417.9 200.0,418.2 200.8,418.4 201.6,418.6 202.4,418.7 203.2,418.9 204.0,419.0 204.8,419.2 205.6,419.3 206.4,419.4 207.2,419.5 208.0,419.5 208.8,419.6 209.6,419.6 210.4,419.7 211.2,419.7 212.0,419.8 212.8,419.8 213.6,419.8 214.4,419.9 215.2,419.9" fill="none" stroke="#6a5fa8" stroke-width="1.4"/>
<polyline points="36.8,415.6 37.6,415.6 38.4,415.6 39.2,415.6 40.0,415.6 40.8,415.6 41.6,415.6 42.4,415.6 43.2,415.7 44.0,415.7 44.8,415.7 45.6,415.7 46.4,415.7 47.2,415.7 48.0,415.7 48.8,415.7 49.6,415.7 50.4,415.7 51.2,415.7 52.0,415.7 52.8,415.7 53.6,415.7 54.4,415.7 55.2,415.7 56.0,415.8 56.8,415.8 57.6,415.8 58.4,415.8 59.2,415.8 60.0,415.8 60.8,415.8 61.6,415.8 62.4,415.8 63.2,415.8 64.0,415.8 64.8,415.8 65.6,415.8 66.4,415.8 67.2,415.8 68.0,415.9 68.8,415.9 69.6,415.9 70.4,415.9 71.2,415.9 72.0,415.9 72.8,415.9 73.6,415.9 74.4,415.9 75.2,415.9 76.0,415.9 76.8,415.9 77.6,415.9 78.4,415.9 79.2,415.9 80.0,415.9 80.8,416.0 81.6,416.0 82.4,416.0 83.2,416.0 84.0,416.0 84.8,416.0" fill="none" stroke="#1fb36f" stroke-width="1.0"/>
<polyline points="85.6,416.0 86.4,416.0 87.2,416.0 88.0,416.0 88.8,416.0 89.6,416.0 90.4,416.0 91.2,416.0 92.0,416.0 92.8,416.1 93.6,416.1 94.4,416.1 95.2,416.1 96.0,416.1 96.8,416.1 97.6,416.1 98.4,416.1 99.2,416.1 100.0,416.1 100.8,416.1 101.6,416.1 102.4,416.1 103.2,416.1 104.0,416.2 104.8,416.2 105.6,416.2 106.4,416.2 107.2,416.2 108.0,416.2 108.8,416.2 109.6,416.2 110.4,416.2 111.2,416.2 112.0,416.2 112.8,416.2 113.6,416.3 114.4,416.3 115.2,416.3 116.0,416.3 116.8,416.3 117.6,416.3 118.4,416.3 119.2,416.3 120.0,416.3 120.8,416.3 121.6,416.3 122.4,416.4 123.2,416.4 124.0,416.4 124.8,416.4 125.6,416.4 126.4,416.4 127.2,416.4 128.0,416.4 128.8,416.5 129.6,416.5 130.4,416.5 131.2,416.5 132.0,416.5 132.8,416.5 133.6,416.5 134.4,416.6 135.2,416.6 136.0,416.6 136.8,416.6 137.6,416.6 138.4,416.7 139.2,416.7 140.0,416.7 140.8,416.7 141.6,416.8 142.4,416.8 143.2,416.8 144.0,416.8 144.8,416.9 145.6,416.9 146.4,416.9 147.2,417.0 148.0,417.0 148.8,417.0 149.6,417.1" fill="none" stroke="#f2b705" stroke-width="1.0"/>
<polyline points="150.4,417.1 151.2,417.1 152.0,417.2 152.8,417.2 153.6,417.3 154.4,417.3 155.2,417.4 156.0,417.4 156.8,417.5 157.6,417.5 158.4,417.6 159.2,417.6 160.0,417.7 160.8,417.7 161.6,417.8 162.4,417.8 163.2,417.9 164.0,418.0 164.8,418.0 165.6,418.1 166.4,418.2 167.2,418.2 168.0,418.3 168.8,418.3 169.6,418.4 170.4,418.5 171.2,418.5 172.0,418.6 172.8,418.7 173.6,418.7 174.4,418.8 175.2,418.8 176.0,418.9 176.8,419.0 177.6,419.0 178.4,419.1 179.2,419.1 180.0,419.2 180.8,419.2 181.6,419.3 182.4,419.3 183.2,419.4 184.0,419.4 184.8,419.5 185.6,419.5 186.4,419.6 187.2,419.6 188.0,419.7 188.8,419.7 189.6,419.7 190.4,419.8 191.2,419.8 192.0,419.8 192.8,419.9 193.6,419.9 194.4,419.9 195.2,420.0 196.0,420.0 196.8,420.0 197.6,420.0 198.4,420.1 199.2,420.1 200.0,420.1 200.8,420.1 201.6,420.2 202.4,420.2 203.2,420.2 204.0,420.2 204.8,420.2" fill="none" stroke="#19a7b5" stroke-width="1.0"/>
<polyline points="205.6,420.2 206.4,420.3 207.2,420.3 208.0,420.3 208.8,420.3 209.6,420.3 210.4,420.3 211.2,420.3 212.0,420.4 212.8,420.4 213.6,420.4 214.4,420.4 215.2,420.4 216.0,420.4 216.8,420.4 217.6,420.4 218.4,420.4 219.2,420.5 220.0,420.5 220.8,420.5 221.6,420.5 222.4,420.5 223.2,420.5 224.0,420.5 224.8,420.5 225.6,420.5 226.4,420.5 227.2,420.5 228.0,420.6 228.8,420.6 229.6,420.6 230.4,420.6 231.2,420.6 232.0,420.6 232.8,420.6 233.6,420.6 234.4,420.6 235.2,420.6 236.0,420.6 236.8,420.6 237.6,420.6 238.4,420.7 239.2,420.7 240.0,420.7 240.8,420.7 241.6,420.7 242.4,420.7 243.2,420.7 244.0,420.7 244.8,420.7 245.6,420.7 246.4,420.7 247.2,420.7 248.0,420.7 248.8,420.7 249.6,420.8 250.4,420.8 251.2,420.8 252.0,420.8 252.8,420.8 253.6,420.8 254.4,420.8 255.2,420.8 256.0,420.8 256.8,420.8 257.6,420.8 258.4,420.8 259.2,420.8 260.0,420.8 260.8,420.8 261.6,420.9 262.4,420.9 263.2,420.9 264.0,420.9 264.8,420.9 265.6,420.9 266.4,420.9 267.2,420.9" fill="none" stroke="#19a7b5" stroke-width="1.0"/>
<polyline points="36.8,414.8 37.6,414.8 38.4,414.8 39.2,414.8 40.0,414.8 40.8,414.8 41.6,414.8 42.4,414.8 43.2,414.9 44.0,414.9 44.8,414.9 45.6,414.9 46.4,414.9 47.2,414.9 48.0,414.9 48.8,414.9 49.6,414.9 50.4,414.9 51.2,414.9 52.0,414.9 52.8,414.9 53.6,414.9 54.4,414.9 55.2,414.9 56.0,415.0 56.8,415.0 57.6,415.0 58.4,415.0 59.2,415.0 60.0,415.0 60.8,415.0 61.6,415.0 62.4,415.0 63.2,415.0 64.0,415.0 64.8,415.0 65.6,415.0 66.4,415.0 67.2,415.0 68.0,415.1 68.8,415.1 69.6,415.1 70.4,415.1 71.2,415.1 72.0,415.1 72.8,415.1 73.6,415.1 74.4,415.1 75.2,415.1 76.0,415.1 76.8,415.1 77.6,415.1 78.4,415.1 79.2,415.1 80.0,415.1 80.8,415.2 81.6,415.2 82.4,415.2 83.2,415.2 84.0,415.2 84.8,415.2 85.6,415.2 86.4,415.2 87.2,415.2 88.0,415.2" fill="none" stroke="#1f6fb5" stroke-width="1.0"/>
<polyline points="215.2,419.6 216.0,419.6 216.8,419.6 217.6,419.6 218.4,419.6 219.2,419.7 220.0,419.7 220.8,419.7 221.6,419.7 222.4,419.7 223.2,419.7 224.0,419.7 224.8,419.7 225.6,419.7 226.4,419.7 227.2,419.7 228.0,419.8 228.8,419.8 229.6,419.8 230.4,419.8 231.2,419.8 232.0,419.8 232.8,419.8 233.6,419.8 234.4,419.8 235.2,419.8 236.0,419.8 236.8,419.8 237.6,419.8 238.4,419.9 239.2,419.9 240.0,419.9 240.8,419.9 241.6,419.9 242.4,419.9 243.2,419.9 244.0,419.9 244.8,419.9 245.6,419.9 246.4,419.9 247.2,419.9 248.0,419.9 248.8,419.9 249.6,420.0 250.4,420.0 251.2,420.0 252.0,420.0 252.8,420.0 253.6,420.0 254.4,420.0 255.2,420.0 256.0,420.0 256.8,420.0 257.6,420.0 258.4,420.0 259.2,420.0 260.0,420.0 260.8,420.0 261.6,420.1 262.4,420.1 263.2,420.1 264.0,420.1 264.8,420.1 265.6,420.1 266.4,420.1 267.2,420.1" fill="none" stroke="#1f6fb5" stroke-width="1.0"/>
<rect x="36.8" y="241.8" width="230.7" height="185.2" fill="none" stroke="#000" stroke-width="1.45"/>
<path d="M36.8 427.0v3.5M75.2 427.0v3.5M113.6 427.0v3.5M152.1 427.0v3.5M190.5 427.0v3.5M228.9 427.0v3.5M267.3 427.0v3.5M56.0 427.0v2.0M94.4 427.0v2.0M132.9 427.0v2.0M171.3 427.0v2.0M209.7 427.0v2.0M248.1 427.0v2.0" stroke="#000" stroke-width="1.25" fill="none"/>
<text transform="translate(36.8 442.0) scale(1 1.08)" font-size="11.1" fill="#000" stroke="#000" text-anchor="middle" >240</text>
<text transform="translate(75.2 442.0) scale(1 1.08)" font-size="11.1" fill="#000" stroke="#000" text-anchor="middle" >238</text>
<text transform="translate(113.6 442.0) scale(1 1.08)" font-size="11.1" fill="#000" stroke="#000" text-anchor="middle" >236</text>
<text transform="translate(152.1 442.0) scale(1 1.08)" font-size="11.1" fill="#000" stroke="#000" text-anchor="middle" >234</text>
<text transform="translate(190.5 442.0) scale(1 1.08)" font-size="11.1" fill="#000" stroke="#000" text-anchor="middle" >232</text>
<text transform="translate(228.9 442.0) scale(1 1.08)" font-size="11.1" fill="#000" stroke="#000" text-anchor="middle" >230</text>
<text transform="translate(267.3 442.0) scale(1 1.08)" font-size="11.1" fill="#000" stroke="#000" text-anchor="middle" >228</text>
<text transform="translate(24.8 334.4) rotate(-90) scale(1.155 1)" font-size="11.6" stroke="#000" text-anchor="middle">Intensity (a.u.)</text>
<text transform="translate(152.4 455.7) scale(1 1.08)" font-size="13.35" fill="#000" stroke="#000" text-anchor="middle" >Binding energy (ev)</text>
<text transform="translate(3.5 243.8) scale(1 1.08)" font-size="24" fill="#000" stroke="#000" text-anchor="start" >(c)</text>
<text transform="translate(223.9 265.1) scale(1 1.08)" font-size="11.3" fill="#000" stroke="#000" text-anchor="start" >Mo 3d</text>
<text transform="translate(45.7 265.8) scale(1 1.08)" font-size="11.2" fill="#000" stroke="#000" text-anchor="start" >MoO<tspan dy="3.0" font-size="8.3">3</tspan><tspan dy="-3.0" font-size="0.1">&#8203;</tspan></text>
<text transform="translate(45.7 355.4) scale(1 1.08)" font-size="11.2" fill="#000" stroke="#000" text-anchor="start" >MoO<tspan dy="3.0" font-size="8.3">3</tspan><tspan dy="-3.0" font-size="0.1">&#8203;</tspan>/rGO</text>
<text transform="translate(71.0 282.0) scale(1 1.08)" font-size="9.5" fill="#1f6fb5" stroke="#1f6fb5" text-anchor="start" >Mo<tspan dy="-4.3" font-size="6.0">6+</tspan></text>
<text transform="translate(67.0 290.5) scale(1 1.08)" font-size="7.65" fill="#1f6fb5" stroke="#1f6fb5" text-anchor="start" >236.2 eV</text>
<text transform="translate(125.9 299.7) scale(1 1.08)" font-size="9.5" fill="#f2b705" stroke="#f2b705" text-anchor="start" >Mo<tspan dy="-4.3" font-size="6.0">5+</tspan></text>
<text transform="translate(123.5 307.9) scale(1 1.08)" font-size="7.65" fill="#f2b705" stroke="#f2b705" text-anchor="start" >235.2 eV</text>
<text transform="translate(182.6 268.9) scale(1 1.08)" font-size="9.5" fill="#e8202a" stroke="#e8202a" text-anchor="start" >Mo<tspan dy="-4.3" font-size="6.0">6+</tspan></text>
<text transform="translate(181.5 284.4) scale(1 1.08)" font-size="7.65" fill="#e8202a" stroke="#e8202a" text-anchor="start" >233.1 eV</text>
<text transform="translate(207.5 312.2) scale(1 1.08)" font-size="9.5" fill="#6a5fa8" stroke="#6a5fa8" text-anchor="start" >Mo<tspan dy="-4.3" font-size="6.0">5+</tspan></text>
<text transform="translate(204.5 320.5) scale(1 1.08)" font-size="7.65" fill="#6a5fa8" stroke="#6a5fa8" text-anchor="start" >232.1 eV</text>
<text transform="translate(74.3 378.9) scale(1 1.08)" font-size="9.5" fill="#1f6fb5" stroke="#1f6fb5" text-anchor="start" >Mo<tspan dy="-4.3" font-size="6.0">6+</tspan></text>
<text transform="translate(68.7 386.5) scale(1 1.08)" font-size="7.65" fill="#1f6fb5" stroke="#1f6fb5" text-anchor="start" >236.2 eV</text>
<text transform="translate(126.5 387.3) scale(1 1.08)" font-size="9.5" fill="#f2b705" stroke="#f2b705" text-anchor="start" >Mo<tspan dy="-4.3" font-size="6.0">5+</tspan></text>
<text transform="translate(122.6 397.0) scale(1 1.08)" font-size="7.65" fill="#f2b705" stroke="#f2b705" text-anchor="start" >235.2 eV</text>
<text transform="translate(189.7 353.5) scale(1 1.08)" font-size="9.5" fill="#e8202a" stroke="#e8202a" text-anchor="start" >Mo<tspan dy="-4.3" font-size="6.0">6+</tspan></text>
<text transform="translate(185.4 363.8) scale(1 1.08)" font-size="7.65" fill="#e8202a" stroke="#e8202a" text-anchor="start" >233.1 eV</text>
<text transform="translate(208.6 401.5) scale(1 1.08)" font-size="9.5" fill="#6a5fa8" stroke="#6a5fa8" text-anchor="start" >Mo<tspan dy="-4.3" font-size="6.0">5+</tspan></text>
<text transform="translate(204.8 409.9) scale(1 1.08)" font-size="7.65" fill="#6a5fa8" stroke="#6a5fa8" text-anchor="start" >232.1 eV</text>
<path d="M305.5 326.3H536.8" stroke="#222" stroke-width="0.8"/>
<polygon points="305.5,323.6 306.3,323.6 307.1,323.6 307.9,323.6 308.7,323.6 309.5,323.6 310.3,323.6 311.1,323.6 311.9,323.6 312.7,323.6 313.5,323.6 314.3,323.6 315.1,323.6 315.9,323.6 316.7,323.6 317.5,323.6 318.3,323.6 319.1,323.6 319.9,323.6 320.7,323.6 321.5,323.6 322.3,323.6 323.1,323.6 323.9,323.6 324.7,323.6 325.5,323.6 326.3,323.6 327.1,323.6 327.9,323.6 328.7,323.6 329.5,323.6 330.3,323.6 331.1,323.6 331.9,323.6 332.7,323.6 333.5,323.6 334.3,323.6 335.1,323.6 335.9,323.6 336.7,323.6 337.5,323.6 338.3,323.6 339.1,323.6 339.9,323.6 340.7,323.6 341.5,323.6 342.3,323.6 343.1,323.6 343.9,323.6 344.7,323.6 345.5,323.6 346.3,323.6 347.1,323.6 347.9,323.6 348.7,323.5 349.5,323.5 350.3,323.5 351.1,323.5 351.9,323.5 352.7,323.5 353.5,323.5 354.3,323.4 355.1,323.4 355.9,323.4 356.7,323.4 357.5,323.4 358.3,323.3 359.1,323.3 359.9,323.3 360.7,323.2 361.5,323.2 362.3,323.2 363.1,323.1 363.9,323.1 364.7,323.0 365.5,323.0 366.3,322.9 367.1,322.9 367.9,322.8 368.7,322.7 369.5,322.7 370.3,322.6 371.1,322.5 371.9,322.5 372.7,322.4 373.5,322.3 374.3,322.2 375.1,322.2 375.9,322.1 376.7,322.0 377.5,321.9 378.3,321.8 379.1,321.8 379.9,321.7 380.7,321.6 381.5,321.5 382.3,321.4 383.1,321.3 383.9,321.3 384.7,321.2 385.5,321.1 386.3,321.0 387.1,320.9 387.9,320.8 388.7,320.7 389.5,320.5 390.3,320.4 391.1,320.3 391.9,320.1 392.7,319.9 393.5,319.7 394.3,319.5 395.1,319.3 395.9,319.1 396.7,318.8 397.5,318.5 398.3,318.2 399.1,317.8 399.9,317.4 400.7,317.0 401.5,316.6 402.3,316.1 403.1,315.6 403.9,315.0 404.7,314.4 405.5,313.7 406.3,313.1 407.1,312.3 407.9,311.5 408.7,310.7 409.5,309.8 410.3,308.8 411.1,307.7 411.9,306.6 412.7,305.4 413.5,304.1 414.3,302.7 415.1,301.2 415.9,299.6 416.7,297.9 417.5,296.0 418.3,294.0 419.1,291.9 419.9,289.7 420.7,287.3 421.5,284.8 422.3,282.2 423.1,279.5 423.9,276.7 424.7,273.9 425.5,271.0 426.3,268.2 427.1,265.4 427.9,262.7 428.7,260.2 429.5,257.8 430.3,255.6 431.1,253.6 431.9,252.0 432.7,250.7 433.5,249.7 434.3,249.2 435.1,249.0 435.9,249.3 436.7,250.0 437.5,251.0 438.3,252.5 439.1,254.2 439.9,256.3 440.7,258.6 441.5,261.1 442.3,263.9 443.1,266.8 443.9,269.8 444.7,272.9 445.5,276.0 446.3,279.2 447.1,282.3 447.9,285.4 448.7,288.5 449.5,291.4 450.3,294.2 451.1,296.9 451.9,299.5 452.7,302.0 453.5,304.2 454.3,306.4 455.1,308.3 455.9,310.2 456.7,311.8 457.5,313.4 458.3,314.7 459.1,316.0 459.9,317.1 460.7,318.1 461.5,319.0 462.3,319.8 463.1,320.5 463.9,321.2 464.7,321.7 465.5,322.2 466.3,322.6 467.1,323.0 467.9,323.3 468.7,323.6 469.5,323.8 470.3,324.0 471.1,324.2 471.9,324.4 472.7,324.5 473.5,324.7 474.3,324.8 475.1,324.9 475.9,325.0 476.7,325.1 477.5,325.1 478.3,325.2 479.1,325.3 479.9,325.3 480.7,325.4 481.5,325.4 482.3,325.5 483.1,325.5 483.9,325.6 484.7,325.6 485.5,325.7 486.3,325.7 487.1,325.7 487.9,325.8 488.7,325.8 489.5,325.8 490.3,325.9 491.1,325.9 491.9,325.9 492.7,325.9 493.5,326.0 494.3,326.0 495.1,326.0 495.9,326.0 496.7,326.1 497.5,326.1 498.3,326.1 499.1,326.1 499.9,326.1 500.7,326.2 501.5,326.2 502.3,326.2 503.1,326.2 503.9,326.2 504.7,326.3 505.5,326.3 506.3,326.3 507.1,326.3 507.9,326.3 508.7,326.3 509.5,326.4 510.3,326.4 511.1,326.4 511.9,326.4 512.7,326.4 513.5,326.4 514.3,326.4 515.1,326.5 515.9,326.5 516.7,326.5 517.5,326.5 518.3,326.5 519.1,326.5 519.9,326.5 520.7,326.5 521.5,326.5 522.3,326.6 523.1,326.6 523.9,326.6 524.7,326.6 525.5,326.6 526.3,326.6 527.1,326.6 527.9,326.6 528.7,326.6 529.5,326.6 530.3,326.7 531.1,326.7 531.9,326.7 532.7,326.7 533.5,326.7 534.3,326.7 535.1,326.7 535.9,326.7 536.7,326.7 536.7,327.3 535.9,327.3 535.1,327.3 534.3,327.3 533.5,327.3 532.7,327.3 531.9,327.3 531.1,327.3 530.3,327.3 529.5,327.3 528.7,327.3 527.9,327.3 527.1,327.3 526.3,327.2 525.5,327.2 524.7,327.2 523.9,327.2 523.1,327.2 522.3,327.2 521.5,327.2 520.7,327.2 519.9,327.2 519.1,327.2 518.3,327.2 517.5,327.2 516.7,327.2 515.9,327.2 515.1,327.2 514.3,327.2 513.5,327.2 512.7,327.2 511.9,327.2 511.1,327.2 510.3,327.2 509.5,327.2 508.7,327.2 507.9,327.1 507.1,327.1 506.3,327.1 505.5,327.1 504.7,327.1 503.9,327.1 503.1,327.1 502.3,327.1 501.5,327.1 500.7,327.1 499.9,327.1 499.1,327.1 498.3,327.1 497.5,327.1 496.7,327.1 495.9,327.1 495.1,327.1 494.3,327.1 493.5,327.1 492.7,327.1 491.9,327.0 491.1,327.0 490.3,327.0 489.5,327.0 488.7,327.0 487.9,327.0 487.1,327.0 486.3,327.0 485.5,327.0 484.7,327.0 483.9,327.0 483.1,327.0 482.3,327.0 481.5,327.0 480.7,327.0 479.9,326.9 479.1,326.9 478.3,326.9 477.5,326.9 476.7,326.9 475.9,326.9 475.1,326.9 474.3,326.9 473.5,326.9 472.7,326.9 471.9,326.8 471.1,326.8 470.3,326.8 469.5,326.8 468.7,326.8 467.9,326.8 467.1,326.8 466.3,326.8 465.5,326.7 464.7,326.7 463.9,326.7 463.1,326.7 462.3,326.7 461.5,326.7 460.7,326.6 459.9,326.6 459.1,326.6 458.3,326.6 457.5,326.6 456.7,326.5 455.9,326.5 455.1,326.5 454.3,326.5 453.5,326.5 452.7,326.4 451.9,326.4 451.1,326.4 450.3,326.4 449.5,326.3 448.7,326.3 447.9,326.3 447.1,326.2 446.3,326.2 445.5,326.2 444.7,326.2 443.9,326.1 443.1,326.1 442.3,326.1 441.5,326.0 440.7,326.0 439.9,326.0 439.1,325.9 438.3,325.9 437.5,325.9 436.7,325.8 435.9,325.8 435.1,325.8 434.3,325.7 433.5,325.7 432.7,325.7 431.9,325.6 431.1,325.6 430.3,325.6 429.5,325.5 428.7,325.5 427.9,325.5 427.1,325.4 426.3,325.4 425.5,325.4 424.7,325.4 423.9,325.3 423.1,325.3 422.3,325.3 421.5,325.2 420.7,325.2 419.9,325.2 419.1,325.2 418.3,325.1 417.5,325.1 416.7,325.1 415.9,325.1 415.1,325.0 414.3,325.0 413.5,325.0 412.7,325.0 411.9,324.9 411.1,324.9 410.3,324.9 409.5,324.9 408.7,324.9 407.9,324.9 407.1,324.8 406.3,324.8 405.5,324.8 404.7,324.8 403.9,324.8 403.1,324.8 402.3,324.8 401.5,324.7 400.7,324.7 399.9,324.7 399.1,324.7 398.3,324.7 397.5,324.7 396.7,324.7 395.9,324.7 395.1,324.6 394.3,324.6 393.5,324.6 392.7,324.6 391.9,324.6 391.1,324.6 390.3,324.6 389.5,324.6 388.7,324.6 387.9,324.6 387.1,324.6 386.3,324.6 385.5,324.5 384.7,324.5 383.9,324.5 383.1,324.5 382.3,324.5 381.5,324.5 380.7,324.5 379.9,324.5 379.1,324.5 378.3,324.5 377.5,324.5 376.7,324.5 375.9,324.5 375.1,324.5 374.3,324.5 373.5,324.5 372.7,324.4 371.9,324.4 371.1,324.4 370.3,324.4 369.5,324.4 368.7,324.4 367.9,324.4 367.1,324.4 366.3,324.4 365.5,324.4 364.7,324.4 363.9,324.4 363.1,324.4 362.3,324.4 361.5,324.4 360.7,324.4 359.9,324.4 359.1,324.4 358.3,324.4 357.5,324.4 356.7,324.4 355.9,324.4 355.1,324.3 354.3,324.3 353.5,324.3 352.7,324.3 351.9,324.3 351.1,324.3 350.3,324.3 349.5,324.3 348.7,324.3 347.9,324.3 347.1,324.3 346.3,324.3 345.5,324.3 344.7,324.3 343.9,324.3 343.1,324.3 342.3,324.3 341.5,324.3 340.7,324.3 339.9,324.3 339.1,324.3 338.3,324.3 337.5,324.3 336.7,324.3 335.9,324.2 335.1,324.2 334.3,324.2 333.5,324.2 332.7,324.2 331.9,324.2 331.1,324.2 330.3,324.2 329.5,324.2 328.7,324.2 327.9,324.2 327.1,324.2 326.3,324.2 325.5,324.2 324.7,324.2 323.9,324.2 323.1,324.2 322.3,324.2 321.5,324.2 320.7,324.2 319.9,324.2 319.1,324.2 318.3,324.2 317.5,324.2 316.7,324.2 315.9,324.2 315.1,324.1 314.3,324.1 313.5,324.1 312.7,324.1 311.9,324.1 311.1,324.1 310.3,324.1 309.5,324.1 308.7,324.1 307.9,324.1 307.1,324.1 306.3,324.1 305.5,324.1" fill="#c4c4c4" stroke="none"/>
<polyline class="mk2" points="305.5,323.8 306.5,323.7 307.5,323.7 308.5,323.7 309.5,323.7 310.5,323.6 311.5,323.5 312.5,323.6 313.5,323.5 314.5,324.1 315.5,323.7 316.5,323.6 317.5,323.6 318.5,323.6 319.5,323.6 320.5,323.7 321.5,323.6 322.5,323.8 323.5,323.5 324.5,323.7 325.5,323.8 326.5,323.4 327.5,323.7 328.5,323.7 329.5,323.6 330.5,323.5 331.5,323.3 332.5,323.9 333.5,323.4 334.5,323.4 335.5,323.8 336.5,323.3 337.5,323.8 338.5,323.7 339.5,323.7 340.5,323.6 341.5,323.4 342.5,323.2 343.5,323.9 344.5,323.5 345.5,323.5 346.5,323.9 347.5,323.4 348.5,323.5 349.5,323.5 350.5,323.5 351.5,323.3 352.5,323.4 353.5,323.7 354.5,323.6 355.5,322.8 356.5,323.0 357.5,323.4 358.5,323.3 359.5,323.2 360.5,323.5 361.5,322.8 362.5,323.4 363.5,323.1 364.5,323.1 365.5,323.0 366.5,323.1 367.5,322.8 368.5,322.6 369.5,322.8 370.5,322.6 371.5,322.3 372.5,322.7 373.5,322.6 374.5,322.5 375.5,322.1 376.5,322.1 377.5,321.9 378.5,321.6 379.5,321.7 380.5,321.7 381.5,321.4 382.5,321.8 383.5,321.0 384.5,321.0 385.5,320.9 386.5,321.2 387.5,320.8 388.5,320.6 389.5,320.4 390.5,320.2 391.5,319.9 392.5,320.2 393.5,319.9 394.5,319.7 395.5,319.1 396.5,319.4 397.5,318.3 398.5,317.7 399.5,317.6 400.5,317.1 401.5,316.7 402.5,315.7 403.5,315.4 404.5,314.9 405.5,313.6 406.5,312.7 407.5,311.6 408.5,310.9 409.5,309.9 410.5,308.7 411.5,307.4 412.5,306.0 413.5,304.2 414.5,302.5 415.5,300.2 416.5,298.2 417.5,296.1 418.5,293.3 419.5,290.9 420.5,288.1 421.5,284.9 422.5,281.3 423.5,277.9 424.5,274.9 425.5,270.9 426.5,267.5 427.5,264.0 428.5,260.8 429.5,258.0 430.5,255.0 431.5,252.5 432.5,251.3 433.5,249.8 434.5,249.3 435.5,249.2 436.5,250.0 437.5,251.3 438.5,253.2 439.5,255.2 440.5,257.9 441.5,261.2 442.5,264.6 443.5,268.4 444.5,272.0 445.5,275.6 446.5,280.1 447.5,284.0 448.5,287.8 449.5,291.7 450.5,295.1 451.5,298.2 452.5,301.5 453.5,304.2 454.5,307.1 455.5,309.3 456.5,311.5 457.5,313.4 458.5,315.1 459.5,316.3 460.5,317.9 461.5,318.6 462.5,320.1 463.5,321.0 464.5,322.0 465.5,322.3 466.5,322.5 467.5,322.8 468.5,323.9 469.5,323.5 470.5,324.3 471.5,323.8 472.5,324.5 473.5,324.8 474.5,324.9 475.5,324.9 476.5,324.9 477.5,324.9 478.5,325.4 479.5,325.4 480.5,325.3 481.5,325.5 482.5,325.3 483.5,325.8 484.5,325.9 485.5,325.5 486.5,325.7 487.5,326.0 488.5,325.7 489.5,326.2 490.5,326.2 491.5,325.8 492.5,326.1 493.5,326.3 494.5,325.7 495.5,326.2 496.5,326.0 497.5,326.0 498.5,326.3 499.5,326.0 500.5,325.9 501.5,325.9 502.5,326.2 503.5,326.4 504.5,326.3 505.5,326.2 506.5,326.3 507.5,326.6 508.5,326.4 509.5,326.2 510.5,326.3 511.5,326.6 512.5,326.3 513.5,326.3 514.5,326.4 515.5,326.2 516.5,326.7 517.5,326.0 518.5,326.8 519.5,326.4 520.5,326.3 521.5,326.6 522.5,326.2 523.5,326.7 524.5,326.7 525.5,326.5 526.5,326.5 527.5,326.8 528.5,326.5 529.5,326.6 530.5,326.7 531.5,327.0 532.5,326.6 533.5,326.7 534.5,326.9 535.5,326.2 536.5,326.7"/>
<polygon points="305.5,324.0 306.3,324.0 307.1,324.0 307.9,324.0 308.7,324.0 309.5,324.0 310.3,324.0 311.1,324.0 311.9,324.0 312.7,324.0 313.5,324.0 314.3,324.0 315.1,324.0 315.9,324.0 316.7,324.0 317.5,324.0 318.3,324.0 319.1,324.0 319.9,324.0 320.7,324.0 321.5,324.0 322.3,324.0 323.1,324.0 323.9,324.0 324.7,324.0 325.5,324.0 326.3,324.0 327.1,324.0 327.9,324.0 328.7,324.0 329.5,324.0 330.3,324.0 331.1,324.0 331.9,324.0 332.7,324.0 333.5,324.0 334.3,324.0 335.1,324.0 335.9,324.0 336.7,324.0 337.5,324.0 338.3,324.0 339.1,324.0 339.9,324.0 340.7,324.0 341.5,324.0 342.3,324.0 343.1,324.0 343.9,324.0 344.7,324.0 345.5,324.0 346.3,324.0 347.1,324.0 347.9,324.0 348.7,324.0 349.5,324.0 350.3,324.0 351.1,324.0 351.9,324.0 352.7,324.0 353.5,324.0 354.3,324.0 355.1,324.0 355.9,324.0 356.7,324.0 357.5,324.0 358.3,324.0 359.1,324.0 359.9,324.0 360.7,324.0 361.5,324.0 362.3,323.9 363.1,323.9 363.9,323.9 364.7,323.9 365.5,323.9 366.3,323.9 367.1,323.9 367.9,323.9 368.7,323.9 369.5,323.9 370.3,323.9 371.1,323.9 371.9,323.9 372.7,323.9 373.5,323.8 374.3,323.8 375.1,323.8 375.9,323.8 376.7,323.8 377.5,323.8 378.3,323.8 379.1,323.8 379.9,323.8 380.7,323.7 381.5,323.7 382.3,323.7 383.1,323.7 383.9,323.7 384.7,323.7 385.5,323.6 386.3,323.6 387.1,323.6 387.9,323.6 388.7,323.5 389.5,323.5 390.3,323.5 391.1,323.4 391.9,323.4 392.7,323.4 393.5,323.3 394.3,323.3 395.1,323.2 395.9,323.2 396.7,323.1 397.5,323.0 398.3,322.9 399.1,322.8 399.9,322.7 400.7,322.6 401.5,322.4 402.3,322.2 403.1,322.0 403.9,321.8 404.7,321.5 405.5,321.1 406.3,320.8 407.1,320.3 407.9,319.8 408.7,319.2 409.5,318.5 410.3,317.7 411.1,316.8 411.9,315.8 412.7,314.6 413.5,313.3 414.3,311.9 415.1,310.4 415.9,308.6 416.7,306.8 417.5,304.7 418.3,302.5 419.1,300.1 419.9,297.6 420.7,295.0 421.5,292.2 422.3,289.3 423.1,286.3 423.9,283.2 424.7,280.1 425.5,276.9 426.3,273.8 427.1,270.8 427.9,267.8 428.7,265.0 429.5,262.3 430.3,259.9 431.1,257.8 431.9,255.9 432.7,254.4 433.5,253.3 434.3,252.6 435.1,252.3 435.9,252.4 436.7,252.9 437.5,253.9 438.3,255.2 439.1,256.8 439.9,258.7 440.7,260.9 441.5,263.4 442.3,266.0 443.1,268.8 443.9,271.8 444.7,274.8 445.5,277.8 446.3,280.9 447.1,283.9 447.9,287.0 448.7,289.9 449.5,292.8 450.3,295.5 451.1,298.2 451.9,300.7 452.7,303.1 453.5,305.3 454.3,307.4 455.1,309.3 455.9,311.1 456.7,312.7 457.5,314.2 458.3,315.5 459.1,316.7 459.9,317.8 460.7,318.8 461.5,319.7 462.3,320.4 463.1,321.1 463.9,321.7 464.7,322.2 465.5,322.7 466.3,323.1 467.1,323.5 467.9,323.8 468.7,324.0 469.5,324.3 470.3,324.5 471.1,324.7 471.9,324.8 472.7,325.0 473.5,325.1 474.3,325.2 475.1,325.3 475.9,325.4 476.7,325.5 477.5,325.5 478.3,325.6 479.1,325.7 479.9,325.7 480.7,325.8 481.5,325.8 482.3,325.9 483.1,325.9 483.9,326.0 484.7,326.0 485.5,326.0 486.3,326.1 487.1,326.1 487.9,326.1 488.7,326.2 489.5,326.2 490.3,326.2 491.1,326.3 491.9,326.3 492.7,326.3 493.5,326.3 494.3,326.4 495.1,326.4 495.9,326.4 496.7,326.4 497.5,326.4 498.3,326.5 499.1,326.5 499.9,326.5 500.7,326.5 501.5,326.5 502.3,326.6 503.1,326.6 503.9,326.6 504.7,326.6 505.5,326.6 506.3,326.6 507.1,326.7 507.9,326.7 508.7,326.7 509.5,326.7 510.3,326.7 511.1,326.7 511.9,326.7 512.7,326.8 513.5,326.8 514.3,326.8 515.1,326.8 515.9,326.8 516.7,326.8 517.5,326.8 518.3,326.8 519.1,326.8 519.9,326.9 520.7,326.9 521.5,326.9 522.3,326.9 523.1,326.9 523.9,326.9 524.7,326.9 525.5,326.9 526.3,326.9 527.1,326.9 527.9,327.0 528.7,327.0 529.5,327.0 530.3,327.0 531.1,327.0 531.9,327.0 532.7,327.0 533.5,327.0 534.3,327.0 535.1,327.0 535.9,327.0 536.7,327.0 536.7,327.3 535.9,327.3 535.1,327.3 534.3,327.3 533.5,327.3 532.7,327.3 531.9,327.3 531.1,327.3 530.3,327.3 529.5,327.3 528.7,327.3 527.9,327.3 527.1,327.3 526.3,327.2 525.5,327.2 524.7,327.2 523.9,327.2 523.1,327.2 522.3,327.2 521.5,327.2 520.7,327.2 519.9,327.2 519.1,327.2 518.3,327.2 517.5,327.2 516.7,327.2 515.9,327.2 515.1,327.2 514.3,327.2 513.5,327.2 512.7,327.2 511.9,327.2 511.1,327.2 510.3,327.2 509.5,327.2 508.7,327.2 507.9,327.1 507.1,327.1 506.3,327.1 505.5,327.1 504.7,327.1 503.9,327.1 503.1,327.1 502.3,327.1 501.5,327.1 500.7,327.1 499.9,327.1 499.1,327.1 498.3,327.1 497.5,327.1 496.7,327.1 495.9,327.1 495.1,327.1 494.3,327.1 493.5,327.1 492.7,327.1 491.9,327.0 491.1,327.0 490.3,327.0 489.5,327.0 488.7,327.0 487.9,327.0 487.1,327.0 486.3,327.0 485.5,327.0 484.7,327.0 483.9,327.0 483.1,327.0 482.3,327.0 481.5,327.0 480.7,327.0 479.9,326.9 479.1,326.9 478.3,326.9 477.5,326.9 476.7,326.9 475.9,326.9 475.1,326.9 474.3,326.9 473.5,326.9 472.7,326.9 471.9,326.8 471.1,326.8 470.3,326.8 469.5,326.8 468.7,326.8 467.9,326.8 467.1,326.8 466.3,326.8 465.5,326.7 464.7,326.7 463.9,326.7 463.1,326.7 462.3,326.7 461.5,326.7 460.7,326.6 459.9,326.6 459.1,326.6 458.3,326.6 457.5,326.6 456.7,326.5 455.9,326.5 455.1,326.5 454.3,326.5 453.5,326.5 452.7,326.4 451.9,326.4 451.1,326.4 450.3,326.4 449.5,326.3 448.7,326.3 447.9,326.3 447.1,326.2 446.3,326.2 445.5,326.2 444.7,326.2 443.9,326.1 443.1,326.1 442.3,326.1 441.5,326.0 440.7,326.0 439.9,326.0 439.1,325.9 438.3,325.9 437.5,325.9 436.7,325.8 435.9,325.8 435.1,325.8 434.3,325.7 433.5,325.7 432.7,325.7 431.9,325.6 431.1,325.6 430.3,325.6 429.5,325.5 428.7,325.5 427.9,325.5 427.1,325.4 426.3,325.4 425.5,325.4 424.7,325.4 423.9,325.3 423.1,325.3 422.3,325.3 421.5,325.2 420.7,325.2 419.9,325.2 419.1,325.2 418.3,325.1 417.5,325.1 416.7,325.1 415.9,325.1 415.1,325.0 414.3,325.0 413.5,325.0 412.7,325.0 411.9,324.9 411.1,324.9 410.3,324.9 409.5,324.9 408.7,324.9 407.9,324.9 407.1,324.8 406.3,324.8 405.5,324.8 404.7,324.8 403.9,324.8 403.1,324.8 402.3,324.8 401.5,324.7 400.7,324.7 399.9,324.7 399.1,324.7 398.3,324.7 397.5,324.7 396.7,324.7 395.9,324.7 395.1,324.6 394.3,324.6 393.5,324.6 392.7,324.6 391.9,324.6 391.1,324.6 390.3,324.6 389.5,324.6 388.7,324.6 387.9,324.6 387.1,324.6 386.3,324.6 385.5,324.5 384.7,324.5 383.9,324.5 383.1,324.5 382.3,324.5 381.5,324.5 380.7,324.5 379.9,324.5 379.1,324.5 378.3,324.5 377.5,324.5 376.7,324.5 375.9,324.5 375.1,324.5 374.3,324.5 373.5,324.5 372.7,324.4 371.9,324.4 371.1,324.4 370.3,324.4 369.5,324.4 368.7,324.4 367.9,324.4 367.1,324.4 366.3,324.4 365.5,324.4 364.7,324.4 363.9,324.4 363.1,324.4 362.3,324.4 361.5,324.4 360.7,324.4 359.9,324.4 359.1,324.4 358.3,324.4 357.5,324.4 356.7,324.4 355.9,324.4 355.1,324.3 354.3,324.3 353.5,324.3 352.7,324.3 351.9,324.3 351.1,324.3 350.3,324.3 349.5,324.3 348.7,324.3 347.9,324.3 347.1,324.3 346.3,324.3 345.5,324.3 344.7,324.3 343.9,324.3 343.1,324.3 342.3,324.3 341.5,324.3 340.7,324.3 339.9,324.3 339.1,324.3 338.3,324.3 337.5,324.3 336.7,324.3 335.9,324.2 335.1,324.2 334.3,324.2 333.5,324.2 332.7,324.2 331.9,324.2 331.1,324.2 330.3,324.2 329.5,324.2 328.7,324.2 327.9,324.2 327.1,324.2 326.3,324.2 325.5,324.2 324.7,324.2 323.9,324.2 323.1,324.2 322.3,324.2 321.5,324.2 320.7,324.2 319.9,324.2 319.1,324.2 318.3,324.2 317.5,324.2 316.7,324.2 315.9,324.2 315.1,324.1 314.3,324.1 313.5,324.1 312.7,324.1 311.9,324.1 311.1,324.1 310.3,324.1 309.5,324.1 308.7,324.1 307.9,324.1 307.1,324.1 306.3,324.1 305.5,324.1" fill="#e6555a" fill-opacity="0.8" stroke="none"/>
<polygon points="377.5,324.4 378.3,324.4 379.1,324.4 379.9,324.4 380.7,324.3 381.5,324.3 382.3,324.3 383.1,324.3 383.9,324.3 384.7,324.3 385.5,324.3 386.3,324.2 387.1,324.2 387.9,324.2 388.7,324.1 389.5,324.1 390.3,324.0 391.1,323.9 391.9,323.9 392.7,323.8 393.5,323.7 394.3,323.5 395.1,323.4 395.9,323.3 396.7,323.1 397.5,323.0 398.3,322.8 399.1,322.6 399.9,322.4 400.7,322.2 401.5,321.9 402.3,321.7 403.1,321.5 403.9,321.2 404.7,321.0 405.5,320.8 406.3,320.5 407.1,320.3 407.9,320.1 408.7,319.9 409.5,319.8 410.3,319.7 411.1,319.6 411.9,319.5 412.7,319.5 413.5,319.5 414.3,319.5 415.1,319.6 415.9,319.7 416.7,319.9 417.5,320.1 418.3,320.3 419.1,320.5 419.9,320.8 420.7,321.0 421.5,321.3 422.3,321.6 423.1,321.9 423.9,322.1 424.7,322.4 425.5,322.7 426.3,323.0 427.1,323.2 427.9,323.5 428.7,323.7 429.5,323.9 430.3,324.1 431.1,324.3 431.9,324.5 432.7,324.6 433.5,324.8 434.3,324.9 435.1,325.1 435.9,325.2 436.7,325.3 437.5,325.4 438.3,325.5 439.1,325.6 439.9,325.6 440.7,325.7 441.5,325.8 442.3,325.8 443.1,325.9 443.9,325.9 444.7,326.0 445.5,326.0 446.3,326.1 447.1,326.1 447.9,326.1 448.7,326.2 448.7,326.3 447.9,326.3 447.1,326.2 446.3,326.2 445.5,326.2 444.7,326.2 443.9,326.1 443.1,326.1 442.3,326.1 441.5,326.0 440.7,326.0 439.9,326.0 439.1,325.9 438.3,325.9 437.5,325.9 436.7,325.8 435.9,325.8 435.1,325.8 434.3,325.7 433.5,325.7 432.7,325.7 431.9,325.6 431.1,325.6 430.3,325.6 429.5,325.5 428.7,325.5 427.9,325.5 427.1,325.4 426.3,325.4 425.5,325.4 424.7,325.4 423.9,325.3 423.1,325.3 422.3,325.3 421.5,325.2 420.7,325.2 419.9,325.2 419.1,325.2 418.3,325.1 417.5,325.1 416.7,325.1 415.9,325.1 415.1,325.0 414.3,325.0 413.5,325.0 412.7,325.0 411.9,324.9 411.1,324.9 410.3,324.9 409.5,324.9 408.7,324.9 407.9,324.9 407.1,324.8 406.3,324.8 405.5,324.8 404.7,324.8 403.9,324.8 403.1,324.8 402.3,324.8 401.5,324.7 400.7,324.7 399.9,324.7 399.1,324.7 398.3,324.7 397.5,324.7 396.7,324.7 395.9,324.7 395.1,324.6 394.3,324.6 393.5,324.6 392.7,324.6 391.9,324.6 391.1,324.6 390.3,324.6 389.5,324.6 388.7,324.6 387.9,324.6 387.1,324.6 386.3,324.6 385.5,324.5 384.7,324.5 383.9,324.5 383.1,324.5 382.3,324.5 381.5,324.5 380.7,324.5 379.9,324.5 379.1,324.5 378.3,324.5 377.5,324.5" fill="#4572b4" fill-opacity="0.8" stroke="none"/>
<polygon points="353.5,324.2 354.3,324.2 355.1,324.2 355.9,324.2 356.7,324.2 357.5,324.2 358.3,324.1 359.1,324.1 359.9,324.1 360.7,324.1 361.5,324.1 362.3,324.0 363.1,324.0 363.9,324.0 364.7,323.9 365.5,323.9 366.3,323.9 367.1,323.8 367.9,323.8 368.7,323.7 369.5,323.7 370.3,323.6 371.1,323.6 371.9,323.5 372.7,323.5 373.5,323.4 374.3,323.4 375.1,323.3 375.9,323.3 376.7,323.3 377.5,323.2 378.3,323.2 379.1,323.1 379.9,323.1 380.7,323.1 381.5,323.0 382.3,323.0 383.1,323.0 383.9,323.0 384.7,323.0 385.5,323.0 386.3,323.0 387.1,323.0 387.9,323.0 388.7,323.0 389.5,323.0 390.3,323.1 391.1,323.1 391.9,323.1 392.7,323.2 393.5,323.2 394.3,323.3 395.1,323.4 395.9,323.4 396.7,323.5 397.5,323.5 398.3,323.6 399.1,323.7 399.9,323.7 400.7,323.8 401.5,323.9 402.3,323.9 403.1,324.0 403.9,324.1 404.7,324.1 405.5,324.2 406.3,324.3 407.1,324.3 407.9,324.4 408.7,324.4 409.5,324.5 410.3,324.5 411.1,324.6 411.9,324.6 412.7,324.7 413.5,324.7 414.3,324.8 415.1,324.8 415.9,324.9 416.7,324.9 417.5,324.9 418.3,325.0 419.1,325.0 419.9,325.1 419.9,325.2 419.1,325.2 418.3,325.1 417.5,325.1 416.7,325.1 415.9,325.1 415.1,325.0 414.3,325.0 413.5,325.0 412.7,325.0 411.9,324.9 411.1,324.9 410.3,324.9 409.5,324.9 408.7,324.9 407.9,324.9 407.1,324.8 406.3,324.8 405.5,324.8 404.7,324.8 403.9,324.8 403.1,324.8 402.3,324.8 401.5,324.7 400.7,324.7 399.9,324.7 399.1,324.7 398.3,324.7 397.5,324.7 396.7,324.7 395.9,324.7 395.1,324.6 394.3,324.6 393.5,324.6 392.7,324.6 391.9,324.6 391.1,324.6 390.3,324.6 389.5,324.6 388.7,324.6 387.9,324.6 387.1,324.6 386.3,324.6 385.5,324.5 384.7,324.5 383.9,324.5 383.1,324.5 382.3,324.5 381.5,324.5 380.7,324.5 379.9,324.5 379.1,324.5 378.3,324.5 377.5,324.5 376.7,324.5 375.9,324.5 375.1,324.5 374.3,324.5 373.5,324.5 372.7,324.4 371.9,324.4 371.1,324.4 370.3,324.4 369.5,324.4 368.7,324.4 367.9,324.4 367.1,324.4 366.3,324.4 365.5,324.4 364.7,324.4 363.9,324.4 363.1,324.4 362.3,324.4 361.5,324.4 360.7,324.4 359.9,324.4 359.1,324.4 358.3,324.4 357.5,324.4 356.7,324.4 355.9,324.4 355.1,324.3 354.3,324.3 353.5,324.3" fill="#ffd12b" fill-opacity="0.8" stroke="none"/>
<polyline points="305.5,324.0 306.3,324.0 307.1,324.0 307.9,324.0 308.7,324.0 309.5,324.0 310.3,324.0 311.1,324.0 311.9,324.0 312.7,324.0 313.5,324.0 314.3,324.0 315.1,324.0 315.9,324.0 316.7,324.0 317.5,324.0 318.3,324.0 319.1,324.0 319.9,324.0 320.7,324.0 321.5,324.0 322.3,324.0 323.1,324.0 323.9,324.0 324.7,324.0 325.5,324.0 326.3,324.0 327.1,324.0 327.9,324.0 328.7,324.0 329.5,324.0 330.3,324.0 331.1,324.0 331.9,324.0 332.7,324.0 333.5,324.0 334.3,324.0 335.1,324.0 335.9,324.0 336.7,324.0 337.5,324.0 338.3,324.0 339.1,324.0 339.9,324.0 340.7,324.0 341.5,324.0 342.3,324.0 343.1,324.0 343.9,324.0 344.7,324.0 345.5,324.0 346.3,324.0 347.1,324.0 347.9,324.0 348.7,324.0 349.5,324.0 350.3,324.0 351.1,324.0 351.9,324.0 352.7,324.0 353.5,324.0 354.3,324.0 355.1,324.0 355.9,324.0 356.7,324.0 357.5,324.0 358.3,324.0 359.1,324.0 359.9,324.0 360.7,324.0 361.5,324.0 362.3,323.9 363.1,323.9 363.9,323.9 364.7,323.9 365.5,323.9 366.3,323.9 367.1,323.9 367.9,323.9 368.7,323.9 369.5,323.9 370.3,323.9 371.1,323.9 371.9,323.9 372.7,323.9 373.5,323.8 374.3,323.8 375.1,323.8 375.9,323.8 376.7,323.8 377.5,323.8 378.3,323.8 379.1,323.8 379.9,323.8 380.7,323.7 381.5,323.7 382.3,323.7 383.1,323.7 383.9,323.7 384.7,323.7 385.5,323.6 386.3,323.6 387.1,323.6 387.9,323.6 388.7,323.5 389.5,323.5 390.3,323.5 391.1,323.4 391.9,323.4 392.7,323.4 393.5,323.3 394.3,323.3 395.1,323.2 395.9,323.2 396.7,323.1 397.5,323.0 398.3,322.9 399.1,322.8 399.9,322.7 400.7,322.6 401.5,322.4 402.3,322.2 403.1,322.0 403.9,321.8 404.7,321.5 405.5,321.1 406.3,320.8 407.1,320.3 407.9,319.8 408.7,319.2 409.5,318.5 410.3,317.7 411.1,316.8 411.9,315.8 412.7,314.6 413.5,313.3 414.3,311.9 415.1,310.4 415.9,308.6 416.7,306.8 417.5,304.7 418.3,302.5 419.1,300.1 419.9,297.6 420.7,295.0 421.5,292.2 422.3,289.3 423.1,286.3 423.9,283.2 424.7,280.1 425.5,276.9 426.3,273.8 427.1,270.8 427.9,267.8 428.7,265.0 429.5,262.3 430.3,259.9 431.1,257.8 431.9,255.9 432.7,254.4 433.5,253.3 434.3,252.6 435.1,252.3 435.9,252.4 436.7,252.9 437.5,253.9 438.3,255.2 439.1,256.8 439.9,258.7 440.7,260.9 441.5,263.4 442.3,266.0 443.1,268.8 443.9,271.8 444.7,274.8 445.5,277.8 446.3,280.9 447.1,283.9 447.9,287.0 448.7,289.9 449.5,292.8 450.3,295.5 451.1,298.2 451.9,300.7 452.7,303.1 453.5,305.3 454.3,307.4 455.1,309.3 455.9,311.1 456.7,312.7 457.5,314.2 458.3,315.5 459.1,316.7 459.9,317.8 460.7,318.8 461.5,319.7 462.3,320.4 463.1,321.1 463.9,321.7 464.7,322.2 465.5,322.7 466.3,323.1 467.1,323.5 467.9,323.8 468.7,324.0 469.5,324.3 470.3,324.5 471.1,324.7 471.9,324.8 472.7,325.0 473.5,325.1 474.3,325.2 475.1,325.3 475.9,325.4 476.7,325.5 477.5,325.5 478.3,325.6 479.1,325.7 479.9,325.7 480.7,325.8 481.5,325.8 482.3,325.9 483.1,325.9 483.9,326.0 484.7,326.0 485.5,326.0 486.3,326.1 487.1,326.1 487.9,326.1 488.7,326.2 489.5,326.2 490.3,326.2 491.1,326.3 491.9,326.3 492.7,326.3 493.5,326.3 494.3,326.4 495.1,326.4 495.9,326.4 496.7,326.4 497.5,326.4 498.3,326.5 499.1,326.5 499.9,326.5 500.7,326.5 501.5,326.5 502.3,326.6 503.1,326.6 503.9,326.6 504.7,326.6 505.5,326.6 506.3,326.6 507.1,326.7 507.9,326.7 508.7,326.7 509.5,326.7 510.3,326.7 511.1,326.7 511.9,326.7 512.7,326.8 513.5,326.8 514.3,326.8 515.1,326.8 515.9,326.8 516.7,326.8 517.5,326.8 518.3,326.8 519.1,326.8 519.9,326.9 520.7,326.9 521.5,326.9 522.3,326.9 523.1,326.9 523.9,326.9 524.7,326.9 525.5,326.9 526.3,326.9 527.1,326.9 527.9,327.0 528.7,327.0 529.5,327.0 530.3,327.0 531.1,327.0 531.9,327.0 532.7,327.0 533.5,327.0 534.3,327.0 535.1,327.0 535.9,327.0 536.7,327.0" fill="none" stroke="#e8202a" stroke-width="1.4"/>
<polyline points="377.5,324.4 378.3,324.4 379.1,324.4 379.9,324.4 380.7,324.3 381.5,324.3 382.3,324.3 383.1,324.3 383.9,324.3 384.7,324.3 385.5,324.3 386.3,324.2 387.1,324.2 387.9,324.2 388.7,324.1 389.5,324.1 390.3,324.0 391.1,323.9 391.9,323.9 392.7,323.8 393.5,323.7 394.3,323.5 395.1,323.4 395.9,323.3 396.7,323.1 397.5,323.0 398.3,322.8 399.1,322.6 399.9,322.4 400.7,322.2 401.5,321.9 402.3,321.7 403.1,321.5 403.9,321.2 404.7,321.0 405.5,320.8 406.3,320.5 407.1,320.3 407.9,320.1 408.7,319.9 409.5,319.8 410.3,319.7 411.1,319.6 411.9,319.5 412.7,319.5 413.5,319.5 414.3,319.5 415.1,319.6 415.9,319.7 416.7,319.9 417.5,320.1 418.3,320.3 419.1,320.5 419.9,320.8 420.7,321.0 421.5,321.3 422.3,321.6 423.1,321.9 423.9,322.1 424.7,322.4 425.5,322.7 426.3,323.0 427.1,323.2 427.9,323.5 428.7,323.7 429.5,323.9 430.3,324.1 431.1,324.3 431.9,324.5 432.7,324.6 433.5,324.8 434.3,324.9 435.1,325.1 435.9,325.2 436.7,325.3 437.5,325.4 438.3,325.5 439.1,325.6 439.9,325.6 440.7,325.7 441.5,325.8 442.3,325.8 443.1,325.9 443.9,325.9 444.7,326.0 445.5,326.0 446.3,326.1 447.1,326.1 447.9,326.1 448.7,326.2" fill="none" stroke="#1f6fb5" stroke-width="1.4"/>
<polyline points="353.5,324.2 354.3,324.2 355.1,324.2 355.9,324.2 356.7,324.2 357.5,324.2 358.3,324.1 359.1,324.1 359.9,324.1 360.7,324.1 361.5,324.1 362.3,324.0 363.1,324.0 363.9,324.0 364.7,323.9 365.5,323.9 366.3,323.9 367.1,323.8 367.9,323.8 368.7,323.7 369.5,323.7 370.3,323.6 371.1,323.6 371.9,323.5 372.7,323.5 373.5,323.4 374.3,323.4 375.1,323.3 375.9,323.3 376.7,323.3 377.5,323.2 378.3,323.2 379.1,323.1 379.9,323.1 380.7,323.1 381.5,323.0 382.3,323.0 383.1,323.0 383.9,323.0 384.7,323.0 385.5,323.0 386.3,323.0 387.1,323.0 387.9,323.0 388.7,323.0 389.5,323.0 390.3,323.1 391.1,323.1 391.9,323.1 392.7,323.2 393.5,323.2 394.3,323.3 395.1,323.4 395.9,323.4 396.7,323.5 397.5,323.5 398.3,323.6 399.1,323.7 399.9,323.7 400.7,323.8 401.5,323.9 402.3,323.9 403.1,324.0 403.9,324.1 404.7,324.1 405.5,324.2 406.3,324.3 407.1,324.3 407.9,324.4 408.7,324.4 409.5,324.5 410.3,324.5 411.1,324.6 411.9,324.6 412.7,324.7 413.5,324.7 414.3,324.8 415.1,324.8 415.9,324.9 416.7,324.9 417.5,324.9 418.3,325.0 419.1,325.0 419.9,325.1" fill="none" stroke="#f2b705" stroke-width="1.4"/>
<polyline points="305.5,324.3 306.3,324.3 307.1,324.3 307.9,324.3 308.7,324.3 309.5,324.3 310.3,324.3 311.1,324.3 311.9,324.3 312.7,324.3 313.5,324.3 314.3,324.3 315.1,324.3 315.9,324.4 316.7,324.4 317.5,324.4 318.3,324.4 319.1,324.4 319.9,324.4 320.7,324.4 321.5,324.4 322.3,324.4 323.1,324.4 323.9,324.4 324.7,324.4 325.5,324.4 326.3,324.4 327.1,324.4 327.9,324.4 328.7,324.4 329.5,324.4 330.3,324.4 331.1,324.4 331.9,324.4 332.7,324.4 333.5,324.4 334.3,324.4 335.1,324.4 335.9,324.4 336.7,324.5 337.5,324.5 338.3,324.5 339.1,324.5 339.9,324.5 340.7,324.5 341.5,324.5 342.3,324.5 343.1,324.5 343.9,324.5 344.7,324.5 345.5,324.5 346.3,324.5 347.1,324.5 347.9,324.5 348.7,324.5 349.5,324.5 350.3,324.5 351.1,324.5 351.9,324.5 352.7,324.5 353.5,324.5 354.3,324.5" fill="none" stroke="#1fb36f" stroke-width="1.6"/>
<polyline points="355.1,324.5 355.9,324.6 356.7,324.6 357.5,324.6 358.3,324.6 359.1,324.6 359.9,324.6 360.7,324.6 361.5,324.6 362.3,324.6 363.1,324.6 363.9,324.6 364.7,324.6 365.5,324.6 366.3,324.6 367.1,324.6 367.9,324.6 368.7,324.6 369.5,324.6 370.3,324.6 371.1,324.6 371.9,324.6 372.7,324.6 373.5,324.7 374.3,324.7 375.1,324.7 375.9,324.7 376.7,324.7 377.5,324.7 378.3,324.7 379.1,324.7 379.9,324.7 380.7,324.7 381.5,324.7 382.3,324.7 383.1,324.7 383.9,324.7 384.7,324.7 385.5,324.7 386.3,324.8 387.1,324.8 387.9,324.8 388.7,324.8 389.5,324.8 390.3,324.8 391.1,324.8 391.9,324.8 392.7,324.8 393.5,324.8 394.3,324.8 395.1,324.8 395.9,324.9 396.7,324.9 397.5,324.9 398.3,324.9 399.1,324.9 399.9,324.9 400.7,324.9 401.5,324.9 402.3,325.0 403.1,325.0 403.9,325.0 404.7,325.0 405.5,325.0 406.3,325.0 407.1,325.0 407.9,325.1 408.7,325.1 409.5,325.1 410.3,325.1 411.1,325.1 411.9,325.1 412.7,325.2 413.5,325.2 414.3,325.2 415.1,325.2 415.9,325.3 416.7,325.3 417.5,325.3 418.3,325.3 419.1,325.4 419.9,325.4 420.7,325.4 421.5,325.4 422.3,325.5 423.1,325.5 423.9,325.5 424.7,325.6 425.5,325.6 426.3,325.6 427.1,325.6 427.9,325.7 428.7,325.7 429.5,325.7 430.3,325.8 431.1,325.8 431.9,325.8 432.7,325.9 433.5,325.9 434.3,325.9 435.1,326.0 435.9,326.0 436.7,326.0 437.5,326.1 438.3,326.1 439.1,326.1 439.9,326.2" fill="none" stroke="#f2b705" stroke-width="1.6"/>
<polyline points="440.7,326.2 441.5,326.2 442.3,326.3 443.1,326.3 443.9,326.3 444.7,326.4 445.5,326.4 446.3,326.4 447.1,326.4 447.9,326.5 448.7,326.5 449.5,326.5 450.3,326.6 451.1,326.6 451.9,326.6 452.7,326.6 453.5,326.7 454.3,326.7 455.1,326.7 455.9,326.7 456.7,326.7 457.5,326.8 458.3,326.8 459.1,326.8 459.9,326.8 460.7,326.8 461.5,326.9 462.3,326.9 463.1,326.9 463.9,326.9 464.7,326.9 465.5,326.9 466.3,327.0 467.1,327.0 467.9,327.0 468.7,327.0 469.5,327.0 470.3,327.0 471.1,327.0 471.9,327.0" fill="none" stroke="#1fb36f" stroke-width="1.6"/>
<polyline points="472.7,327.1 473.5,327.1 474.3,327.1 475.1,327.1 475.9,327.1 476.7,327.1 477.5,327.1 478.3,327.1 479.1,327.1 479.9,327.1 480.7,327.2 481.5,327.2 482.3,327.2 483.1,327.2 483.9,327.2 484.7,327.2 485.5,327.2 486.3,327.2 487.1,327.2 487.9,327.2 488.7,327.2 489.5,327.2 490.3,327.2 491.1,327.2 491.9,327.2 492.7,327.3 493.5,327.3 494.3,327.3 495.1,327.3 495.9,327.3 496.7,327.3 497.5,327.3 498.3,327.3 499.1,327.3 499.9,327.3 500.7,327.3 501.5,327.3 502.3,327.3 503.1,327.3 503.9,327.3 504.7,327.3 505.5,327.3 506.3,327.3 507.1,327.3 507.9,327.3 508.7,327.4 509.5,327.4 510.3,327.4 511.1,327.4 511.9,327.4 512.7,327.4 513.5,327.4 514.3,327.4 515.1,327.4 515.9,327.4 516.7,327.4 517.5,327.4 518.3,327.4 519.1,327.4 519.9,327.4 520.7,327.4 521.5,327.4 522.3,327.4 523.1,327.4 523.9,327.4 524.7,327.4 525.5,327.4 526.3,327.4 527.1,327.5 527.9,327.5 528.7,327.5 529.5,327.5 530.3,327.5 531.1,327.5 531.9,327.5 532.7,327.5 533.5,327.5 534.3,327.5 535.1,327.5 535.9,327.5 536.7,327.5" fill="none" stroke="#1fb36f" stroke-width="1.6"/>
<polyline points="472.7,326.4 473.5,326.4 474.3,326.4 475.1,326.4 475.9,326.4 476.7,326.4 477.5,326.4 478.3,326.4 479.1,326.4 479.9,326.4 480.7,326.5 481.5,326.5 482.3,326.5 483.1,326.5 483.9,326.5 484.7,326.5 485.5,326.5 486.3,326.5 487.1,326.5 487.9,326.5 488.7,326.5 489.5,326.5 490.3,326.5 491.1,326.5 491.9,326.5 492.7,326.6 493.5,326.6 494.3,326.6 495.1,326.6 495.9,326.6 496.7,326.6 497.5,326.6 498.3,326.6 499.1,326.6 499.9,326.6 500.7,326.6 501.5,326.6 502.3,326.6 503.1,326.6 503.9,326.6 504.7,326.6 505.5,326.6 506.3,326.6 507.1,326.6 507.9,326.6 508.7,326.7 509.5,326.7 510.3,326.7 511.1,326.7 511.9,326.7 512.7,326.7 513.5,326.7 514.3,326.7 515.1,326.7 515.9,326.7 516.7,326.7 517.5,326.7 518.3,326.7 519.1,326.7 519.9,326.7 520.7,326.7 521.5,326.7 522.3,326.7 523.1,326.7 523.9,326.7 524.7,326.7 525.5,326.7 526.3,326.7 527.1,326.8 527.9,326.8 528.7,326.8 529.5,326.8 530.3,326.8 531.1,326.8 531.9,326.8 532.7,326.8 533.5,326.8 534.3,326.8 535.1,326.8 535.9,326.8 536.7,326.8" fill="none" stroke="#e8202a" stroke-width="1.0"/>
<polygon points="305.5,414.4 306.3,414.4 307.1,414.5 307.9,414.5 308.7,414.5 309.5,414.5 310.3,414.5 311.1,414.5 311.9,414.5 312.7,414.5 313.5,414.5 314.3,414.5 315.1,414.5 315.9,414.5 316.7,414.5 317.5,414.5 318.3,414.5 319.1,414.5 319.9,414.5 320.7,414.5 321.5,414.5 322.3,414.5 323.1,414.5 323.9,414.5 324.7,414.5 325.5,414.5 326.3,414.5 327.1,414.5 327.9,414.5 328.7,414.5 329.5,414.5 330.3,414.5 331.1,414.5 331.9,414.5 332.7,414.5 333.5,414.5 334.3,414.5 335.1,414.5 335.9,414.5 336.7,414.5 337.5,414.5 338.3,414.5 339.1,414.5 339.9,414.4 340.7,414.4 341.5,414.4 342.3,414.4 343.1,414.4 343.9,414.4 344.7,414.4 345.5,414.4 346.3,414.4 347.1,414.4 347.9,414.3 348.7,414.3 349.5,414.3 350.3,414.3 351.1,414.3 351.9,414.3 352.7,414.2 353.5,414.2 354.3,414.2 355.1,414.1 355.9,414.1 356.7,414.1 357.5,414.0 358.3,414.0 359.1,413.9 359.9,413.9 360.7,413.8 361.5,413.8 362.3,413.7 363.1,413.7 363.9,413.6 364.7,413.5 365.5,413.5 366.3,413.4 367.1,413.3 367.9,413.2 368.7,413.1 369.5,413.1 370.3,413.0 371.1,412.9 371.9,412.8 372.7,412.7 373.5,412.6 374.3,412.5 375.1,412.4 375.9,412.3 376.7,412.2 377.5,412.1 378.3,412.0 379.1,411.9 379.9,411.8 380.7,411.7 381.5,411.6 382.3,411.5 383.1,411.4 383.9,411.3 384.7,411.1 385.5,411.0 386.3,410.9 387.1,410.7 387.9,410.5 388.7,410.4 389.5,410.2 390.3,409.9 391.1,409.7 391.9,409.4 392.7,409.2 393.5,408.8 394.3,408.5 395.1,408.1 395.9,407.7 396.7,407.2 397.5,406.7 398.3,406.2 399.1,405.6 399.9,405.0 400.7,404.3 401.5,403.6 402.3,402.9 403.1,402.1 403.9,401.2 404.7,400.4 405.5,399.5 406.3,398.5 407.1,397.5 407.9,396.5 408.7,395.4 409.5,394.4 410.3,393.2 411.1,392.0 411.9,390.8 412.7,389.5 413.5,388.2 414.3,386.8 415.1,385.4 415.9,383.8 416.7,382.2 417.5,380.5 418.3,378.7 419.1,376.7 419.9,374.7 420.7,372.6 421.5,370.4 422.3,368.1 423.1,365.7 423.9,363.3 424.7,360.9 425.5,358.4 426.3,356.0 427.1,353.6 427.9,351.2 428.7,349.0 429.5,347.0 430.3,345.1 431.1,343.4 431.9,341.9 432.7,340.8 433.5,339.9 434.3,339.3 435.1,339.1 435.9,339.3 436.7,339.7 437.5,340.5 438.3,341.7 439.1,343.1 439.9,344.8 440.7,346.8 441.5,349.1 442.3,351.5 443.1,354.2 443.9,357.0 444.7,359.9 445.5,362.9 446.3,365.9 447.1,369.0 447.9,372.1 448.7,375.2 449.5,378.2 450.3,381.1 451.1,384.0 451.9,386.7 452.7,389.4 453.5,391.9 454.3,394.2 455.1,396.5 455.9,398.5 456.7,400.4 457.5,402.2 458.3,403.9 459.1,405.3 459.9,406.7 460.7,407.9 461.5,409.0 462.3,410.0 463.1,410.9 463.9,411.7 464.7,412.4 465.5,413.0 466.3,413.5 467.1,414.0 467.9,414.4 468.7,414.7 469.5,415.0 470.3,415.3 471.1,415.5 471.9,415.7 472.7,415.9 473.5,416.1 474.3,416.2 475.1,416.3 475.9,416.4 476.7,416.5 477.5,416.6 478.3,416.6 479.1,416.7 479.9,416.7 480.7,416.8 481.5,416.8 482.3,416.9 483.1,416.9 483.9,416.9 484.7,417.0 485.5,417.0 486.3,417.0 487.1,417.1 487.9,417.1 488.7,417.1 489.5,417.1 490.3,417.2 491.1,417.2 491.9,417.2 492.7,417.2 493.5,417.2 494.3,417.3 495.1,417.3 495.9,417.3 496.7,417.3 497.5,417.3 498.3,417.3 499.1,417.4 499.9,417.4 500.7,417.4 501.5,417.4 502.3,417.4 503.1,417.4 503.9,417.4 504.7,417.5 505.5,417.5 506.3,417.5 507.1,417.5 507.9,417.5 508.7,417.5 509.5,417.5 510.3,417.5 511.1,417.5 511.9,417.6 512.7,417.6 513.5,417.6 514.3,417.6 515.1,417.6 515.9,417.6 516.7,417.6 517.5,417.6 518.3,417.6 519.1,417.6 519.9,417.7 520.7,417.7 521.5,417.7 522.3,417.7 523.1,417.7 523.9,417.7 524.7,417.7 525.5,417.7 526.3,417.7 527.1,417.7 527.9,417.7 528.7,417.7 529.5,417.7 530.3,417.8 531.1,417.8 531.9,417.8 532.7,417.8 533.5,417.8 534.3,417.8 535.1,417.8 535.9,417.8 536.7,417.8 536.7,418.3 535.9,418.3 535.1,418.3 534.3,418.3 533.5,418.3 532.7,418.3 531.9,418.3 531.1,418.3 530.3,418.3 529.5,418.3 528.7,418.3 527.9,418.3 527.1,418.2 526.3,418.2 525.5,418.2 524.7,418.2 523.9,418.2 523.1,418.2 522.3,418.2 521.5,418.2 520.7,418.2 519.9,418.2 519.1,418.2 518.3,418.2 517.5,418.2 516.7,418.2 515.9,418.2 515.1,418.2 514.3,418.2 513.5,418.2 512.7,418.2 511.9,418.2 511.1,418.2 510.3,418.2 509.5,418.1 508.7,418.1 507.9,418.1 507.1,418.1 506.3,418.1 505.5,418.1 504.7,418.1 503.9,418.1 503.1,418.1 502.3,418.1 501.5,418.1 500.7,418.1 499.9,418.1 499.1,418.1 498.3,418.1 497.5,418.1 496.7,418.1 495.9,418.1 495.1,418.1 494.3,418.0 493.5,418.0 492.7,418.0 491.9,418.0 491.1,418.0 490.3,418.0 489.5,418.0 488.7,418.0 487.9,418.0 487.1,418.0 486.3,418.0 485.5,418.0 484.7,418.0 483.9,418.0 483.1,418.0 482.3,417.9 481.5,417.9 480.7,417.9 479.9,417.9 479.1,417.9 478.3,417.9 477.5,417.9 476.7,417.9 475.9,417.9 475.1,417.9 474.3,417.9 473.5,417.8 472.7,417.8 471.9,417.8 471.1,417.8 470.3,417.8 469.5,417.8 468.7,417.8 467.9,417.8 467.1,417.7 466.3,417.7 465.5,417.7 464.7,417.7 463.9,417.7 463.1,417.7 462.3,417.6 461.5,417.6 460.7,417.6 459.9,417.6 459.1,417.6 458.3,417.5 457.5,417.5 456.7,417.5 455.9,417.5 455.1,417.5 454.3,417.4 453.5,417.4 452.7,417.4 451.9,417.4 451.1,417.3 450.3,417.3 449.5,417.3 448.7,417.2 447.9,417.2 447.1,417.2 446.3,417.2 445.5,417.1 444.7,417.1 443.9,417.1 443.1,417.0 442.3,417.0 441.5,417.0 440.7,416.9 439.9,416.9 439.1,416.9 438.3,416.8 437.5,416.8 436.7,416.7 435.9,416.7 435.1,416.7 434.3,416.6 433.5,416.6 432.7,416.6 431.9,416.5 431.1,416.5 430.3,416.5 429.5,416.4 428.7,416.4 427.9,416.4 427.1,416.3 426.3,416.3 425.5,416.3 424.7,416.2 423.9,416.2 423.1,416.2 422.3,416.1 421.5,416.1 420.7,416.1 419.9,416.0 419.1,416.0 418.3,416.0 417.5,416.0 416.7,415.9 415.9,415.9 415.1,415.9 414.3,415.9 413.5,415.8 412.7,415.8 411.9,415.8 411.1,415.8 410.3,415.8 409.5,415.7 408.7,415.7 407.9,415.7 407.1,415.7 406.3,415.7 405.5,415.7 404.7,415.6 403.9,415.6 403.1,415.6 402.3,415.6 401.5,415.6 400.7,415.6 399.9,415.6 399.1,415.5 398.3,415.5 397.5,415.5 396.7,415.5 395.9,415.5 395.1,415.5 394.3,415.5 393.5,415.5 392.7,415.5 391.9,415.4 391.1,415.4 390.3,415.4 389.5,415.4 388.7,415.4 387.9,415.4 387.1,415.4 386.3,415.4 385.5,415.4 384.7,415.4 383.9,415.4 383.1,415.4 382.3,415.3 381.5,415.3 380.7,415.3 379.9,415.3 379.1,415.3 378.3,415.3 377.5,415.3 376.7,415.3 375.9,415.3 375.1,415.3 374.3,415.3 373.5,415.3 372.7,415.3 371.9,415.3 371.1,415.3 370.3,415.3 369.5,415.2 368.7,415.2 367.9,415.2 367.1,415.2 366.3,415.2 365.5,415.2 364.7,415.2 363.9,415.2 363.1,415.2 362.3,415.2 361.5,415.2 360.7,415.2 359.9,415.2 359.1,415.2 358.3,415.2 357.5,415.2 356.7,415.2 355.9,415.2 355.1,415.2 354.3,415.2 353.5,415.2 352.7,415.1 351.9,415.1 351.1,415.1 350.3,415.1 349.5,415.1 348.7,415.1 347.9,415.1 347.1,415.1 346.3,415.1 345.5,415.1 344.7,415.1 343.9,415.1 343.1,415.1 342.3,415.1 341.5,415.1 340.7,415.1 339.9,415.1 339.1,415.1 338.3,415.1 337.5,415.1 336.7,415.1 335.9,415.1 335.1,415.1 334.3,415.0 333.5,415.0 332.7,415.0 331.9,415.0 331.1,415.0 330.3,415.0 329.5,415.0 328.7,415.0 327.9,415.0 327.1,415.0 326.3,415.0 325.5,415.0 324.7,415.0 323.9,415.0 323.1,415.0 322.3,415.0 321.5,415.0 320.7,415.0 319.9,415.0 319.1,415.0 318.3,415.0 317.5,415.0 316.7,415.0 315.9,415.0 315.1,414.9 314.3,414.9 313.5,414.9 312.7,414.9 311.9,414.9 311.1,414.9 310.3,414.9 309.5,414.9 308.7,414.9 307.9,414.9 307.1,414.9 306.3,414.9 305.5,414.9" fill="#c4c4c4" stroke="none"/>
<polyline class="mk2" points="305.5,414.1 306.5,414.1 307.5,414.8 308.5,414.5 309.5,414.8 310.5,414.4 311.5,414.6 312.5,414.4 313.5,414.4 314.5,414.5 315.5,414.5 316.5,414.8 317.5,414.4 318.5,414.5 319.5,414.4 320.5,414.5 321.5,414.2 322.5,414.7 323.5,414.4 324.5,414.5 325.5,414.4 326.5,414.7 327.5,414.6 328.5,414.5 329.5,414.5 330.5,414.5 331.5,414.6 332.5,414.6 333.5,414.7 334.5,414.8 335.5,414.6 336.5,414.2 337.5,414.8 338.5,414.9 339.5,414.4 340.5,414.4 341.5,414.0 342.5,414.6 343.5,414.2 344.5,414.8 345.5,413.9 346.5,414.4 347.5,414.5 348.5,414.3 349.5,414.2 350.5,414.3 351.5,414.2 352.5,414.2 353.5,414.2 354.5,414.0 355.5,414.1 356.5,414.2 357.5,413.9 358.5,414.0 359.5,413.8 360.5,414.0 361.5,413.5 362.5,413.9 363.5,413.0 364.5,413.4 365.5,413.1 366.5,413.6 367.5,413.3 368.5,412.9 369.5,412.9 370.5,413.2 371.5,412.8 372.5,412.8 373.5,412.3 374.5,412.2 375.5,412.5 376.5,412.7 377.5,412.0 378.5,412.1 379.5,411.7 380.5,412.0 381.5,411.5 382.5,411.4 383.5,410.9 384.5,411.1 385.5,411.0 386.5,411.1 387.5,410.4 388.5,410.6 389.5,410.1 390.5,409.8 391.5,409.4 392.5,408.9 393.5,408.6 394.5,408.7 395.5,407.6 396.5,407.2 397.5,406.9 398.5,405.6 399.5,405.4 400.5,404.4 401.5,403.6 402.5,402.8 403.5,401.6 404.5,400.5 405.5,399.6 406.5,398.4 407.5,396.9 408.5,395.7 409.5,394.1 410.5,393.2 411.5,391.2 412.5,389.9 413.5,388.6 414.5,386.6 415.5,384.5 416.5,382.5 417.5,380.3 418.5,378.4 419.5,375.8 420.5,373.1 421.5,370.9 422.5,367.3 423.5,364.4 424.5,361.4 425.5,358.4 426.5,355.4 427.5,352.3 428.5,349.7 429.5,347.1 430.5,344.6 431.5,342.2 432.5,341.2 433.5,339.7 434.5,339.2 435.5,339.2 436.5,339.4 437.5,340.4 438.5,342.0 439.5,343.9 440.5,346.4 441.5,348.9 442.5,352.1 443.5,355.3 444.5,359.1 445.5,362.9 446.5,366.6 447.5,370.3 448.5,374.4 449.5,378.2 450.5,382.1 451.5,385.3 452.5,388.6 453.5,391.6 454.5,395.2 455.5,397.3 456.5,399.7 457.5,402.2 458.5,403.8 459.5,406.2 460.5,407.6 461.5,409.1 462.5,410.0 463.5,411.2 464.5,412.3 465.5,413.1 466.5,414.2 467.5,414.4 468.5,414.3 469.5,415.0 470.5,415.3 471.5,415.8 472.5,415.8 473.5,416.1 474.5,416.1 475.5,416.5 476.5,416.7 477.5,416.4 478.5,416.2 479.5,416.5 480.5,417.1 481.5,416.9 482.5,416.8 483.5,416.7 484.5,417.2 485.5,417.1 486.5,417.0 487.5,417.0 488.5,417.1 489.5,417.1 490.5,417.3 491.5,417.4 492.5,416.8 493.5,416.9 494.5,417.2 495.5,417.3 496.5,417.0 497.5,417.2 498.5,417.3 499.5,417.3 500.5,417.3 501.5,417.4 502.5,417.6 503.5,417.6 504.5,417.6 505.5,417.5 506.5,417.3 507.5,417.4 508.5,417.6 509.5,417.5 510.5,417.7 511.5,417.6 512.5,417.6 513.5,417.7 514.5,417.3 515.5,417.6 516.5,417.5 517.5,417.8 518.5,417.5 519.5,417.7 520.5,417.6 521.5,417.8 522.5,417.8 523.5,417.6 524.5,417.7 525.5,417.7 526.5,417.9 527.5,417.7 528.5,417.7 529.5,417.7 530.5,417.6 531.5,417.8 532.5,417.8 533.5,417.6 534.5,418.1 535.5,417.6 536.5,417.9"/>
<polygon points="330.3,414.9 331.1,414.9 331.9,414.9 332.7,414.9 333.5,414.9 334.3,414.9 335.1,414.9 335.9,414.9 336.7,414.9 337.5,414.9 338.3,414.9 339.1,414.9 339.9,414.9 340.7,414.9 341.5,414.9 342.3,414.9 343.1,414.9 343.9,414.9 344.7,414.9 345.5,414.9 346.3,414.9 347.1,414.9 347.9,415.0 348.7,415.0 349.5,415.0 350.3,415.0 351.1,415.0 351.9,415.0 352.7,415.0 353.5,415.0 354.3,415.0 355.1,415.0 355.9,415.0 356.7,415.0 357.5,415.0 358.3,415.0 359.1,415.0 359.9,415.0 360.7,415.0 361.5,415.0 362.3,415.0 363.1,415.0 363.9,415.0 364.7,415.0 365.5,415.0 366.3,415.0 367.1,415.0 367.9,415.0 368.7,415.0 369.5,415.0 370.3,415.0 371.1,414.9 371.9,414.9 372.7,414.9 373.5,414.9 374.3,414.9 375.1,414.9 375.9,414.9 376.7,414.9 377.5,414.9 378.3,414.9 379.1,414.9 379.9,414.9 380.7,414.9 381.5,414.9 382.3,414.9 383.1,414.9 383.9,414.9 384.7,414.9 385.5,414.9 386.3,414.9 387.1,414.8 387.9,414.8 388.7,414.8 389.5,414.8 390.3,414.8 391.1,414.8 391.9,414.7 392.7,414.7 393.5,414.7 394.3,414.7 395.1,414.6 395.9,414.6 396.7,414.5 397.5,414.4 398.3,414.3 399.1,414.2 399.9,414.1 400.7,413.9 401.5,413.8 402.3,413.6 403.1,413.3 403.9,413.0 404.7,412.7 405.5,412.3 406.3,411.8 407.1,411.3 407.9,410.7 408.7,410.0 409.5,409.2 410.3,408.3 411.1,407.3 411.9,406.2 412.7,405.0 413.5,403.6 414.3,402.0 415.1,400.4 415.9,398.6 416.7,396.6 417.5,394.5 418.3,392.2 419.1,389.8 419.9,387.3 420.7,384.6 421.5,381.8 422.3,379.0 423.1,376.0 423.9,373.1 424.7,370.1 425.5,367.1 426.3,364.1 427.1,361.2 427.9,358.4 428.7,355.8 429.5,353.3 430.3,351.0 431.1,348.9 431.9,347.2 432.7,345.7 433.5,344.5 434.3,343.7 435.1,343.2 435.9,343.1 436.7,343.4 437.5,344.0 438.3,344.9 439.1,346.2 439.9,347.8 440.7,349.6 441.5,351.7 442.3,354.0 443.1,356.5 443.9,359.2 444.7,362.0 445.5,364.9 446.3,367.9 447.1,370.9 447.9,373.9 448.7,376.8 449.5,379.8 450.3,382.6 451.1,385.4 451.9,388.1 452.7,390.6 453.5,393.1 454.3,395.4 455.1,397.5 455.9,399.5 456.7,401.4 457.5,403.2 458.3,404.7 459.1,406.2 459.9,407.5 460.7,408.7 461.5,409.8 462.3,410.7 463.1,411.6 463.9,412.3 464.7,413.0 465.5,413.6 466.3,414.1 467.1,414.6 467.9,414.9 468.7,415.3 469.5,415.6 470.3,415.8 471.1,416.1 471.9,416.3 472.7,416.4 473.5,416.6 474.3,416.7 475.1,416.8 475.9,416.9 476.7,417.0 477.5,417.0 478.3,417.1 479.1,417.1 479.9,417.2 480.7,417.2 481.5,417.3 482.3,417.3 483.1,417.3 483.9,417.4 484.7,417.4 485.5,417.4 486.3,417.5 487.1,417.5 487.9,417.5 488.7,417.5 489.5,417.5 490.3,417.6 491.1,417.6 491.9,417.6 492.7,417.6 493.5,417.6 494.3,417.7 495.1,417.7 495.9,417.7 496.7,417.7 497.5,417.7 498.3,417.7 499.1,417.7 499.9,417.8 500.7,417.8 501.5,417.8 502.3,417.8 503.1,417.8 503.9,417.8 504.7,417.8 505.5,417.8 506.3,417.9 507.1,417.9 507.9,417.9 508.7,417.9 509.5,417.9 510.3,417.9 511.1,417.9 511.9,417.9 512.7,417.9 513.5,417.9 514.3,418.0 515.1,418.0 515.9,418.0 516.7,418.0 517.5,418.0 518.3,418.0 519.1,418.0 519.9,418.0 520.7,418.0 521.5,418.0 522.3,418.0 523.1,418.0 523.9,418.1 524.7,418.1 525.5,418.1 526.3,418.1 527.1,418.1 527.9,418.1 528.7,418.1 529.5,418.1 530.3,418.1 531.1,418.1 531.9,418.1 532.7,418.1 533.5,418.1 534.3,418.1 535.1,418.1 535.9,418.2 536.7,418.2 536.7,418.3 535.9,418.3 535.1,418.3 534.3,418.3 533.5,418.3 532.7,418.3 531.9,418.3 531.1,418.3 530.3,418.3 529.5,418.3 528.7,418.3 527.9,418.3 527.1,418.2 526.3,418.2 525.5,418.2 524.7,418.2 523.9,418.2 523.1,418.2 522.3,418.2 521.5,418.2 520.7,418.2 519.9,418.2 519.1,418.2 518.3,418.2 517.5,418.2 516.7,418.2 515.9,418.2 515.1,418.2 514.3,418.2 513.5,418.2 512.7,418.2 511.9,418.2 511.1,418.2 510.3,418.2 509.5,418.1 508.7,418.1 507.9,418.1 507.1,418.1 506.3,418.1 505.5,418.1 504.7,418.1 503.9,418.1 503.1,418.1 502.3,418.1 501.5,418.1 500.7,418.1 499.9,418.1 499.1,418.1 498.3,418.1 497.5,418.1 496.7,418.1 495.9,418.1 495.1,418.1 494.3,418.0 493.5,418.0 492.7,418.0 491.9,418.0 491.1,418.0 490.3,418.0 489.5,418.0 488.7,418.0 487.9,418.0 487.1,418.0 486.3,418.0 485.5,418.0 484.7,418.0 483.9,418.0 483.1,418.0 482.3,417.9 481.5,417.9 480.7,417.9 479.9,417.9 479.1,417.9 478.3,417.9 477.5,417.9 476.7,417.9 475.9,417.9 475.1,417.9 474.3,417.9 473.5,417.8 472.7,417.8 471.9,417.8 471.1,417.8 470.3,417.8 469.5,417.8 468.7,417.8 467.9,417.8 467.1,417.7 466.3,417.7 465.5,417.7 464.7,417.7 463.9,417.7 463.1,417.7 462.3,417.6 461.5,417.6 460.7,417.6 459.9,417.6 459.1,417.6 458.3,417.5 457.5,417.5 456.7,417.5 455.9,417.5 455.1,417.5 454.3,417.4 453.5,417.4 452.7,417.4 451.9,417.4 451.1,417.3 450.3,417.3 449.5,417.3 448.7,417.2 447.9,417.2 447.1,417.2 446.3,417.2 445.5,417.1 444.7,417.1 443.9,417.1 443.1,417.0 442.3,417.0 441.5,417.0 440.7,416.9 439.9,416.9 439.1,416.9 438.3,416.8 437.5,416.8 436.7,416.7 435.9,416.7 435.1,416.7 434.3,416.6 433.5,416.6 432.7,416.6 431.9,416.5 431.1,416.5 430.3,416.5 429.5,416.4 428.7,416.4 427.9,416.4 427.1,416.3 426.3,416.3 425.5,416.3 424.7,416.2 423.9,416.2 423.1,416.2 422.3,416.1 421.5,416.1 420.7,416.1 419.9,416.0 419.1,416.0 418.3,416.0 417.5,416.0 416.7,415.9 415.9,415.9 415.1,415.9 414.3,415.9 413.5,415.8 412.7,415.8 411.9,415.8 411.1,415.8 410.3,415.8 409.5,415.7 408.7,415.7 407.9,415.7 407.1,415.7 406.3,415.7 405.5,415.7 404.7,415.6 403.9,415.6 403.1,415.6 402.3,415.6 401.5,415.6 400.7,415.6 399.9,415.6 399.1,415.5 398.3,415.5 397.5,415.5 396.7,415.5 395.9,415.5 395.1,415.5 394.3,415.5 393.5,415.5 392.7,415.5 391.9,415.4 391.1,415.4 390.3,415.4 389.5,415.4 388.7,415.4 387.9,415.4 387.1,415.4 386.3,415.4 385.5,415.4 384.7,415.4 383.9,415.4 383.1,415.4 382.3,415.3 381.5,415.3 380.7,415.3 379.9,415.3 379.1,415.3 378.3,415.3 377.5,415.3 376.7,415.3 375.9,415.3 375.1,415.3 374.3,415.3 373.5,415.3 372.7,415.3 371.9,415.3 371.1,415.3 370.3,415.3 369.5,415.2 368.7,415.2 367.9,415.2 367.1,415.2 366.3,415.2 365.5,415.2 364.7,415.2 363.9,415.2 363.1,415.2 362.3,415.2 361.5,415.2 360.7,415.2 359.9,415.2 359.1,415.2 358.3,415.2 357.5,415.2 356.7,415.2 355.9,415.2 355.1,415.2 354.3,415.2 353.5,415.2 352.7,415.1 351.9,415.1 351.1,415.1 350.3,415.1 349.5,415.1 348.7,415.1 347.9,415.1 347.1,415.1 346.3,415.1 345.5,415.1 344.7,415.1 343.9,415.1 343.1,415.1 342.3,415.1 341.5,415.1 340.7,415.1 339.9,415.1 339.1,415.1 338.3,415.1 337.5,415.1 336.7,415.1 335.9,415.1 335.1,415.1 334.3,415.0 333.5,415.0 332.7,415.0 331.9,415.0 331.1,415.0 330.3,415.0" fill="#e6555a" fill-opacity="0.8" stroke="none"/>
<polygon points="366.3,415.1 367.1,415.1 367.9,415.1 368.7,415.1 369.5,415.1 370.3,415.1 371.1,415.1 371.9,415.1 372.7,415.1 373.5,415.1 374.3,415.1 375.1,415.1 375.9,415.1 376.7,415.1 377.5,415.1 378.3,415.1 379.1,415.1 379.9,415.0 380.7,415.0 381.5,415.0 382.3,415.0 383.1,415.0 383.9,414.9 384.7,414.9 385.5,414.8 386.3,414.8 387.1,414.7 387.9,414.6 388.7,414.5 389.5,414.4 390.3,414.3 391.1,414.1 391.9,413.9 392.7,413.8 393.5,413.5 394.3,413.3 395.1,413.0 395.9,412.8 396.7,412.5 397.5,412.1 398.3,411.8 399.1,411.4 399.9,411.0 400.7,410.6 401.5,410.2 402.3,409.8 403.1,409.3 403.9,408.9 404.7,408.5 405.5,408.1 406.3,407.7 407.1,407.3 407.9,407.0 408.7,406.7 409.5,406.5 410.3,406.3 411.1,406.2 411.9,406.1 412.7,406.1 413.5,406.2 414.3,406.3 415.1,406.5 415.9,406.8 416.7,407.1 417.5,407.4 418.3,407.8 419.1,408.2 419.9,408.7 420.7,409.1 421.5,409.6 422.3,410.1 423.1,410.6 423.9,411.0 424.7,411.5 425.5,411.9 426.3,412.4 427.1,412.8 427.9,413.1 428.7,413.5 429.5,413.9 430.3,414.2 431.1,414.5 431.9,414.7 432.7,415.0 433.5,415.2 434.3,415.4 435.1,415.6 435.9,415.8 436.7,415.9 437.5,416.0 438.3,416.2 439.1,416.3 439.9,416.4 440.7,416.5 441.5,416.5 442.3,416.6 443.1,416.7 443.9,416.7 444.7,416.8 445.5,416.9 446.3,416.9 447.1,416.9 447.9,417.0 448.7,417.0 449.5,417.1 450.3,417.1 451.1,417.1 451.9,417.2 452.7,417.2 453.5,417.2 454.3,417.3 455.1,417.3 455.9,417.3 456.7,417.4 457.5,417.4 458.3,417.4 459.1,417.4 459.1,417.6 458.3,417.5 457.5,417.5 456.7,417.5 455.9,417.5 455.1,417.5 454.3,417.4 453.5,417.4 452.7,417.4 451.9,417.4 451.1,417.3 450.3,417.3 449.5,417.3 448.7,417.2 447.9,417.2 447.1,417.2 446.3,417.2 445.5,417.1 444.7,417.1 443.9,417.1 443.1,417.0 442.3,417.0 441.5,417.0 440.7,416.9 439.9,416.9 439.1,416.9 438.3,416.8 437.5,416.8 436.7,416.7 435.9,416.7 435.1,416.7 434.3,416.6 433.5,416.6 432.7,416.6 431.9,416.5 431.1,416.5 430.3,416.5 429.5,416.4 428.7,416.4 427.9,416.4 427.1,416.3 426.3,416.3 425.5,416.3 424.7,416.2 423.9,416.2 423.1,416.2 422.3,416.1 421.5,416.1 420.7,416.1 419.9,416.0 419.1,416.0 418.3,416.0 417.5,416.0 416.7,415.9 415.9,415.9 415.1,415.9 414.3,415.9 413.5,415.8 412.7,415.8 411.9,415.8 411.1,415.8 410.3,415.8 409.5,415.7 408.7,415.7 407.9,415.7 407.1,415.7 406.3,415.7 405.5,415.7 404.7,415.6 403.9,415.6 403.1,415.6 402.3,415.6 401.5,415.6 400.7,415.6 399.9,415.6 399.1,415.5 398.3,415.5 397.5,415.5 396.7,415.5 395.9,415.5 395.1,415.5 394.3,415.5 393.5,415.5 392.7,415.5 391.9,415.4 391.1,415.4 390.3,415.4 389.5,415.4 388.7,415.4 387.9,415.4 387.1,415.4 386.3,415.4 385.5,415.4 384.7,415.4 383.9,415.4 383.1,415.4 382.3,415.3 381.5,415.3 380.7,415.3 379.9,415.3 379.1,415.3 378.3,415.3 377.5,415.3 376.7,415.3 375.9,415.3 375.1,415.3 374.3,415.3 373.5,415.3 372.7,415.3 371.9,415.3 371.1,415.3 370.3,415.3 369.5,415.2 368.7,415.2 367.9,415.2 367.1,415.2 366.3,415.2" fill="#4572b4" fill-opacity="0.8" stroke="none"/>
<polygon points="344.7,415.0 345.5,415.0 346.3,415.0 347.1,415.0 347.9,415.0 348.7,414.9 349.5,414.9 350.3,414.9 351.1,414.9 351.9,414.9 352.7,414.9 353.5,414.9 354.3,414.8 355.1,414.8 355.9,414.8 356.7,414.8 357.5,414.7 358.3,414.7 359.1,414.7 359.9,414.6 360.7,414.6 361.5,414.5 362.3,414.5 363.1,414.4 363.9,414.4 364.7,414.3 365.5,414.3 366.3,414.2 367.1,414.1 367.9,414.1 368.7,414.0 369.5,414.0 370.3,413.9 371.1,413.8 371.9,413.8 372.7,413.7 373.5,413.6 374.3,413.6 375.1,413.5 375.9,413.4 376.7,413.4 377.5,413.3 378.3,413.2 379.1,413.2 379.9,413.1 380.7,413.1 381.5,413.1 382.3,413.0 383.1,413.0 383.9,413.0 384.7,413.0 385.5,413.0 386.3,413.0 387.1,413.0 387.9,413.0 388.7,413.0 389.5,413.1 390.3,413.1 391.1,413.1 391.9,413.2 392.7,413.3 393.5,413.3 394.3,413.4 395.1,413.5 395.9,413.5 396.7,413.6 397.5,413.7 398.3,413.8 399.1,413.9 399.9,413.9 400.7,414.0 401.5,414.1 402.3,414.2 403.1,414.3 403.9,414.4 404.7,414.5 405.5,414.5 406.3,414.6 407.1,414.7 407.9,414.8 408.7,414.9 409.5,414.9 410.3,415.0 411.1,415.1 411.9,415.2 412.7,415.2 413.5,415.3 414.3,415.4 415.1,415.4 415.9,415.5 416.7,415.5 417.5,415.6 418.3,415.7 419.1,415.7 419.9,415.8 420.7,415.8 421.5,415.9 422.3,415.9 423.1,416.0 423.9,416.0 424.7,416.1 425.5,416.1 426.3,416.1 427.1,416.2 427.9,416.2 427.9,416.4 427.1,416.3 426.3,416.3 425.5,416.3 424.7,416.2 423.9,416.2 423.1,416.2 422.3,416.1 421.5,416.1 420.7,416.1 419.9,416.0 419.1,416.0 418.3,416.0 417.5,416.0 416.7,415.9 415.9,415.9 415.1,415.9 414.3,415.9 413.5,415.8 412.7,415.8 411.9,415.8 411.1,415.8 410.3,415.8 409.5,415.7 408.7,415.7 407.9,415.7 407.1,415.7 406.3,415.7 405.5,415.7 404.7,415.6 403.9,415.6 403.1,415.6 402.3,415.6 401.5,415.6 400.7,415.6 399.9,415.6 399.1,415.5 398.3,415.5 397.5,415.5 396.7,415.5 395.9,415.5 395.1,415.5 394.3,415.5 393.5,415.5 392.7,415.5 391.9,415.4 391.1,415.4 390.3,415.4 389.5,415.4 388.7,415.4 387.9,415.4 387.1,415.4 386.3,415.4 385.5,415.4 384.7,415.4 383.9,415.4 383.1,415.4 382.3,415.3 381.5,415.3 380.7,415.3 379.9,415.3 379.1,415.3 378.3,415.3 377.5,415.3 376.7,415.3 375.9,415.3 375.1,415.3 374.3,415.3 373.5,415.3 372.7,415.3 371.9,415.3 371.1,415.3 370.3,415.3 369.5,415.2 368.7,415.2 367.9,415.2 367.1,415.2 366.3,415.2 365.5,415.2 364.7,415.2 363.9,415.2 363.1,415.2 362.3,415.2 361.5,415.2 360.7,415.2 359.9,415.2 359.1,415.2 358.3,415.2 357.5,415.2 356.7,415.2 355.9,415.2 355.1,415.2 354.3,415.2 353.5,415.2 352.7,415.1 351.9,415.1 351.1,415.1 350.3,415.1 349.5,415.1 348.7,415.1 347.9,415.1 347.1,415.1 346.3,415.1 345.5,415.1 344.7,415.1" fill="#ffd12b" fill-opacity="0.8" stroke="none"/>
<polyline points="330.3,414.9 331.1,414.9 331.9,414.9 332.7,414.9 333.5,414.9 334.3,414.9 335.1,414.9 335.9,414.9 336.7,414.9 337.5,414.9 338.3,414.9 339.1,414.9 339.9,414.9 340.7,414.9 341.5,414.9 342.3,414.9 343.1,414.9 343.9,414.9 344.7,414.9 345.5,414.9 346.3,414.9 347.1,414.9 347.9,415.0 348.7,415.0 349.5,415.0 350.3,415.0 351.1,415.0 351.9,415.0 352.7,415.0 353.5,415.0 354.3,415.0 355.1,415.0 355.9,415.0 356.7,415.0 357.5,415.0 358.3,415.0 359.1,415.0 359.9,415.0 360.7,415.0 361.5,415.0 362.3,415.0 363.1,415.0 363.9,415.0 364.7,415.0 365.5,415.0 366.3,415.0 367.1,415.0 367.9,415.0 368.7,415.0 369.5,415.0 370.3,415.0 371.1,414.9 371.9,414.9 372.7,414.9 373.5,414.9 374.3,414.9 375.1,414.9 375.9,414.9 376.7,414.9 377.5,414.9 378.3,414.9 379.1,414.9 379.9,414.9 380.7,414.9 381.5,414.9 382.3,414.9 383.1,414.9 383.9,414.9 384.7,414.9 385.5,414.9 386.3,414.9 387.1,414.8 387.9,414.8 388.7,414.8 389.5,414.8 390.3,414.8 391.1,414.8 391.9,414.7 392.7,414.7 393.5,414.7 394.3,414.7 395.1,414.6 395.9,414.6 396.7,414.5 397.5,414.4 398.3,414.3 399.1,414.2 399.9,414.1 400.7,413.9 401.5,413.8 402.3,413.6 403.1,413.3 403.9,413.0 404.7,412.7 405.5,412.3 406.3,411.8 407.1,411.3 407.9,410.7 408.7,410.0 409.5,409.2 410.3,408.3 411.1,407.3 411.9,406.2 412.7,405.0 413.5,403.6 414.3,402.0 415.1,400.4 415.9,398.6 416.7,396.6 417.5,394.5 418.3,392.2 419.1,389.8 419.9,387.3 420.7,384.6 421.5,381.8 422.3,379.0 423.1,376.0 423.9,373.1 424.7,370.1 425.5,367.1 426.3,364.1 427.1,361.2 427.9,358.4 428.7,355.8 429.5,353.3 430.3,351.0 431.1,348.9 431.9,347.2 432.7,345.7 433.5,344.5 434.3,343.7 435.1,343.2 435.9,343.1 436.7,343.4 437.5,344.0 438.3,344.9 439.1,346.2 439.9,347.8 440.7,349.6 441.5,351.7 442.3,354.0 443.1,356.5 443.9,359.2 444.7,362.0 445.5,364.9 446.3,367.9 447.1,370.9 447.9,373.9 448.7,376.8 449.5,379.8 450.3,382.6 451.1,385.4 451.9,388.1 452.7,390.6 453.5,393.1 454.3,395.4 455.1,397.5 455.9,399.5 456.7,401.4 457.5,403.2 458.3,404.7 459.1,406.2 459.9,407.5 460.7,408.7 461.5,409.8 462.3,410.7 463.1,411.6 463.9,412.3 464.7,413.0 465.5,413.6 466.3,414.1 467.1,414.6 467.9,414.9 468.7,415.3 469.5,415.6 470.3,415.8 471.1,416.1 471.9,416.3 472.7,416.4 473.5,416.6 474.3,416.7 475.1,416.8 475.9,416.9 476.7,417.0 477.5,417.0 478.3,417.1 479.1,417.1 479.9,417.2 480.7,417.2 481.5,417.3 482.3,417.3 483.1,417.3 483.9,417.4 484.7,417.4 485.5,417.4 486.3,417.5 487.1,417.5 487.9,417.5 488.7,417.5 489.5,417.5 490.3,417.6 491.1,417.6 491.9,417.6 492.7,417.6 493.5,417.6 494.3,417.7 495.1,417.7 495.9,417.7 496.7,417.7 497.5,417.7 498.3,417.7 499.1,417.7 499.9,417.8 500.7,417.8 501.5,417.8 502.3,417.8 503.1,417.8 503.9,417.8 504.7,417.8 505.5,417.8 506.3,417.9 507.1,417.9 507.9,417.9 508.7,417.9 509.5,417.9 510.3,417.9 511.1,417.9 511.9,417.9 512.7,417.9 513.5,417.9 514.3,418.0 515.1,418.0 515.9,418.0 516.7,418.0 517.5,418.0 518.3,418.0 519.1,418.0 519.9,418.0 520.7,418.0 521.5,418.0 522.3,418.0 523.1,418.0 523.9,418.1 524.7,418.1 525.5,418.1 526.3,418.1 527.1,418.1 527.9,418.1 528.7,418.1 529.5,418.1 530.3,418.1 531.1,418.1 531.9,418.1 532.7,418.1 533.5,418.1 534.3,418.1 535.1,418.1 535.9,418.2 536.7,418.2" fill="none" stroke="#e8202a" stroke-width="1.4"/>
<polyline points="366.3,415.1 367.1,415.1 367.9,415.1 368.7,415.1 369.5,415.1 370.3,415.1 371.1,415.1 371.9,415.1 372.7,415.1 373.5,415.1 374.3,415.1 375.1,415.1 375.9,415.1 376.7,415.1 377.5,415.1 378.3,415.1 379.1,415.1 379.9,415.0 380.7,415.0 381.5,415.0 382.3,415.0 383.1,415.0 383.9,414.9 384.7,414.9 385.5,414.8 386.3,414.8 387.1,414.7 387.9,414.6 388.7,414.5 389.5,414.4 390.3,414.3 391.1,414.1 391.9,413.9 392.7,413.8 393.5,413.5 394.3,413.3 395.1,413.0 395.9,412.8 396.7,412.5 397.5,412.1 398.3,411.8 399.1,411.4 399.9,411.0 400.7,410.6 401.5,410.2 402.3,409.8 403.1,409.3 403.9,408.9 404.7,408.5 405.5,408.1 406.3,407.7 407.1,407.3 407.9,407.0 408.7,406.7 409.5,406.5 410.3,406.3 411.1,406.2 411.9,406.1 412.7,406.1 413.5,406.2 414.3,406.3 415.1,406.5 415.9,406.8 416.7,407.1 417.5,407.4 418.3,407.8 419.1,408.2 419.9,408.7 420.7,409.1 421.5,409.6 422.3,410.1 423.1,410.6 423.9,411.0 424.7,411.5 425.5,411.9 426.3,412.4 427.1,412.8 427.9,413.1 428.7,413.5 429.5,413.9 430.3,414.2 431.1,414.5 431.9,414.7 432.7,415.0 433.5,415.2 434.3,415.4 435.1,415.6 435.9,415.8 436.7,415.9 437.5,416.0 438.3,416.2 439.1,416.3 439.9,416.4 440.7,416.5 441.5,416.5 442.3,416.6 443.1,416.7 443.9,416.7 444.7,416.8 445.5,416.9 446.3,416.9 447.1,416.9 447.9,417.0 448.7,417.0 449.5,417.1 450.3,417.1 451.1,417.1 451.9,417.2 452.7,417.2 453.5,417.2 454.3,417.3 455.1,417.3 455.9,417.3 456.7,417.4 457.5,417.4 458.3,417.4 459.1,417.4" fill="none" stroke="#1f6fb5" stroke-width="1.4"/>
<polyline points="344.7,415.0 345.5,415.0 346.3,415.0 347.1,415.0 347.9,415.0 348.7,414.9 349.5,414.9 350.3,414.9 351.1,414.9 351.9,414.9 352.7,414.9 353.5,414.9 354.3,414.8 355.1,414.8 355.9,414.8 356.7,414.8 357.5,414.7 358.3,414.7 359.1,414.7 359.9,414.6 360.7,414.6 361.5,414.5 362.3,414.5 363.1,414.4 363.9,414.4 364.7,414.3 365.5,414.3 366.3,414.2 367.1,414.1 367.9,414.1 368.7,414.0 369.5,414.0 370.3,413.9 371.1,413.8 371.9,413.8 372.7,413.7 373.5,413.6 374.3,413.6 375.1,413.5 375.9,413.4 376.7,413.4 377.5,413.3 378.3,413.2 379.1,413.2 379.9,413.1 380.7,413.1 381.5,413.1 382.3,413.0 383.1,413.0 383.9,413.0 384.7,413.0 385.5,413.0 386.3,413.0 387.1,413.0 387.9,413.0 388.7,413.0 389.5,413.1 390.3,413.1 391.1,413.1 391.9,413.2 392.7,413.3 393.5,413.3 394.3,413.4 395.1,413.5 395.9,413.5 396.7,413.6 397.5,413.7 398.3,413.8 399.1,413.9 399.9,413.9 400.7,414.0 401.5,414.1 402.3,414.2 403.1,414.3 403.9,414.4 404.7,414.5 405.5,414.5 406.3,414.6 407.1,414.7 407.9,414.8 408.7,414.9 409.5,414.9 410.3,415.0 411.1,415.1 411.9,415.2 412.7,415.2 413.5,415.3 414.3,415.4 415.1,415.4 415.9,415.5 416.7,415.5 417.5,415.6 418.3,415.7 419.1,415.7 419.9,415.8 420.7,415.8 421.5,415.9 422.3,415.9 423.1,416.0 423.9,416.0 424.7,416.1 425.5,416.1 426.3,416.1 427.1,416.2 427.9,416.2" fill="none" stroke="#f2b705" stroke-width="1.4"/>
<polyline points="305.5,415.1 306.3,415.1 307.1,415.1 307.9,415.1 308.7,415.1 309.5,415.1 310.3,415.1 311.1,415.1 311.9,415.1 312.7,415.1 313.5,415.1 314.3,415.1 315.1,415.1 315.9,415.2 316.7,415.2 317.5,415.2 318.3,415.2 319.1,415.2 319.9,415.2 320.7,415.2 321.5,415.2 322.3,415.2 323.1,415.2 323.9,415.2 324.7,415.2 325.5,415.2 326.3,415.2 327.1,415.2 327.9,415.2 328.7,415.2 329.5,415.2 330.3,415.2" fill="none" stroke="#1fb36f" stroke-width="1.6"/>
<polyline points="331.1,415.2 331.9,415.2 332.7,415.2 333.5,415.2 334.3,415.2 335.1,415.3 335.9,415.3 336.7,415.3 337.5,415.3 338.3,415.3 339.1,415.3 339.9,415.3 340.7,415.3 341.5,415.3 342.3,415.3 343.1,415.3 343.9,415.3 344.7,415.3 345.5,415.3 346.3,415.3 347.1,415.3 347.9,415.3 348.7,415.3 349.5,415.3 350.3,415.3 351.1,415.3 351.9,415.3 352.7,415.3 353.5,415.4 354.3,415.4" fill="none" stroke="#f2b705" stroke-width="1.6"/>
<polyline points="355.1,415.4 355.9,415.4 356.7,415.4 357.5,415.4 358.3,415.4 359.1,415.4 359.9,415.4 360.7,415.4 361.5,415.4 362.3,415.4 363.1,415.4 363.9,415.4" fill="none" stroke="#e8202a" stroke-width="1.6"/>
<polyline points="364.7,415.4 365.5,415.4 366.3,415.4 367.1,415.4 367.9,415.4 368.7,415.4 369.5,415.4 370.3,415.5 371.1,415.5 371.9,415.5 372.7,415.5 373.5,415.5 374.3,415.5 375.1,415.5 375.9,415.5 376.7,415.5 377.5,415.5 378.3,415.5 379.1,415.5 379.9,415.5 380.7,415.5 381.5,415.5 382.3,415.5 383.1,415.6 383.9,415.6 384.7,415.6 385.5,415.6 386.3,415.6 387.1,415.6 387.9,415.6 388.7,415.6 389.5,415.6 390.3,415.6 391.1,415.6 391.9,415.6 392.7,415.7 393.5,415.7 394.3,415.7 395.1,415.7 395.9,415.7 396.7,415.7 397.5,415.7 398.3,415.7 399.1,415.7 399.9,415.8" fill="none" stroke="#19a7b5" stroke-width="1.6"/>
<polyline points="400.7,415.8 401.5,415.8 402.3,415.8 403.1,415.8 403.9,415.8 404.7,415.8 405.5,415.9 406.3,415.9 407.1,415.9 407.9,415.9 408.7,415.9 409.5,415.9 410.3,416.0 411.1,416.0 411.9,416.0 412.7,416.0 413.5,416.0 414.3,416.1 415.1,416.1 415.9,416.1 416.7,416.1 417.5,416.2 418.3,416.2 419.1,416.2 419.9,416.2 420.7,416.3 421.5,416.3 422.3,416.3 423.1,416.4 423.9,416.4 424.7,416.4 425.5,416.5 426.3,416.5 427.1,416.5 427.9,416.6 428.7,416.6 429.5,416.6 430.3,416.7 431.1,416.7 431.9,416.7 432.7,416.8 433.5,416.8 434.3,416.8 435.1,416.9 435.9,416.9 436.7,416.9 437.5,417.0 438.3,417.0 439.1,417.1 439.9,417.1" fill="none" stroke="#f2b705" stroke-width="1.6"/>
<polyline points="440.7,417.1 441.5,417.2 442.3,417.2 443.1,417.2 443.9,417.3 444.7,417.3 445.5,417.3 446.3,417.4 447.1,417.4 447.9,417.4 448.7,417.4 449.5,417.5 450.3,417.5 451.1,417.5 451.9,417.6 452.7,417.6 453.5,417.6 454.3,417.6 455.1,417.7 455.9,417.7 456.7,417.7 457.5,417.7 458.3,417.7 459.1,417.8 459.9,417.8 460.7,417.8 461.5,417.8 462.3,417.8 463.1,417.9 463.9,417.9 464.7,417.9 465.5,417.9 466.3,417.9 467.1,417.9 467.9,418.0 468.7,418.0 469.5,418.0" fill="none" stroke="#19a7b5" stroke-width="1.6"/>
<polyline points="470.3,418.0 471.1,418.0 471.9,418.0 472.7,418.0 473.5,418.0 474.3,418.1 475.1,418.1 475.9,418.1 476.7,418.1 477.5,418.1 478.3,418.1 479.1,418.1 479.9,418.1 480.7,418.1 481.5,418.1 482.3,418.1 483.1,418.2 483.9,418.2 484.7,418.2 485.5,418.2 486.3,418.2 487.1,418.2 487.9,418.2 488.7,418.2 489.5,418.2 490.3,418.2 491.1,418.2 491.9,418.2 492.7,418.2 493.5,418.2 494.3,418.2 495.1,418.3 495.9,418.3 496.7,418.3 497.5,418.3 498.3,418.3 499.1,418.3 499.9,418.3 500.7,418.3 501.5,418.3 502.3,418.3 503.1,418.3 503.9,418.3 504.7,418.3 505.5,418.3 506.3,418.3 507.1,418.3 507.9,418.3 508.7,418.3 509.5,418.3 510.3,418.4 511.1,418.4 511.9,418.4 512.7,418.4 513.5,418.4 514.3,418.4 515.1,418.4 515.9,418.4 516.7,418.4 517.5,418.4 518.3,418.4 519.1,418.4 519.9,418.4 520.7,418.4 521.5,418.4 522.3,418.4 523.1,418.4 523.9,418.4 524.7,418.4 525.5,418.4 526.3,418.4 527.1,418.4 527.9,418.5 528.7,418.5 529.5,418.5 530.3,418.5 531.1,418.5 531.9,418.5 532.7,418.5 533.5,418.5 534.3,418.5 535.1,418.5 535.9,418.5 536.7,418.5" fill="none" stroke="#1f6fb5" stroke-width="1.6"/>
<rect x="305.5" y="241.6" width="231.3" height="185.3" fill="none" stroke="#000" stroke-width="1.45"/>
<path d="M305.5 426.9v3.5M351.8 426.9v3.5M398.0 426.9v3.5M444.3 426.9v3.5M490.5 426.9v3.5M536.8 426.9v3.5M328.6 426.9v2.0M374.9 426.9v2.0M421.1 426.9v2.0M467.4 426.9v2.0M513.7 426.9v2.0" stroke="#000" stroke-width="1.25" fill="none"/>
<text transform="translate(305.5 441.7) scale(1 1.08)" font-size="11.1" fill="#000" stroke="#000" text-anchor="middle" >536</text>
<text transform="translate(351.8 441.7) scale(1 1.08)" font-size="11.1" fill="#000" stroke="#000" text-anchor="middle" >534</text>
<text transform="translate(398.0 441.7) scale(1 1.08)" font-size="11.1" fill="#000" stroke="#000" text-anchor="middle" >532</text>
<text transform="translate(444.3 441.7) scale(1 1.08)" font-size="11.1" fill="#000" stroke="#000" text-anchor="middle" >530</text>
<text transform="translate(490.5 441.7) scale(1 1.08)" font-size="11.1" fill="#000" stroke="#000" text-anchor="middle" >528</text>
<text transform="translate(536.8 441.7) scale(1 1.08)" font-size="11.1" fill="#000" stroke="#000" text-anchor="middle" >526</text>
<text transform="translate(292.6 333.9) rotate(-90) scale(1.155 1)" font-size="11.6" stroke="#000" text-anchor="middle">Intensity (a.u.)</text>
<text transform="translate(421.0 455.0) scale(1 1.08)" font-size="13.35" fill="#000" stroke="#000" text-anchor="middle" >Binding energy (ev)</text>
<text transform="translate(271.3 243.8) scale(1 1.08)" font-size="24" fill="#000" stroke="#000" text-anchor="start" >(d)</text>
<text transform="translate(498.4 266.8) scale(1 1.08)" font-size="11.8" fill="#000" stroke="#000" text-anchor="start" >O 1s</text>
<text transform="translate(367.5 302.0) scale(1 1.08)" font-size="10" fill="#f2b705" stroke="#f2b705" text-anchor="start" >O<tspan dy="2.0" font-size="6.8">C</tspan><tspan dy="-2.0" font-size="0.1">&#8203;</tspan></text>
<text transform="translate(365.2 313.0) scale(1 1.08)" font-size="7.7" fill="#f2b705" stroke="#f2b705" text-anchor="start" >532.5</text>
<text transform="translate(396.5 297.9) scale(1 1.08)" font-size="10" fill="#1f6fb5" stroke="#1f6fb5" text-anchor="start" >O<tspan dy="2.0" font-size="6.8">V</tspan><tspan dy="-2.0" font-size="0.1">&#8203;</tspan></text>
<text transform="translate(392.5 306.0) scale(1 1.08)" font-size="7.7" fill="#1f6fb5" stroke="#1f6fb5" text-anchor="start" >531.4</text>
<text transform="translate(458.4 275.0) scale(1 1.08)" font-size="10" fill="#e8202a" stroke="#e8202a" text-anchor="start" >O<tspan dy="2.0" font-size="6.8">L</tspan><tspan dy="-2.0" font-size="0.1">&#8203;</tspan></text>
<text transform="translate(455.9 283.9) scale(1 1.08)" font-size="7.7" fill="#e8202a" stroke="#e8202a" text-anchor="start" >530.4</text>
<text transform="translate(367.0 393.9) scale(1 1.08)" font-size="10" fill="#f2b705" stroke="#f2b705" text-anchor="start" >O<tspan dy="2.0" font-size="6.8">C</tspan><tspan dy="-2.0" font-size="0.1">&#8203;</tspan></text>
<text transform="translate(364.0 402.5) scale(1 1.08)" font-size="7.7" fill="#f2b705" stroke="#f2b705" text-anchor="start" >532.5</text>
<text transform="translate(393.4 387.5) scale(1 1.08)" font-size="10" fill="#1f6fb5" stroke="#1f6fb5" text-anchor="start" >O<tspan dy="2.0" font-size="6.8">V</tspan><tspan dy="-2.0" font-size="0.1">&#8203;</tspan></text>
<text transform="translate(391.4 396.6) scale(1 1.08)" font-size="7.7" fill="#1f6fb5" stroke="#1f6fb5" text-anchor="start" >531.4</text>
<text transform="translate(468.0 384.2) scale(1 1.08)" font-size="10" fill="#e8202a" stroke="#e8202a" text-anchor="start" >O<tspan dy="2.0" font-size="6.8">L</tspan><tspan dy="-2.0" font-size="0.1">&#8203;</tspan></text>
<text transform="translate(465.9 395.6) scale(1 1.08)" font-size="7.7" fill="#e8202a" stroke="#e8202a" text-anchor="start" >530.4</text>
</svg>
</body></html>
